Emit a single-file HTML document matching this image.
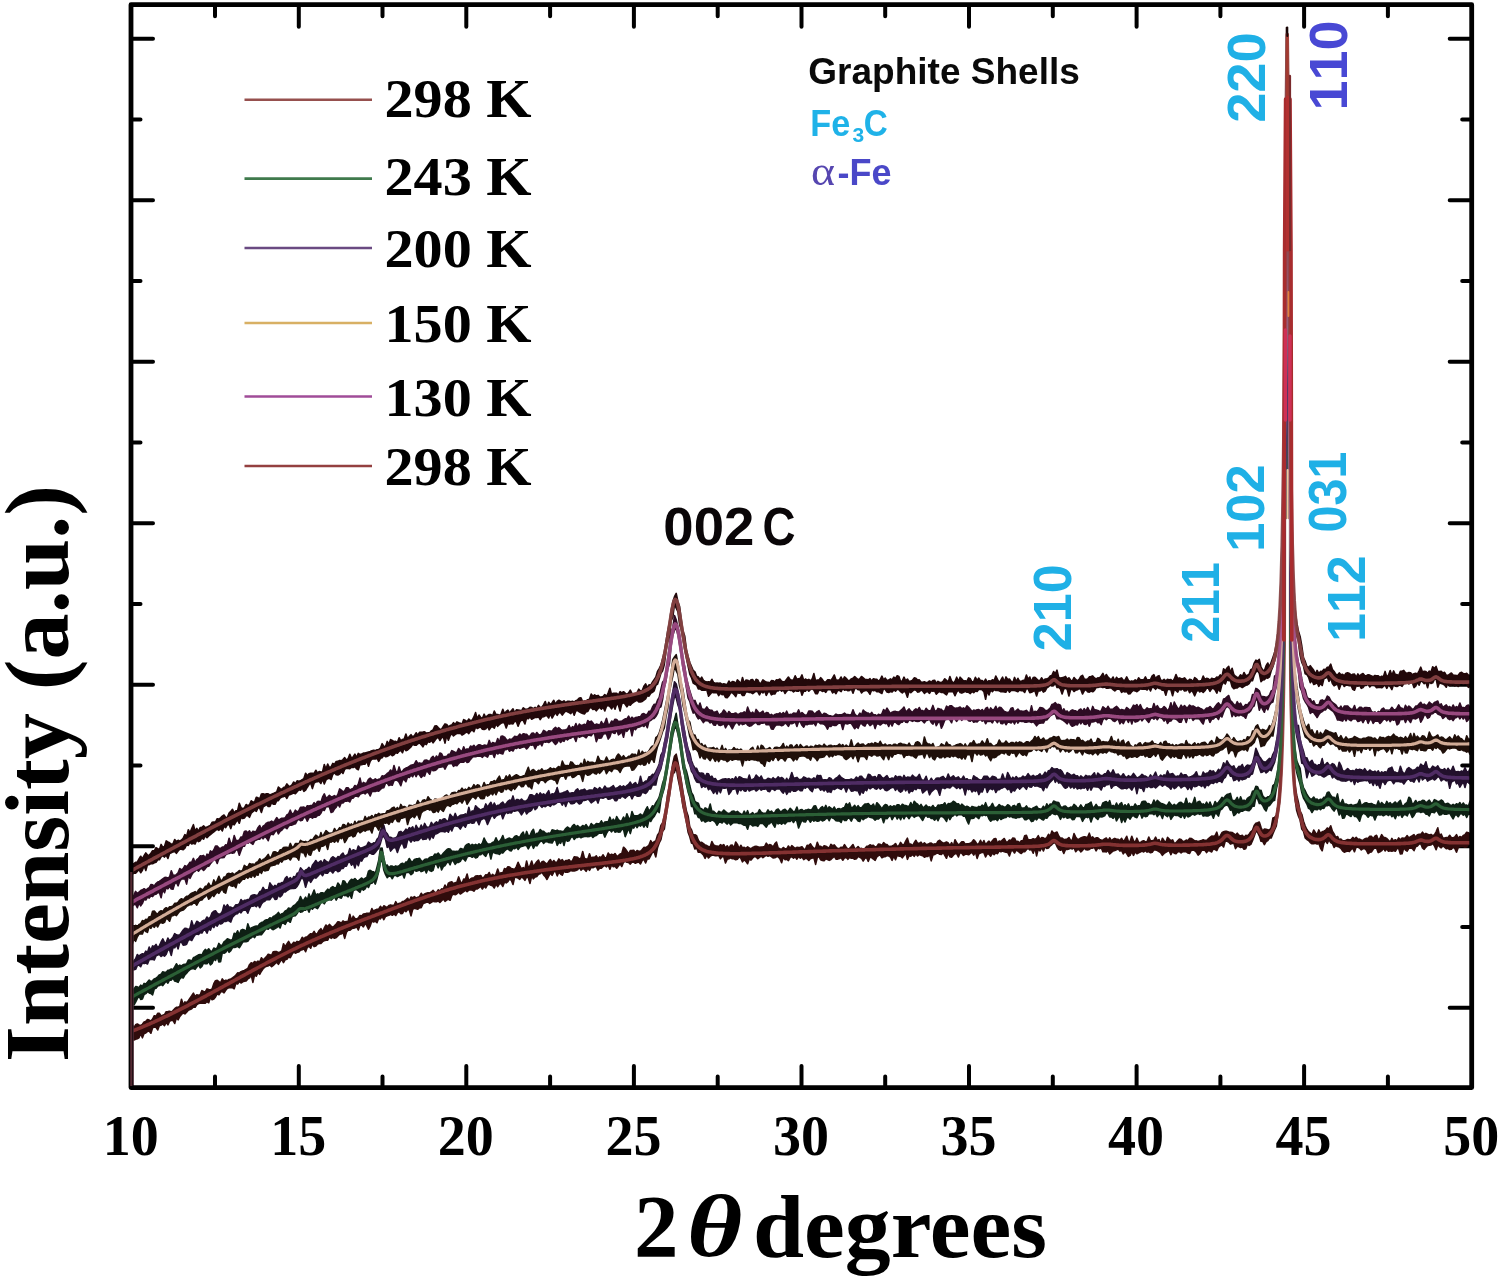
<!DOCTYPE html>
<html lang="en"><head><meta charset="utf-8"><title>XRD patterns</title>
<style>html,body{margin:0;padding:0;background:#fff}body{width:1500px;height:1281px;overflow:hidden}svg{display:block;filter:blur(.55px)}</style></head>
<body>
<svg width="1500" height="1281" viewBox="0 0 1500 1281">
<rect x="0" y="0" width="1500" height="1281" fill="#fff"/>
<g stroke="#000" stroke-width="4.0" stroke-linecap="round" fill="none">
<path d="M215.0 6.7v9.5M215.0 1085.6v-9.0M298.8 6.7v20.0M298.8 1085.6v-19.5M382.5 6.7v9.5M382.5 1085.6v-9.0M466.3 6.7v20.0M466.3 1085.6v-19.5M550.1 6.7v9.5M550.1 1085.6v-9.0M633.9 6.7v20.0M633.9 1085.6v-19.5M717.7 6.7v9.5M717.7 1085.6v-9.0M801.5 6.7v20.0M801.5 1085.6v-19.5M885.2 6.7v9.5M885.2 1085.6v-9.0M969.0 6.7v20.0M969.0 1085.6v-19.5M1052.8 6.7v9.5M1052.8 1085.6v-9.0M1136.6 6.7v20.0M1136.6 1085.6v-19.5M1220.4 6.7v9.5M1220.4 1085.6v-9.0M1304.1 6.7v20.0M1304.1 1085.6v-19.5M1387.9 6.7v9.5M1387.9 1085.6v-9.0M133.0 38.8h20.0M1469.7 38.8h-20.0M133.0 119.5h7.5M1469.7 119.5h-7.5M133.0 200.3h20.0M1469.7 200.3h-20.0M133.0 281.1h7.5M1469.7 281.1h-7.5M133.0 361.8h20.0M1469.7 361.8h-20.0M133.0 442.6h7.5M1469.7 442.6h-7.5M133.0 523.3h20.0M1469.7 523.3h-20.0M133.0 604.0h7.5M1469.7 604.0h-7.5M133.0 684.8h20.0M1469.7 684.8h-20.0M133.0 765.5h7.5M1469.7 765.5h-7.5M133.0 846.3h20.0M1469.7 846.3h-20.0M133.0 927.0h7.5M1469.7 927.0h-7.5M133.0 1007.8h20.0M1469.7 1007.8h-20.0"/>
</g>
<g fill="none" stroke-linejoin="round" stroke-linecap="round">
<path fill="#300c0c" stroke="#300c0c" stroke-width="1.6" d="M132.2 1024.7l1.7 3l1.7 -2.9l1.7 -0.8l1.7 1l1.7 0.7l1.7 -1.4l1.7 -2.3l1.7 -0.6l1.7 -1.9l1.7 0.6l1.7 0.9l1.7 -2l1.7 -3.3l1.7 0.6l1.7 -2.9l1.7 0l1.7 2.6l1.7 -0.8l1.7 -0.6l1.7 -2.9l1.7 -0.2l1.7 -0.3l1.7 0.8l1.7 -1.5l1.7 -1.8l1.7 -1.3l1.7 -0.1l1.7 -0.8l1.7 -7.2l1.7 5.6l1.7 -3l1.7 0.8l1.7 -2l1.7 -2.5l1.7 -2.4l1.7 -2.6l1.7 3.3l1.7 -1.7l1.7 0.4l1.7 -0.4l1.7 -4.2l1.7 0.9l1.7 0.5l1.7 -3.1l1.7 0.7l1.7 0.4l1.7 -1.1l1.7 -5.2l1.7 -3l1.7 -0.3l1.7 1.3l1.7 1.1l1.7 -3.9l1.7 2.4l1.7 -1l1.7 0.3l1.7 -1.2l1.7 -0.5l1.7 -0.9l1.7 -1.3l1.7 -1.7l1.7 -2.1l1.7 0.2l1.7 -1.4l1.7 -0.7l1.7 -0.5l1.7 -1.1l1.7 -0.9l1.7 -3.8l1.7 -1.9l1.7 0.8l1.7 -2.1l1.7 1.2l1.7 -1.6l1.7 0.9l1.7 -4.2l1.7 2.2l1.7 -1.7l1.7 -1.6l1.7 -2.5l1.7 0.5l1.7 0.7l1.7 -3.7l1.7 -0.2l1.7 0.1l1.7 1.1l1.7 -0.7l1.7 -1.1l1.7 -7.2l1.7 3.3l1.7 -3.1l1.7 -2.5l1.7 2.9l1.7 0.4l1.7 -2.4l1.7 0.7l1.7 -1.6l1.7 0.5l1.7 -1.2l1.7 -3.4l1.7 1.5l1.7 -1.6l1.7 -0.4l1.7 -1.6l1.7 -1.5l1.7 0.3l1.7 -2.6l1.7 3.1l1.7 -1.1l1.7 -2.9l1.7 -1.8l1.7 3.2l1.7 -3.9l1.7 -3l1.7 1.7l1.7 -2.3l1.7 1.8l1.7 1.2l1.7 -1.6l1.7 -1.8l1.7 -2.2l1.7 0.3l1.7 1.1l1.7 -2.3l1.7 1.2l1.7 -0.6l1.7 0.3l1.7 -7.5l1.7 6.2l1.7 -4.3l1.7 2.2l1.7 0.7l1.7 -1.2l1.7 -2.4l1.7 0.6l1.7 -2l1.7 -0.2l1.7 -0.7l1.7 0.2l1.7 -0.3l1.7 -4.5l1.7 2.8l1.7 -1.5l1.7 -0.6l1.7 -0.1l1.7 -2.9l1.7 2.3l1.7 -2.8l1.7 1l1.7 0.7l1.7 -2.1l1.7 -0.5l1.7 0.5l1.7 0.2l1.7 -3.9l1.7 2.7l1.7 -1l1.7 -0.3l1.7 -1.5l1.7 -0.4l1.7 -1.3l1.7 -1.7l1.7 2.8l1.7 -3.9l1.7 0.7l1.7 -1.2l1.7 1.5l1.7 -0.9l1.7 -0.5l1.7 -3.4l1.7 2.5l1.7 -1.9l1.7 -0.7l1.7 -0.4l1.7 0.2l1.7 -1l1.7 -1.6l1.7 2.1l1.7 0.1l1.7 -2.8l1.7 1.1l1.7 -2l1.7 0.4l1.7 -4.3l1.7 3.6l1.7 -5.5l1.7 -0.9l1.7 -0.4l1.7 2l1.7 -1l1.7 -0.5l1.7 -5.4l1.7 4.6l1.7 2.3l1.7 -4.8l1.7 0.2l1.7 -5.2l1.7 7l1.7 -2.1l1.7 -0.9l1.7 -0.1l1.7 -1.8l1.7 -0.2l1.7 0.2l1.7 -0.6l1.7 2.9l1.7 -1.4l1.7 -2.2l1.7 0.3l1.7 -2.6l1.7 4.1l1.7 -2.3l1.7 1.7l1.7 -1.7l1.7 -5.2l1.7 5l1.7 -1.4l1.7 0.3l1.7 -4.4l1.7 0.7l1.7 -2.6l1.7 0.4l1.7 1.6l1.7 0.2l1.7 0.6l1.7 -2.9l1.7 -4.3l1.7 3.7l1.7 3l1.7 -1.4l1.7 1.7l1.7 -8.3l1.7 6.7l1.7 -1.9l1.7 -4.8l1.7 6l1.7 -2.8l1.7 -2.5l1.7 -1.7l1.7 4.7l1.7 -2.9l1.7 -0.4l1.7 1.6l1.7 1.2l1.7 -2.6l1.7 -2.1l1.7 3.4l1.7 -2.4l1.7 2.2l1.7 -0.6l1.7 -3.2l1.7 2l1.7 -1.2l1.7 2.4l1.7 -1.5l1.7 0l1.7 -0.9l1.7 2.2l1.7 -1.4l1.7 -3.7l1.7 0.2l1.7 0.3l1.7 1.9l1.7 -1.3l1.7 -6.4l1.7 6.8l1.7 0.8l1.7 -0.1l1.7 -5.3l1.7 4.8l1.7 -1.3l1.7 0.2l1.7 -1.5l1.7 2.8l1.7 -1.8l1.7 0.5l1.7 -2.6l1.7 3.2l1.7 -0.5l1.7 -4.5l1.7 2.4l1.7 -1.2l1.7 1.2l1.7 -1.9l1.7 2.7l1.7 -0.5l1.7 -1.6l1.7 -0.6l1.7 -6.3l1.7 1.6l1.7 2.4l1.7 2.8l1.7 -3.4l1.7 0l1.7 -0.3l1.7 2.5l1.7 -2.3l1.7 0.9l1.7 -0.1l1.7 -1.8l1.7 -2.1l1.7 0.4l1.7 -1l1.7 -1.8l1.7 -4.3l1.7 2.7l1.7 -1.7l1.7 -0.8l1.7 -5.6l1.7 -2.7l1.7 -7.1l1.7 -2.6l1.7 -7l1.7 -9l1.7 -12.8l1.7 -8.7l1.7 -11.6l1.7 -10.4l1.7 -7.1l1.7 -2.1l1.7 7.6l1.7 9.4l1.7 9.7l1.7 11.3l1.7 9.4l1.7 9.5l1.7 4.8l1.7 11.1l1.7 2.8l1.7 5.5l1.7 -0.6l1.7 1l1.7 4.6l1.7 2.5l1.7 -0.5l1.7 1.3l1.7 1.3l1.7 0.7l1.7 1l1.7 0.4l1.7 -5.5l1.7 3.4l1.7 0.9l1.7 0.2l1.7 0.8l1.7 -2.1l1.7 1l1.7 -1.1l1.7 3.4l1.7 -2.2l1.7 2.7l1.7 -3.2l1.7 -0.2l1.7 3l1.7 -6.1l1.7 2.4l1.7 4.5l1.7 -3.6l1.7 2.7l1.7 -0.7l1.7 1.1l1.7 -1.5l1.7 1.1l1.7 0.9l1.7 -1.5l1.7 -0.8l1.7 -0.4l1.7 0.5l1.7 0.7l1.7 -0.4l1.7 -0.1l1.7 -0.2l1.7 -3.6l1.7 2.4l1.7 -0.9l1.7 0.6l1.7 2l1.7 -3.3l1.7 -1.8l1.7 6l1.7 0.7l1.7 0.6l1.7 -1.9l1.7 1.3l1.7 0.1l1.7 -2.9l1.7 2.4l1.7 -2.7l1.7 1.4l1.7 1.4l1.7 -1.2l1.7 0.2l1.7 -0.3l1.7 -0.4l1.7 2.2l1.7 0.2l1.7 -4l1.7 0.4l1.7 -1.7l1.7 2.8l1.7 1.6l1.7 -0.1l1.7 -5.9l1.7 4.3l1.7 -0.3l1.7 1.5l1.7 -2l1.7 0.5l1.7 1l1.7 0.7l1.7 -3.7l1.7 1.5l1.7 -0.9l1.7 2.1l1.7 1.5l1.7 0.1l1.7 -1.4l1.7 0.5l1.7 -3l1.7 2.6l1.7 2l1.7 -0.9l1.7 -1.9l1.7 -2l1.7 4.1l1.7 -0.3l1.7 -1.8l1.7 2.2l1.7 -0.3l1.7 0.6l1.7 -0.6l1.7 -2l1.7 -0.2l1.7 -1.4l1.7 0.8l1.7 -0.3l1.7 1.9l1.7 -0.8l1.7 -2.3l1.7 0.2l1.7 1.1l1.7 -2.7l1.7 1.5l1.7 0.4l1.7 1.9l1.7 -0.1l1.7 -0.5l1.7 -0.8l1.7 -1.6l1.7 3.1l1.7 -1l1.7 -3.2l1.7 2.4l1.7 0.1l1.7 -3.8l1.7 -2.9l1.7 6.1l1.7 -0.2l1.7 1.8l1.7 -3.1l1.7 -2.5l1.7 3l1.7 0l1.7 -1.2l1.7 2.6l1.7 -1.9l1.7 1.8l1.7 -0.2l1.7 -1l1.7 -0.4l1.7 1.4l1.7 -0.5l1.7 0.2l1.7 -3l1.7 -0.8l1.7 1.7l1.7 1.1l1.7 -0.4l1.7 -0.7l1.7 0.9l1.7 2.7l1.7 -2.9l1.7 3.7l1.7 -6.7l1.7 3.1l1.7 2.2l1.7 -1.4l1.7 -1.9l1.7 0l1.7 2.5l1.7 -0.5l1.7 0l1.7 -0.4l1.7 -1.2l1.7 -2.3l1.7 1.8l1.7 2.9l1.7 -0.9l1.7 -3.3l1.7 3.8l1.7 -3.6l1.7 4.2l1.7 -2l1.7 -1.5l1.7 2l1.7 -2.5l1.7 -1.9l1.7 -0.2l1.7 4.8l1.7 -2.4l1.7 0.8l1.7 -2l1.7 -1.3l1.7 3.4l1.7 0.1l1.7 -2l1.7 0.6l1.7 -2.6l1.7 0.2l1.7 3.6l1.7 -0.4l1.7 1.5l1.7 -2.2l1.7 0.3l1.7 -5.2l1.7 -0.5l1.7 4.4l1.7 0.2l1.7 -0.1l1.7 -1l1.7 0.6l1.7 -1l1.7 -2.7l1.7 3.9l1.7 -2l1.7 0.3l1.7 1l1.7 -1.2l1.7 -3.4l1.7 2.2l1.7 -5.5l1.7 2.3l1.7 -0.6l1.7 -0.7l1.7 4.1l1.7 2.2l1.7 -0.3l1.7 1.6l1.7 -0.2l1.7 -0.3l1.7 -1.6l1.7 2.9l1.7 -0.2l1.7 -6.6l1.7 3.6l1.7 2.1l1.7 -0.2l1.7 -1.1l1.7 -0.7l1.7 -0.6l1.7 0.4l1.7 0.1l1.7 -4l1.7 5l1.7 -1.3l1.7 2.1l1.7 -1.1l1.7 -0.2l1.7 1.7l1.7 0.6l1.7 0.2l1.7 -1.3l1.7 -0.9l1.7 2.8l1.7 -3l1.7 2.8l1.7 -1.3l1.7 -0.9l1.7 0.8l1.7 0.1l1.7 1.1l1.7 -2.1l1.7 3.4l1.7 -2.3l1.7 -3.1l1.7 5.3l1.7 -0.4l1.7 -4.9l1.7 4.6l1.7 1.5l1.7 -4.2l1.7 4l1.7 0.4l1.7 -1.3l1.7 -0.6l1.7 1.5l1.7 -0.6l1.7 -4.5l1.7 3.8l1.7 -0.1l1.7 -0.4l1.7 -3.3l1.7 3.8l1.7 -1.4l1.7 4.4l1.7 -5.7l1.7 2.6l1.7 2l1.7 -5.4l1.7 1.6l1.7 1.7l1.7 -0.8l1.7 3.6l1.7 -0.7l1.7 -2l1.7 -1.7l1.7 0.4l1.7 2.1l1.7 -0.3l1.7 -1.2l1.7 0.7l1.7 -2.4l1.7 0.1l1.7 1.2l1.7 1.3l1.7 -0.1l1.7 0.6l1.7 -0.5l1.7 -0.4l1.7 -0.9l1.7 0.7l1.7 0.2l1.7 -1.8l1.7 -1.5l1.7 -1.2l1.7 0.3l1.7 -0.8l1.7 -3.5l1.7 6.1l1.7 -2.3l1.7 -3.1l1.7 -1l1.7 -0.5l1.7 0.1l1.7 0.6l1.7 0.2l1.7 0.3l1.7 1.1l1.7 1.5l1.7 -1.9l1.7 1.9l1.7 0.8l1.7 -0.7l1.7 2.3l1.7 -2.1l1.7 0.4l1.7 -1.5l1.7 -2.5l1.7 -1.5l1.7 -4.9l1.7 -2.2l1.7 -0.5l1.7 -0.7l1.7 5.2l1.7 4.1l1.7 -2.2l1.7 0.3l1.7 0.3l1.7 0.6l1.7 -2.7l1.7 -9.5l1.7 -0.7l1.7 -2.2l1.7 -9.7l1.7 -18.9l1.7 -26.8l1.7 -55.5l1.7 -120l1.7 -168.3l1.7 14.7l1.7 180.6l1.7 104.4l1.7 48l1.7 21.1l1.7 10.4l1.7 6.9l1.7 9.1l1.7 3.1l1.7 7l1.7 4.8l1.7 3.4l1.7 2.4l1.7 1.3l1.7 1.6l1.7 -4.8l1.7 2.7l1.7 1.9l1.7 -4.7l1.7 3.6l1.7 -1.7l1.7 -0.5l1.7 -1l1.7 -2.3l1.7 1.2l1.7 -3.4l1.7 5.5l1.7 2.6l1.7 3.6l1.7 -1l1.7 3.2l1.7 -0.7l1.7 1.7l1.7 0.2l1.7 -0.6l1.7 -0.7l1.7 0.3l1.7 -0.5l1.7 -2l1.7 1.7l1.7 -1.7l1.7 1.8l1.7 -0.1l1.7 0.9l1.7 0.3l1.7 -1.4l1.7 -0.7l1.7 0.3l1.7 -2.2l1.7 0.1l1.7 2.3l1.7 -2.4l1.7 -1l1.7 4.7l1.7 -1.8l1.7 -3.5l1.7 2.5l1.7 0.4l1.7 0.9l1.7 1.7l1.7 1.8l1.7 -3.6l1.7 2.8l1.7 -1.5l1.7 1.1l1.7 -2.9l1.7 2.2l1.7 -2.1l1.7 0.4l1.7 -0.6l1.7 -2.2l1.7 2.4l1.7 -1.4l1.7 -0.9l1.7 -1.1l1.7 2.7l1.7 -2.5l1.7 -0.4l1.7 0l1.7 -2.2l1.7 2.2l1.7 -1l1.7 0.8l1.7 0.7l1.7 -0.5l1.7 1.2l1.7 -0.8l1.7 -3l1.7 -4l1.7 7.8l1.7 -1.6l1.7 4l1.7 0.1l1.7 -0.5l1.7 0.2l1.7 -2.5l1.7 2.5l1.7 0.1l1.7 -0.9l1.7 -2.3l1.7 3.6l1.7 -1.8l1.7 1.1l1.7 -2.2l1.7 -0.7l1.7 -2.5l1.7 0.5l1.7 1.2l0 8.7l-1.7 1.6l-1.7 2.5l-1.7 0.5l-1.7 -1l-1.7 -0.1l-1.7 0.3l-1.7 1.2l-1.7 4.5l-1.7 -3.8l-1.7 -1.2l-1.7 2.1l-1.7 0.3l-1.7 -1.2l-1.7 0.5l-1.7 -1.7l-1.7 -1.2l-1.7 1.9l-1.7 -1.3l-1.7 -1.5l-1.7 4.7l-1.7 -4l-1.7 -2.3l-1.7 1.5l-1.7 0.2l-1.7 0.4l-1.7 1.6l-1.7 2.3l-1.7 -1.4l-1.7 -4.3l-1.7 0.3l-1.7 2.1l-1.7 0.6l-1.7 3.9l-1.7 -2.2l-1.7 -0.5l-1.7 0.2l-1.7 3.1l-1.7 -1.2l-1.7 -2.5l-1.7 6.2l-1.7 0.2l-1.7 -5.5l-1.7 0.1l-1.7 2.7l-1.7 -0.6l-1.7 0.7l-1.7 -0.6l-1.7 0.6l-1.7 -2.6l-1.7 2.2l-1.7 -2.8l-1.7 2.6l-1.7 1.1l-1.7 0.8l-1.7 -4.5l-1.7 -0.2l-1.7 1.3l-1.7 2.7l-1.7 0.4l-1.7 1.3l-1.7 -3.5l-1.7 -1.6l-1.7 0.1l-1.7 1.3l-1.7 -1.9l-1.7 -0.7l-1.7 -0.2l-1.7 4.7l-1.7 -3.7l-1.7 1.4l-1.7 2.1l-1.7 -0.5l-1.7 0.5l-1.7 0.6l-1.7 -1.4l-1.7 -2.5l-1.7 -1.2l-1.7 -0.5l-1.7 -1.1l-1.7 1.9l-1.7 -3.9l-1.7 -0.9l-1.7 -3.1l-1.7 3.8l-1.7 -3l-1.7 2.8l-1.7 7.7l-1.7 -2.8l-1.7 -4.8l-1.7 0.9l-1.7 -0.8l-1.7 0.5l-1.7 0l-1.7 -1.2l-1.7 -2.1l-1.7 -1l-1.7 -1.6l-1.7 -6.5l-1.7 -2.3l-1.7 -9.1l-1.7 -4.1l-1.7 -5.3l-1.7 -12l-1.7 -22.8l-1.7 -46.9l-1.7 -107.6l-1.7 -174.8l-1.7 -21.2l-1.7 170.3l-1.7 121.8l-1.7 56.8l-1.7 27.7l-1.7 12.3l-1.7 11.7l-1.7 3.9l-1.7 3.8l-1.7 4.4l-1.7 0l-1.7 2.6l-1.7 1l-1.7 3l-1.7 -3.2l-1.7 -0.1l-1.7 -5.5l-1.7 -3.5l-1.7 -1l-1.7 4.9l-1.7 4.4l-1.7 3.8l-1.7 1l-1.7 -1.3l-1.7 4.7l-1.7 0.4l-1.7 -2.4l-1.7 0.7l-1.7 -1l-1.7 -0.4l-1.7 2.5l-1.7 -5.7l-1.7 0.6l-1.7 0.6l-1.7 -2l-1.7 -0.8l-1.7 -0.2l-1.7 5.9l-1.7 -2.3l-1.7 1l-1.7 1.3l-1.7 3.6l-1.7 -1l-1.7 -0.9l-1.7 3.3l-1.7 -1l-1.7 -0.5l-1.7 2.1l-1.7 -2.4l-1.7 -0.3l-1.7 0.7l-1.7 3.1l-1.7 1.4l-1.7 -2.9l-1.7 -1.6l-1.7 -0.5l-1.7 0.1l-1.7 3.3l-1.7 -0.5l-1.7 -1.3l-1.7 -0.2l-1.7 0.1l-1.7 1.3l-1.7 -1.5l-1.7 0.4l-1.7 2l-1.7 -0.5l-1.7 -2.1l-1.7 3.5l-1.7 -4l-1.7 0.6l-1.7 1l-1.7 1.1l-1.7 1.9l-1.7 -2.6l-1.7 -1.2l-1.7 -1l-1.7 -0.5l-1.7 -0.2l-1.7 2.4l-1.7 0.6l-1.7 -1.2l-1.7 0.5l-1.7 -1.7l-1.7 1.6l-1.7 -1l-1.7 1l-1.7 0.7l-1.7 1l-1.7 -2.1l-1.7 3.7l-1.7 -3.8l-1.7 3.9l-1.7 0.9l-1.7 -2.8l-1.7 -2l-1.7 2.4l-1.7 -3.5l-1.7 0.7l-1.7 -2.4l-1.7 1l-1.7 0.7l-1.7 0.5l-1.7 1.5l-1.7 1.6l-1.7 -3.7l-1.7 1.6l-1.7 -0.4l-1.7 0.3l-1.7 -4.4l-1.7 1.4l-1.7 -1l-1.7 3.1l-1.7 -3.4l-1.7 0.6l-1.7 0l-1.7 1.3l-1.7 0.5l-1.7 -0.1l-1.7 -1.8l-1.7 2.4l-1.7 1.5l-1.7 -2.4l-1.7 0.3l-1.7 1.9l-1.7 -4.1l-1.7 1.3l-1.7 -0.7l-1.7 0.7l-1.7 0.6l-1.7 -0.1l-1.7 4.1l-1.7 -4.1l-1.7 0.8l-1.7 -0.9l-1.7 -2.8l-1.7 -3.8l-1.7 0.3l-1.7 1.5l-1.7 1.3l-1.7 2.1l-1.7 0.5l-1.7 -1.8l-1.7 4.4l-1.7 -3.7l-1.7 3.6l-1.7 -2.2l-1.7 7.2l-1.7 -8.3l-1.7 5.6l-1.7 -3.7l-1.7 0.4l-1.7 -1.8l-1.7 1.6l-1.7 2l-1.7 0.1l-1.7 1.7l-1.7 -1l-1.7 -1.4l-1.7 -1.2l-1.7 3.1l-1.7 -2.7l-1.7 0.8l-1.7 4.8l-1.7 -3.4l-1.7 -0.3l-1.7 -0.5l-1.7 -0.7l-1.7 0.8l-1.7 -1l-1.7 2.9l-1.7 -0.9l-1.7 1.9l-1.7 -1.7l-1.7 3.2l-1.7 -2l-1.7 -0.6l-1.7 3.4l-1.7 -4.4l-1.7 -0.3l-1.7 0.7l-1.7 0.8l-1.7 4.6l-1.7 -6.5l-1.7 3.2l-1.7 -2.8l-1.7 1.1l-1.7 1.4l-1.7 -0.5l-1.7 0l-1.7 1.1l-1.7 -2.2l-1.7 -0.7l-1.7 4.4l-1.7 -3.2l-1.7 0l-1.7 1.5l-1.7 2l-1.7 -0.5l-1.7 -3.8l-1.7 5.4l-1.7 -2.9l-1.7 -3l-1.7 2.1l-1.7 -0.2l-1.7 -1.4l-1.7 0.5l-1.7 1.1l-1.7 0.6l-1.7 5.8l-1.7 -6.6l-1.7 2.2l-1.7 -0.3l-1.7 1l-1.7 -1.5l-1.7 -0.5l-1.7 -0.8l-1.7 1.6l-1.7 -2.3l-1.7 2.6l-1.7 -1.9l-1.7 1.7l-1.7 -0.4l-1.7 3.6l-1.7 -6.9l-1.7 3.2l-1.7 2.2l-1.7 -1.7l-1.7 0l-1.7 -0.9l-1.7 4.5l-1.7 -3.8l-1.7 4.4l-1.7 -3.3l-1.7 -1.1l-1.7 -0.4l-1.7 1.2l-1.7 0l-1.7 1l-1.7 -2.6l-1.7 0.5l-1.7 1.3l-1.7 3.5l-1.7 -1.4l-1.7 -1.3l-1.7 -0.8l-1.7 4.4l-1.7 -3.6l-1.7 0.5l-1.7 2.8l-1.7 -2.8l-1.7 -0.9l-1.7 -0.9l-1.7 2.4l-1.7 0.5l-1.7 -1.3l-1.7 0.2l-1.7 -0.9l-1.7 2l-1.7 -1.8l-1.7 0.2l-1.7 2.5l-1.7 -2.6l-1.7 0.9l-1.7 0.6l-1.7 0.1l-1.7 -3l-1.7 1.6l-1.7 1.7l-1.7 0.9l-1.7 -0.8l-1.7 -0.8l-1.7 1.9l-1.7 -0.3l-1.7 -0.6l-1.7 -3.4l-1.7 1.1l-1.7 6.9l-1.7 -6.9l-1.7 0.6l-1.7 0.4l-1.7 2l-1.7 -1.7l-1.7 -0.5l-1.7 1.3l-1.7 -2.7l-1.7 1.3l-1.7 -1.8l-1.7 2.8l-1.7 -2.4l-1.7 1.3l-1.7 -1.5l-1.7 0.8l-1.7 3.2l-1.7 -1.4l-1.7 0.4l-1.7 -2.5l-1.7 5.6l-1.7 -3.9l-1.7 -2l-1.7 -0.1l-1.7 1l-1.7 0.3l-1.7 -1.4l-1.7 -1l-1.7 0.7l-1.7 -0.9l-1.7 1l-1.7 1.3l-1.7 -1.8l-1.7 1.5l-1.7 1.3l-1.7 -1.8l-1.7 -0.4l-1.7 1.4l-1.7 2.2l-1.7 -1.4l-1.7 5l-1.7 -2.4l-1.7 -1.6l-1.7 2.1l-1.7 -3.7l-1.7 -1.3l-1.7 2.5l-1.7 0.4l-1.7 -1l-1.7 0.1l-1.7 -0.9l-1.7 0.9l-1.7 0.4l-1.7 3.8l-1.7 -6.2l-1.7 -0.2l-1.7 2.1l-1.7 -3.4l-1.7 0.3l-1.7 0.1l-1.7 -0.4l-1.7 -0.1l-1.7 0.9l-1.7 1.9l-1.7 -3.1l-1.7 3.4l-1.7 -3.3l-1.7 -1.9l-1.7 -1l-1.7 0l-1.7 -4.4l-1.7 1.3l-1.7 -5.1l-1.7 -0.9l-1.7 -6.3l-1.7 -4.5l-1.7 -10l-1.7 -9.2l-1.7 -6.4l-1.7 -11.3l-1.7 -9.1l-1.7 -8l-1.7 -11.4l-1.7 5.5l-1.7 1.6l-1.7 9.8l-1.7 12.6l-1.7 9.3l-1.7 11.4l-1.7 12.1l-1.7 2.2l-1.7 8.4l-1.7 3.2l-1.7 4.8l-1.7 9.2l-1.7 -5.2l-1.7 0.8l-1.7 3.2l-1.7 3.2l-1.7 -0.2l-1.7 4.2l-1.7 -3.6l-1.7 1.1l-1.7 3.6l-1.7 -2.1l-1.7 0.5l-1.7 0.9l-1.7 -1.1l-1.7 -0.2l-1.7 2.1l-1.7 -1.7l-1.7 -0.2l-1.7 -0.8l-1.7 0.9l-1.7 4.2l-1.7 -3l-1.7 2.6l-1.7 2.1l-1.7 -2l-1.7 0.5l-1.7 -1.9l-1.7 4.5l-1.7 -4.4l-1.7 1.9l-1.7 -1.4l-1.7 1.1l-1.7 1.6l-1.7 -0.2l-1.7 2.2l-1.7 -3.5l-1.7 0.1l-1.7 1l-1.7 -0.4l-1.7 3.1l-1.7 -2.3l-1.7 3.2l-1.7 -2.1l-1.7 -0.6l-1.7 1.6l-1.7 -2.9l-1.7 2.5l-1.7 0.6l-1.7 0.5l-1.7 0.1l-1.7 -0.6l-1.7 1.3l-1.7 0.4l-1.7 0.2l-1.7 -1.1l-1.7 4l-1.7 -1.2l-1.7 -1.9l-1.7 3.7l-1.7 -4.8l-1.7 0.9l-1.7 3.5l-1.7 -2.4l-1.7 3.2l-1.7 3.3l-1.7 -2.9l-1.7 -1.7l-1.7 -2.7l-1.7 1.5l-1.7 0.5l-1.7 2.2l-1.7 0.6l-1.7 1.8l-1.7 -2.9l-1.7 7.5l-1.7 -5.5l-1.7 -1l-1.7 3.4l-1.7 -2.2l-1.7 -1.2l-1.7 2.5l-1.7 -1.3l-1.7 -0.6l-1.7 -0.5l-1.7 7.5l-1.7 -4.2l-1.7 -1.5l-1.7 2.8l-1.7 1.3l-1.7 -1l-1.7 4.5l-1.7 -2.9l-1.7 0.3l-1.7 2.9l-1.7 -2.7l-1.7 3.9l-1.7 -2.1l-1.7 -0.6l-1.7 -1l-1.7 0.4l-1.7 3.4l-1.7 -1.8l-1.7 2.8l-1.7 -2.6l-1.7 1.2l-1.7 1.4l-1.7 -0.1l-1.7 2.3l-1.7 -1.1l-1.7 -0.3l-1.7 0.3l-1.7 1.6l-1.7 -1.6l-1.7 1.6l-1.7 1.2l-1.7 1.1l-1.7 -2l-1.7 1.8l-1.7 1l-1.7 -0.7l-1.7 1.3l-1.7 4.9l-1.7 -1.2l-1.7 1l-1.7 1.2l-1.7 -2.4l-1.7 1.8l-1.7 1.7l-1.7 -1.6l-1.7 0.9l-1.7 0l-1.7 -0.5l-1.7 1.2l-1.7 1l-1.7 -1.4l-1.7 0.2l-1.7 0.7l-1.7 1l-1.7 3.7l-1.7 0l-1.7 1.7l-1.7 -0.5l-1.7 -0.6l-1.7 1.2l-1.7 6.5l-1.7 -6.1l-1.7 -0.3l-1.7 2.2l-1.7 -1.5l-1.7 3.3l-1.7 0.1l-1.7 -2l-1.7 0.9l-1.7 3l-1.7 -1.6l-1.7 1.4l-1.7 -0.9l-1.7 0.9l-1.7 0.4l-1.7 0.8l-1.7 3.2l-1.7 -3.5l-1.7 2.7l-1.7 -0.7l-1.7 4.5l-1.7 -1.6l-1.7 0.9l-1.7 -1.2l-1.7 5l-1.7 3.4l-1.7 -3.6l-1.7 -2.3l-1.7 3.6l-1.7 -2l-1.7 0.4l-1.7 4.7l-1.7 -3.4l-1.7 1.3l-1.7 0.2l-1.7 0.8l-1.7 1.4l-1.7 0l-1.7 2l-1.7 6.1l-1.7 -6.2l-1.7 1.8l-1.7 0.2l-1.7 1.6l-1.7 1.8l-1.7 0.7l-1.7 -1.2l-1.7 1.2l-1.7 -1.9l-1.7 3.9l-1.7 0l-1.7 0.3l-1.7 1.1l-1.7 1.8l-1.7 -0.1l-1.7 0.6l-1.7 2.1l-1.7 0.5l-1.7 -3.1l-1.7 4.8l-1.7 -2l-1.7 0.9l-1.7 4.5l-1.7 -3l-1.7 1l-1.7 0.5l-1.7 1.7l-1.7 0.4l-1.7 0.9l-1.7 -1.2l-1.7 2.4l-1.7 3.3l-1.7 -1l-1.7 2.6l-1.7 0.3l-1.7 3l-1.7 -3.3l-1.7 2.3l-1.7 2.7l-1.7 -2.2l-1.7 1.6l-1.7 1.6l-1.7 1.4l-1.7 -1.8l-1.7 1l-1.7 0.3l-1.7 0.9l-1.7 1.7l-1.7 2.4l-1.7 3.1l-1.7 -1.9l-1.7 3.7l-1.7 -1.5l-1.7 7.8l-1.7 -7.4l-1.7 2.9l-1.7 1l-1.7 2.1l-1.7 0.2l-1.7 0.6l-1.7 1.2l-1.7 -1.5l-1.7 2.5l-1.7 -0.7l-1.7 5.5l-1.7 -1.3l-1.7 0.2l-1.7 0l-1.7 0.6l-1.7 1.9l-1.7 2.7l-1.7 -1.5l-1.7 0.6l-1.7 2.7l-1.7 -1l-1.7 3.2l-1.7 2.2l-1.7 0.6l-1.7 -2.2l-1.7 5.3l-1.7 -1.3l-1.7 1.6l-1.7 0.2l-1.7 -0.4l-1.7 0.3l-1.7 0.3l-1.7 1.1l-1.7 2.6l-1.7 -0.2l-1.7 1.7l-1.7 0.9l-1.7 0.6l-1.7 2l-1.7 1.7l-1.7 -0.9l-1.7 1.4l-1.7 2.1l-1.7 3.3l-1.7 -2.1l-1.7 5.7l-1.7 -3l-1.7 -0.1l-1.7 0.9l-1.7 3.6l-1.7 -2.7l-1.7 3.6l-1.7 -1.8l-1.7 1.2l-1.7 0.3l-1.7 4.5l-1.7 -2.6l-1.7 -0.2l-1.7 0.7l-1.7 5.5l-1.7 -2.3l-1.7 0.5l-1.7 1.5l-1.7 0.5l-1.7 4.3l-1.7 -4.3l-1.7 4.3l-1.7 0.9l-1.7 0.5l-1.7 0.8l-1.7 -3.1z"/>
<path fill="#0e2014" stroke="#0e2014" stroke-width="1.6" d="M132.2 990.6l1.7 -1.4l1.7 -2.6l1.7 0.3l1.7 0.9l1.7 -2.6l1.7 1.1l1.7 -2.9l1.7 0.7l1.7 -2l1.7 -2.1l1.7 1.9l1.7 -1.4l1.7 -1.6l1.7 -0.8l1.7 -1.3l1.7 -1.9l1.7 -0.7l1.7 -2.4l1.7 0.6l1.7 -0.1l1.7 -1.9l1.7 -0.4l1.7 -1l1.7 0.7l1.7 -2.8l1.7 -3.1l1.7 2.7l1.7 -1.4l1.7 0.8l1.7 -1.3l1.7 -0.2l1.7 -0.6l1.7 -3.8l1.7 0.1l1.7 1l1.7 -3.3l1.7 -0.9l1.7 -1l1.7 -1l1.7 -0.3l1.7 0.4l1.7 -3.4l1.7 -2.2l1.7 1.7l1.7 -2.3l1.7 2.2l1.7 0.4l1.7 -3.4l1.7 0.9l1.7 -1l1.7 -4.5l1.7 2.3l1.7 -0.6l1.7 -3.2l1.7 -1.4l1.7 -1.8l1.7 0.7l1.7 1l1.7 -1l1.7 -6.1l1.7 0.9l1.7 -3.4l1.7 4.3l1.7 -4.8l1.7 -0.9l1.7 0.7l1.7 1.5l1.7 -7.8l1.7 4.4l1.7 -0.2l1.7 -0.7l1.7 -0.7l1.7 -0.6l1.7 0.2l1.7 -2.5l1.7 -1.1l1.7 -0.5l1.7 -1.6l1.7 -0.8l1.7 -0.2l1.7 -1.8l1.7 0.9l1.7 -2.2l1.7 -0.7l1.7 -1.3l1.7 -2l1.7 2.8l1.7 -1.4l1.7 -0.6l1.7 -2.3l1.7 -0.6l1.7 -2.2l1.7 0.7l1.7 -1.2l1.7 -2l1.7 -0.9l1.7 -2l1.7 -1.6l1.7 -4.5l1.7 4l1.7 -0.6l1.7 -2.9l1.7 3l1.7 -6.2l1.7 4.5l1.7 -4.1l1.7 -4.3l1.7 5.6l1.7 -1.7l1.7 0.7l1.7 -1.9l1.7 0.1l1.7 1l1.7 -2.6l1.7 -2l1.7 1.3l1.7 -2.9l1.7 -1l1.7 1.3l1.7 -0.2l1.7 -4.6l1.7 2l1.7 2.4l1.7 -6.7l1.7 0.5l1.7 3.2l1.7 -0.6l1.7 -2.9l1.7 -1.8l1.7 0.7l1.7 -1.3l1.7 1.8l1.7 0.5l1.7 -1.6l1.7 -1.3l1.7 1.6l1.7 -1.3l1.7 -0.9l1.7 -6.1l1.7 -1l1.7 1.2l1.7 0.2l1.7 1.7l1.7 -6.2l1.7 -6.7l1.7 -12.3l1.7 -0.1l1.7 9.8l1.7 7.7l1.7 -0.6l1.7 2.9l1.7 -1.9l1.7 0.1l1.7 0.8l1.7 -1l1.7 0.5l1.7 -0.7l1.7 -1.7l1.7 -0.8l1.7 1.5l1.7 -2.7l1.7 -0.3l1.7 -3.2l1.7 2.8l1.7 0.7l1.7 -2.5l1.7 -0.6l1.7 -0.1l1.7 -0.6l1.7 2.4l1.7 1.1l1.7 -2.1l1.7 -0.5l1.7 0.1l1.7 -1.8l1.7 -0.6l1.7 -0.1l1.7 -2.6l1.7 0.4l1.7 -1.4l1.7 2.1l1.7 0.6l1.7 -2.5l1.7 -1.8l1.7 -1.7l1.7 -1l1.7 0.3l1.7 2.1l1.7 0l1.7 0.4l1.7 -0.4l1.7 0.3l1.7 -2.9l1.7 0.3l1.7 1l1.7 -4l1.7 -1.5l1.7 -0.7l1.7 2.3l1.7 -1.6l1.7 1l1.7 -1.1l1.7 1.2l1.7 -1.7l1.7 1.7l1.7 -2.5l1.7 -4.9l1.7 3.5l1.7 2.3l1.7 0.1l1.7 -0.2l1.7 -1.3l1.7 -0.7l1.7 -4l1.7 3.8l1.7 0l1.7 -2.3l1.7 -3.7l1.7 5.2l1.7 -1.4l1.7 -0.8l1.7 -0.5l1.7 1l1.7 -0.3l1.7 -2.3l1.7 -0.8l1.7 1.3l1.7 0.1l1.7 -3.1l1.7 -2l1.7 5.4l1.7 -6l1.7 4.5l1.7 -0.4l1.7 -4l1.7 -2.2l1.7 6.1l1.7 -2l1.7 -0.4l1.7 -3.5l1.7 1.5l1.7 0.2l1.7 1.9l1.7 0.7l1.7 -0.8l1.7 0.6l1.7 -3.7l1.7 0.4l1.7 0.6l1.7 -0.8l1.7 1l1.7 -0.1l1.7 0.8l1.7 -0.7l1.7 -2.6l1.7 -1.5l1.7 1.3l1.7 0.5l1.7 -3l1.7 -1.3l1.7 2.5l1.7 -1.3l1.7 1.6l1.7 0.1l1.7 -1.9l1.7 1.2l1.7 -2.1l1.7 2.5l1.7 0.3l1.7 -3.9l1.7 1.9l1.7 -0.2l1.7 -1.7l1.7 0.4l1.7 -0.2l1.7 -2.9l1.7 3.5l1.7 -2.3l1.7 -0.2l1.7 0l1.7 -4.6l1.7 4.6l1.7 -2.6l1.7 2.5l1.7 -5.1l1.7 3l1.7 1.8l1.7 -0.9l1.7 -3.5l1.7 2.9l1.7 -6.2l1.7 4.3l1.7 1.1l1.7 -7.6l1.7 4.1l1.7 0.1l1.7 0.2l1.7 -0.6l1.7 -1.3l1.7 2.1l1.7 -2.5l1.7 -3.6l1.7 -3.2l1.7 4.5l1.7 -2.2l1.7 -3.3l1.7 0.9l1.7 -3.8l1.7 -2.3l1.7 -3.4l1.7 -6.4l1.7 -7.4l1.7 -5.2l1.7 -9.2l1.7 -10.5l1.7 -12.5l1.7 -13.1l1.7 -7.7l1.7 -5.5l1.7 -6.4l1.7 12l1.7 7.9l1.7 9.1l1.7 14.7l1.7 9.7l1.7 4.3l1.7 6.8l1.7 8l1.7 6.9l1.7 2.7l1.7 6.1l1.7 1.1l1.7 0.6l1.7 5.1l1.7 0.5l1.7 2.1l1.7 -3l1.7 0.9l1.7 1.2l1.7 -6l1.7 7.5l1.7 -0.3l1.7 1.8l1.7 1.3l1.7 -3l1.7 1l1.7 0l1.7 -2.3l1.7 1.6l1.7 1.3l1.7 0.8l1.7 -1.1l1.7 -1.4l1.7 -0.1l1.7 1.3l1.7 -1l1.7 1.4l1.7 1.2l1.7 0.8l1.7 -3.6l1.7 3.3l1.7 -3.8l1.7 4.9l1.7 -1.7l1.7 -1.2l1.7 2.1l1.7 -1.3l1.7 -0.4l1.7 -3.5l1.7 2.7l1.7 1l1.7 0l1.7 -0.3l1.7 -3.1l1.7 2.5l1.7 -1.3l1.7 2.2l1.7 -0.9l1.7 -2.7l1.7 -0.7l1.7 2.4l1.7 0.2l1.7 -1.7l1.7 -0.7l1.7 1.8l1.7 0.2l1.7 -2.9l1.7 1.6l1.7 2.1l1.7 -0.9l1.7 -4l1.7 5.2l1.7 -2.6l1.7 -0.2l1.7 1.8l1.7 -1.2l1.7 -0.3l1.7 -0.4l1.7 0.8l1.7 -1.1l1.7 -3l1.7 -0.2l1.7 3.9l1.7 0.5l1.7 -2.3l1.7 -1.3l1.7 2.3l1.7 -3.6l1.7 4.1l1.7 -2.7l1.7 1.3l1.7 1.5l1.7 -2.6l1.7 3.7l1.7 -2l1.7 -0.1l1.7 0.8l1.7 -1.4l1.7 -0.5l1.7 -4l1.7 1.9l1.7 -2.5l1.7 5.4l1.7 -1l1.7 -1.9l1.7 2.8l1.7 -2.5l1.7 2.2l1.7 0l1.7 -2.1l1.7 -1.8l1.7 0l1.7 -0.4l1.7 1.9l1.7 0.3l1.7 -1.8l1.7 4.4l1.7 -5.7l1.7 1.6l1.7 2.2l1.7 2.4l1.7 -2.7l1.7 -1.6l1.7 0.5l1.7 2.6l1.7 -1.9l1.7 1.3l1.7 -1.3l1.7 1l1.7 -1.9l1.7 -0.2l1.7 2.2l1.7 -2.6l1.7 1l1.7 0.3l1.7 0.7l1.7 0l1.7 -3.8l1.7 4.1l1.7 -5.4l1.7 1.9l1.7 1.1l1.7 2.6l1.7 -2.4l1.7 2.9l1.7 -0.2l1.7 -2.1l1.7 2.3l1.7 -0.4l1.7 0.9l1.7 -2.3l1.7 2.4l1.7 0l1.7 -2.8l1.7 0.2l1.7 -0.5l1.7 -0.1l1.7 -1.9l1.7 3.6l1.7 -2.8l1.7 0.1l1.7 -0.7l1.7 -1.7l1.7 0.9l1.7 1.9l1.7 -0.3l1.7 2.7l1.7 -2.4l1.7 1.4l1.7 1.8l1.7 -1l1.7 0.7l1.7 1.6l1.7 -2.2l1.7 0.5l1.7 0.5l1.7 0.4l1.7 -1.4l1.7 0.6l1.7 -2l1.7 1.7l1.7 -4l1.7 4.5l1.7 0.3l1.7 -1.2l1.7 -2.9l1.7 3.8l1.7 0.4l1.7 -0.8l1.7 -2.2l1.7 1.6l1.7 -0.2l1.7 1.4l1.7 -0.7l1.7 -2l1.7 0.9l1.7 2.8l1.7 -2.4l1.7 -0.6l1.7 2.5l1.7 -3.9l1.7 -0.4l1.7 5l1.7 -0.6l1.7 0.1l1.7 -2.2l1.7 2.5l1.7 -0.1l1.7 1.1l1.7 -1.5l1.7 -0.8l1.7 -0.8l1.7 2.4l1.7 0.2l1.7 0.1l1.7 -2.7l1.7 2.1l1.7 -4.6l1.7 2.8l1.7 -2.6l1.7 0.3l1.7 -3.2l1.7 0.7l1.7 0.6l1.7 0.2l1.7 3.8l1.7 1.5l1.7 -1.7l1.7 -0.2l1.7 1.7l1.7 0.5l1.7 -1.1l1.7 0.4l1.7 -3.1l1.7 1.4l1.7 2.5l1.7 -0.6l1.7 -2.8l1.7 2.6l1.7 0.5l1.7 -3.4l1.7 -0.3l1.7 -0.9l1.7 -1.3l1.7 5.7l1.7 -0.9l1.7 -2.5l1.7 2.5l1.7 0.1l1.7 0.5l1.7 -4.6l1.7 -0.8l1.7 -0.6l1.7 2.3l1.7 -3.1l1.7 5.9l1.7 -1.2l1.7 1.4l1.7 -3.8l1.7 4.1l1.7 -3.3l1.7 -1.1l1.7 4.8l1.7 -2.7l1.7 2.3l1.7 -3.2l1.7 3.8l1.7 -1.2l1.7 0.7l1.7 -3.2l1.7 2.4l1.7 -0.6l1.7 -0.1l1.7 -3.9l1.7 -0.6l1.7 0.2l1.7 2.5l1.7 -0.3l1.7 2l1.7 -1.2l1.7 -4.3l1.7 3.6l1.7 -3.3l1.7 1.5l1.7 1.4l1.7 0.4l1.7 0.7l1.7 1.3l1.7 -0.6l1.7 -3.1l1.7 2.4l1.7 1.7l1.7 -1.8l1.7 1.8l1.7 -1.9l1.7 -1.7l1.7 -0.1l1.7 1.4l1.7 0.3l1.7 -5.9l1.7 6.5l1.7 -1.7l1.7 1.8l1.7 -2.1l1.7 -5.3l1.7 7.6l1.7 -3.3l1.7 -0.3l1.7 3.1l1.7 -0.6l1.7 1.4l1.7 -3.1l1.7 3.6l1.7 -3.7l1.7 4.2l1.7 0l1.7 -4.8l1.7 2.6l1.7 -1.9l1.7 -2.1l1.7 -2.8l1.7 1.4l1.7 -2.5l1.7 -1.6l1.7 -0.5l1.7 -0.7l1.7 6.7l1.7 0.6l1.7 -0.3l1.7 -3l1.7 4.4l1.7 -5l1.7 4.2l1.7 -0.9l1.7 1.2l1.7 -2.9l1.7 -1.2l1.7 -1l1.7 -5l1.7 -0.4l1.7 -4.5l1.7 0.4l1.7 4.1l1.7 -0.5l1.7 5.5l1.7 2l1.7 0.3l1.7 -1.3l1.7 -0.3l1.7 -2.3l1.7 -8.7l1.7 -1.4l1.7 -6.7l1.7 -8.5l1.7 -17l1.7 -27.1l1.7 -64.6l1.7 -123.9l1.7 -166l1.7 18.7l1.7 182.1l1.7 103.6l1.7 53.6l1.7 20.9l1.7 11.6l1.7 4l1.7 3.6l1.7 12.8l1.7 6.8l1.7 2.7l1.7 3.9l1.7 2.3l1.7 2l1.7 0.1l1.7 -2l1.7 2.6l1.7 -0.6l1.7 1.7l1.7 -1.5l1.7 0.6l1.7 -2.6l1.7 -0.2l1.7 -4.5l1.7 -0.4l1.7 3.3l1.7 1.8l1.7 0.1l1.7 1.9l1.7 -5.3l1.7 9l1.7 0.5l1.7 -3.8l1.7 4.8l1.7 -0.4l1.7 1l1.7 0.1l1.7 -0.6l1.7 1.1l1.7 -0.5l1.7 -0.5l1.7 -0.9l1.7 -3.9l1.7 6.1l1.7 -1.5l1.7 -1.3l1.7 -0.3l1.7 1l1.7 -0.1l1.7 -0.2l1.7 0.9l1.7 0.5l1.7 0.8l1.7 -4.8l1.7 4.6l1.7 -3l1.7 1.7l1.7 1.3l1.7 -4.1l1.7 2.7l1.7 -1.4l1.7 2.2l1.7 -1.6l1.7 -1.3l1.7 2.3l1.7 -2.3l1.7 -1.6l1.7 5.5l1.7 -0.2l1.7 -2.1l1.7 -1.1l1.7 -5.3l1.7 1.4l1.7 5.8l1.7 -1.3l1.7 -2.6l1.7 2.8l1.7 -1.8l1.7 0.2l1.7 -1.3l1.7 0.1l1.7 2.2l1.7 -1l1.7 -1.5l1.7 2.8l1.7 -0.1l1.7 -3.3l1.7 0.9l1.7 1.1l1.7 -0.2l1.7 -1.4l1.7 1.2l1.7 3.1l1.7 -0.5l1.7 -0.5l1.7 1.4l1.7 0.9l1.7 -1.2l1.7 1.2l1.7 -1.9l1.7 1l1.7 -2.1l1.7 3.1l1.7 -2.7l1.7 2.4l1.7 -0.3l1.7 1.1l1.7 -5.2l0 13.3l-1.7 -0.3l-1.7 3.5l-1.7 -3.6l-1.7 1.3l-1.7 -1.8l-1.7 0.6l-1.7 2.7l-1.7 -2.2l-1.7 0.8l-1.7 3.6l-1.7 -2.8l-1.7 -3.1l-1.7 0.7l-1.7 0.6l-1.7 0l-1.7 -1.1l-1.7 1.4l-1.7 0.4l-1.7 -3l-1.7 -1.7l-1.7 2.4l-1.7 -0.5l-1.7 -0.3l-1.7 4.1l-1.7 -1.7l-1.7 -0.2l-1.7 -2.1l-1.7 -0.4l-1.7 0.9l-1.7 -1.1l-1.7 0.4l-1.7 0.3l-1.7 3.3l-1.7 2l-1.7 -4l-1.7 -1.4l-1.7 3.8l-1.7 -1.1l-1.7 -0.1l-1.7 2.8l-1.7 -3.8l-1.7 2.1l-1.7 -1.5l-1.7 4.4l-1.7 -3.5l-1.7 1.5l-1.7 -2.8l-1.7 1.7l-1.7 -1.3l-1.7 0.4l-1.7 1.2l-1.7 -1.3l-1.7 0.6l-1.7 -0.5l-1.7 1.1l-1.7 4.3l-1.7 -4.5l-1.7 0.1l-1.7 -0.7l-1.7 2.3l-1.7 -2.3l-1.7 -1.1l-1.7 -0.5l-1.7 2.3l-1.7 5.6l-1.7 -3.1l-1.7 -1.9l-1.7 0.2l-1.7 -3.2l-1.7 3.3l-1.7 -1l-1.7 -1.1l-1.7 -0.6l-1.7 4.2l-1.7 0.3l-1.7 -6.5l-1.7 3.2l-1.7 -6.2l-1.7 -0.6l-1.7 2.9l-1.7 -2l-1.7 -2.8l-1.7 -1.2l-1.7 0.7l-1.7 -0.4l-1.7 3l-1.7 -0.4l-1.7 1.6l-1.7 -1.4l-1.7 1.6l-1.7 -0.3l-1.7 0l-1.7 3l-1.7 -3.2l-1.7 -0.9l-1.7 -4.4l-1.7 -3.2l-1.7 -2.7l-1.7 -5.6l-1.7 -8.4l-1.7 -5.6l-1.7 -6.2l-1.7 -9.3l-1.7 -22.6l-1.7 -53.2l-1.7 -102.9l-1.7 -184.6l-1.7 -14.2l-1.7 168.4l-1.7 122.3l-1.7 59l-1.7 27.4l-1.7 19.2l-1.7 7.3l-1.7 11.2l-1.7 0.7l-1.7 2.2l-1.7 2.4l-1.7 0.7l-1.7 4.7l-1.7 -2l-1.7 -3.6l-1.7 -2.3l-1.7 0.4l-1.7 -4.7l-1.7 -1.6l-1.7 9l-1.7 -0.3l-1.7 3l-1.7 1.7l-1.7 -0.2l-1.7 -0.7l-1.7 0.6l-1.7 1l-1.7 -0.2l-1.7 1.9l-1.7 -1.1l-1.7 2.4l-1.7 1.3l-1.7 -5.9l-1.7 0.5l-1.7 -3.8l-1.7 -1.5l-1.7 0.5l-1.7 1.3l-1.7 2.3l-1.7 1l-1.7 6.1l-1.7 -2.3l-1.7 -0.6l-1.7 5.1l-1.7 -4l-1.7 0.5l-1.7 1.1l-1.7 0l-1.7 -0.4l-1.7 0.6l-1.7 -3l-1.7 1.3l-1.7 -0.8l-1.7 0.5l-1.7 1.1l-1.7 -1.2l-1.7 0.8l-1.7 1.5l-1.7 0.6l-1.7 -2.4l-1.7 3.7l-1.7 -4.2l-1.7 3.5l-1.7 -1.1l-1.7 -1.2l-1.7 0.3l-1.7 -0.8l-1.7 1.9l-1.7 2.7l-1.7 -5.4l-1.7 2.8l-1.7 -1.3l-1.7 -2.1l-1.7 5.1l-1.7 -4l-1.7 -0.1l-1.7 2.3l-1.7 -3.7l-1.7 1.8l-1.7 -1.3l-1.7 0.2l-1.7 -0.1l-1.7 2.8l-1.7 0.3l-1.7 -1.2l-1.7 2.7l-1.7 -4.9l-1.7 0.9l-1.7 3.6l-1.7 -0.6l-1.7 -1.6l-1.7 0.7l-1.7 3l-1.7 -1.9l-1.7 0.4l-1.7 4.3l-1.7 -4.1l-1.7 4.5l-1.7 -6.8l-1.7 2.3l-1.7 3l-1.7 -5.5l-1.7 3l-1.7 -1.8l-1.7 0.4l-1.7 -3.4l-1.7 -0.5l-1.7 2.7l-1.7 0.8l-1.7 0.3l-1.7 -0.5l-1.7 3.1l-1.7 -1.5l-1.7 -2.2l-1.7 1.4l-1.7 4.7l-1.7 -5.6l-1.7 1.3l-1.7 -0.9l-1.7 1.7l-1.7 2.9l-1.7 -4.3l-1.7 -0.8l-1.7 0.2l-1.7 0.1l-1.7 3l-1.7 0.1l-1.7 -2.3l-1.7 0.4l-1.7 0.4l-1.7 -1.8l-1.7 1.3l-1.7 -1.4l-1.7 3.1l-1.7 -3.9l-1.7 -1.7l-1.7 0.9l-1.7 -0.7l-1.7 -0.9l-1.7 2l-1.7 0.7l-1.7 2.6l-1.7 -0.6l-1.7 2.2l-1.7 -0.7l-1.7 -1.3l-1.7 -0.4l-1.7 2.4l-1.7 -1.8l-1.7 2.9l-1.7 0.6l-1.7 -2.8l-1.7 -0.5l-1.7 1.3l-1.7 0.1l-1.7 -2.8l-1.7 -0.4l-1.7 0.9l-1.7 -0.3l-1.7 1.1l-1.7 -0.5l-1.7 -0.2l-1.7 -1.3l-1.7 0.7l-1.7 -1.3l-1.7 1.9l-1.7 0.2l-1.7 0.7l-1.7 1.1l-1.7 -2.4l-1.7 3.5l-1.7 -1.7l-1.7 0.9l-1.7 -0.2l-1.7 1.6l-1.7 -2.2l-1.7 -4.1l-1.7 0.7l-1.7 -0.9l-1.7 1l-1.7 -0.6l-1.7 3.5l-1.7 -1.5l-1.7 -1.1l-1.7 2.3l-1.7 0.2l-1.7 0l-1.7 5.4l-1.7 -3.6l-1.7 -4.3l-1.7 0.2l-1.7 -1.5l-1.7 -0.2l-1.7 0.1l-1.7 1.2l-1.7 -1.9l-1.7 1.9l-1.7 0.8l-1.7 3l-1.7 -3.8l-1.7 5.6l-1.7 -2.7l-1.7 -1.7l-1.7 -0.8l-1.7 0.8l-1.7 3.7l-1.7 -3.1l-1.7 2.6l-1.7 -2l-1.7 0.2l-1.7 -1.7l-1.7 0.4l-1.7 -1.9l-1.7 1.7l-1.7 3.6l-1.7 -2.5l-1.7 -2.2l-1.7 -0.1l-1.7 0.5l-1.7 1.1l-1.7 -1.8l-1.7 0.2l-1.7 3l-1.7 -2.1l-1.7 -1l-1.7 3.2l-1.7 -3.4l-1.7 4.3l-1.7 -3.7l-1.7 3l-1.7 -3.7l-1.7 1.4l-1.7 2.9l-1.7 -4.5l-1.7 1.5l-1.7 2.1l-1.7 -0.9l-1.7 4.9l-1.7 -5.4l-1.7 -0.1l-1.7 1.8l-1.7 -0.4l-1.7 1.5l-1.7 -1.7l-1.7 -0.8l-1.7 -0.4l-1.7 -1l-1.7 1.5l-1.7 0.4l-1.7 1.6l-1.7 -2.5l-1.7 4.3l-1.7 -0.5l-1.7 -2.2l-1.7 -1.1l-1.7 -0.2l-1.7 3.6l-1.7 -2.8l-1.7 -0.2l-1.7 2.4l-1.7 0l-1.7 -2.5l-1.7 4.4l-1.7 -1.4l-1.7 -0.1l-1.7 -0.2l-1.7 -1.8l-1.7 -0.8l-1.7 -1.1l-1.7 3.7l-1.7 -2.9l-1.7 0.9l-1.7 1.6l-1.7 0.6l-1.7 -1.4l-1.7 1.5l-1.7 0.3l-1.7 -1.2l-1.7 1l-1.7 -1.8l-1.7 2.9l-1.7 -2.6l-1.7 -0.7l-1.7 3.1l-1.7 -0.2l-1.7 -1.8l-1.7 3.7l-1.7 4.3l-1.7 -6.7l-1.7 -1.9l-1.7 3.1l-1.7 -2.8l-1.7 1.8l-1.7 -0.4l-1.7 0.9l-1.7 2l-1.7 -1.6l-1.7 1.7l-1.7 -1.3l-1.7 1.1l-1.7 -2.1l-1.7 5.4l-1.7 -2.9l-1.7 -3l-1.7 2.3l-1.7 0.4l-1.7 3.2l-1.7 -1.9l-1.7 -1.8l-1.7 -0.4l-1.7 0.4l-1.7 2.8l-1.7 -0.9l-1.7 0l-1.7 0.6l-1.7 -1.5l-1.7 -0.8l-1.7 5.5l-1.7 -4l-1.7 0l-1.7 -1l-1.7 -0.9l-1.7 0.1l-1.7 -0.7l-1.7 0.1l-1.7 -0.3l-1.7 0.8l-1.7 1.6l-1.7 -2.8l-1.7 2l-1.7 -1.4l-1.7 -1.9l-1.7 2.2l-1.7 -1l-1.7 0.5l-1.7 2.7l-1.7 -3.1l-1.7 -1.4l-1.7 -0.8l-1.7 1.4l-1.7 -0.7l-1.7 0.6l-1.7 0.9l-1.7 -2.1l-1.7 1.1l-1.7 -3.5l-1.7 -0.2l-1.7 -3.9l-1.7 0.3l-1.7 -7.1l-1.7 -0.3l-1.7 -9.1l-1.7 -5.4l-1.7 -7.5l-1.7 -9.5l-1.7 -7.1l-1.7 -12.5l-1.7 -12.6l-1.7 -8.7l-1.7 -6.5l-1.7 1l-1.7 6.6l-1.7 10.5l-1.7 11l-1.7 11.4l-1.7 10.1l-1.7 9.8l-1.7 5.7l-1.7 6.5l-1.7 12.5l-1.7 -2.1l-1.7 2.9l-1.7 3.1l-1.7 1.9l-1.7 3.1l-1.7 -1.8l-1.7 7.5l-1.7 -3.3l-1.7 3.2l-1.7 -3.2l-1.7 2.2l-1.7 -1.2l-1.7 2.8l-1.7 -2.8l-1.7 3.2l-1.7 -0.6l-1.7 6.1l-1.7 -5.5l-1.7 4.3l-1.7 4.2l-1.7 -7.2l-1.7 -0.3l-1.7 2.9l-1.7 0.1l-1.7 -0.5l-1.7 0.6l-1.7 -2.8l-1.7 2.5l-1.7 -2.1l-1.7 0.8l-1.7 2.8l-1.7 3.7l-1.7 -4.7l-1.7 0.9l-1.7 -0.4l-1.7 1l-1.7 1.6l-1.7 0.4l-1.7 1.6l-1.7 -2.2l-1.7 1.2l-1.7 0.1l-1.7 -0.3l-1.7 0.1l-1.7 0.5l-1.7 0.9l-1.7 -1.3l-1.7 0.9l-1.7 0.1l-1.7 1.9l-1.7 -3.1l-1.7 1.2l-1.7 3.2l-1.7 0.6l-1.7 -2.6l-1.7 6.8l-1.7 -6.1l-1.7 3.9l-1.7 -1l-1.7 3l-1.7 -5.7l-1.7 0.3l-1.7 3.1l-1.7 -0.2l-1.7 -0.3l-1.7 -1.1l-1.7 0.3l-1.7 1.7l-1.7 -2.7l-1.7 0.8l-1.7 2.1l-1.7 2.3l-1.7 -0.8l-1.7 3.2l-1.7 -4.3l-1.7 1.7l-1.7 3.2l-1.7 -3.2l-1.7 -0.5l-1.7 0.8l-1.7 0.4l-1.7 0.8l-1.7 2.2l-1.7 -2.4l-1.7 1.8l-1.7 -0.7l-1.7 2.8l-1.7 -0.5l-1.7 -1.7l-1.7 0.7l-1.7 1.6l-1.7 2.1l-1.7 -0.7l-1.7 2l-1.7 -0.8l-1.7 -0.1l-1.7 -0.7l-1.7 -0.9l-1.7 7.1l-1.7 -7.1l-1.7 0.5l-1.7 3.9l-1.7 -1.5l-1.7 -1.9l-1.7 1.9l-1.7 -0.2l-1.7 2.6l-1.7 0.7l-1.7 -1.7l-1.7 1.1l-1.7 -1.2l-1.7 0l-1.7 1l-1.7 3.9l-1.7 -2l-1.7 -0.8l-1.7 3.2l-1.7 1l-1.7 -0.1l-1.7 2l-1.7 -3l-1.7 -1.1l-1.7 4.6l-1.7 -3.2l-1.7 1.3l-1.7 2.7l-1.7 1l-1.7 3.4l-1.7 -6.5l-1.7 4.3l-1.7 -3.8l-1.7 0.4l-1.7 6l-1.7 1l-1.7 -0.9l-1.7 -1.9l-1.7 4.4l-1.7 -3.8l-1.7 1.8l-1.7 0.6l-1.7 -1.8l-1.7 0.9l-1.7 0.6l-1.7 -2.3l-1.7 4.4l-1.7 1.3l-1.7 -2.2l-1.7 0l-1.7 -0.2l-1.7 5.7l-1.7 -4.4l-1.7 1.4l-1.7 0.5l-1.7 1l-1.7 -1.3l-1.7 0.2l-1.7 3.3l-1.7 -2.6l-1.7 -0.2l-1.7 1.8l-1.7 -3.3l-1.7 -4.5l-1.7 -10.4l-1.7 2.7l-1.7 9.3l-1.7 6.9l-1.7 5.7l-1.7 -3.2l-1.7 2.4l-1.7 0.2l-1.7 3.9l-1.7 -1.8l-1.7 3.2l-1.7 1.3l-1.7 -1.9l-1.7 4.1l-1.7 -1.4l-1.7 -1.2l-1.7 -0.1l-1.7 1.2l-1.7 7.4l-1.7 -4.2l-1.7 2.9l-1.7 -1.6l-1.7 0.3l-1.7 -1l-1.7 3.6l-1.7 -0.6l-1.7 -0.8l-1.7 3.3l-1.7 -3.7l-1.7 2.2l-1.7 1.5l-1.7 -0.7l-1.7 0.9l-1.7 0.5l-1.7 3l-1.7 -1.8l-1.7 0.4l-1.7 3.5l-1.7 2.8l-1.7 -1.2l-1.7 -0.4l-1.7 2.1l-1.7 -1.6l-1.7 4.5l-1.7 -3.6l-1.7 1.7l-1.7 0l-1.7 1.6l-1.7 0.3l-1.7 -1.7l-1.7 3.2l-1.7 2.2l-1.7 0.1l-1.7 1l-1.7 5.4l-1.7 -1.5l-1.7 0.4l-1.7 3.2l-1.7 -1.2l-1.7 -0.2l-1.7 4.9l-1.7 -1.9l-1.7 1.6l-1.7 1l-1.7 1.1l-1.7 -1l-1.7 -1.5l-1.7 2.1l-1.7 -0.8l-1.7 1.8l-1.7 2.2l-1.7 2.3l-1.7 -0.4l-1.7 0.7l-1.7 -0.3l-1.7 2.9l-1.7 -1.5l-1.7 1.6l-1.7 1.1l-1.7 2.4l-1.7 0.3l-1.7 0.1l-1.7 0.3l-1.7 3.1l-1.7 2.6l-1.7 -1.4l-1.7 0.8l-1.7 0.3l-1.7 0.1l-1.7 3.1l-1.7 1.7l-1.7 -3l-1.7 3l-1.7 1l-1.7 -0.8l-1.7 9.2l-1.7 0.3l-1.7 -5.6l-1.7 4l-1.7 -1.2l-1.7 4.2l-1.7 1.4l-1.7 -3.6l-1.7 2.6l-1.7 -0.1l-1.7 -0.7l-1.7 3.3l-1.7 1.5l-1.7 -3.1l-1.7 2.3l-1.7 2.4l-1.7 -1l-1.7 0.4l-1.7 0.8l-1.7 1.5l-1.7 2.1l-1.7 1.7l-1.7 3.1l-1.7 -0.8l-1.7 1.8l-1.7 3.4l-1.7 -0.8l-1.7 -0.6l-1.7 -3.1l-1.7 2.2l-1.7 -0.2l-1.7 3.3l-1.7 -2l-1.7 2l-1.7 2.4l-1.7 -1.1l-1.7 1l-1.7 0.5l-1.7 2.3l-1.7 0.5l-1.7 6.1l-1.7 -1.4l-1.7 -0.6l-1.7 -1.2l-1.7 1.9l-1.7 0.9l-1.7 4.4l-1.7 0.5l-1.7 -3.4l-1.7 2.6l-1.7 3.5l-1.7 2.9l-1.7 -4.1z"/>
<path fill="#22102c" stroke="#22102c" stroke-width="1.6" d="M132.2 962.4l1.7 -1.7l1.7 -1.8l1.7 -4.3l1.7 1.6l1.7 -1.5l1.7 -0.9l1.7 0.4l1.7 -3l1.7 1.4l1.7 -5.6l1.7 3.5l1.7 -4.6l1.7 0.5l1.7 -2l1.7 3.2l1.7 -1.9l1.7 -3.7l1.7 -3.1l1.7 3.8l1.7 -0.1l1.7 -4.5l1.7 2.8l1.7 -1.8l1.7 -1.9l1.7 -3.5l1.7 1.1l1.7 0.4l1.7 -0.3l1.7 -2.5l1.7 -2.3l1.7 -1.9l1.7 0.3l1.7 1.3l1.7 -1.6l1.7 -7.3l1.7 5.4l1.7 -1.5l1.7 -3.5l1.7 1l1.7 1.2l1.7 -2l1.7 -1.2l1.7 -0.1l1.7 -3.2l1.7 1.7l1.7 -1.7l1.7 -4.1l1.7 -1.7l1.7 -0.5l1.7 2.4l1.7 1.2l1.7 -0.4l1.7 -2.3l1.7 -6.6l1.7 2.6l1.7 -2.9l1.7 2.5l1.7 -0.1l1.7 1.1l1.7 -1.1l1.7 -2.3l1.7 0l1.7 -1.1l1.7 -4.2l1.7 2.3l1.7 -1.5l1.7 -0.1l1.7 -0.7l1.7 -0.3l1.7 -3.5l1.7 -0.6l1.7 -0.3l1.7 0.7l1.7 -0.6l1.7 -3.1l1.7 -0.7l1.7 -3.7l1.7 2.7l1.7 -0.2l1.7 0.4l1.7 -7.4l1.7 2.5l1.7 1.9l1.7 -1.9l1.7 1.3l1.7 -3.2l1.7 0.1l1.7 -1l1.7 -0.1l1.7 -4.1l1.7 -1.8l1.7 3.3l1.7 -2.3l1.7 2.3l1.7 -3.4l1.7 0.7l1.7 -3.9l1.7 -0.6l1.7 -4.8l1.7 1.8l1.7 2l1.7 -1.7l1.7 -0.7l1.7 -1.9l1.7 2.8l1.7 -4.9l1.7 -2.2l1.7 -2.6l1.7 2.5l1.7 -0.8l1.7 -1.4l1.7 3.3l1.7 -4.4l1.7 1.6l1.7 1l1.7 -0.2l1.7 -3.7l1.7 -1.7l1.7 1.1l1.7 1.2l1.7 -2.4l1.7 0.6l1.7 -2.6l1.7 -1.6l1.7 3.5l1.7 -1.2l1.7 -1.1l1.7 -5.7l1.7 3.7l1.7 -2.5l1.7 0.7l1.7 1.2l1.7 -5.6l1.7 2l1.7 -0.3l1.7 -0.4l1.7 -0.8l1.7 -0.8l1.7 -3.5l1.7 1.2l1.7 0.9l1.7 -1.4l1.7 0.2l1.7 -3.7l1.7 -1.9l1.7 -6.9l1.7 -3.7l1.7 -1.7l1.7 6.7l1.7 1.8l1.7 3.5l1.7 0.1l1.7 0.9l1.7 0.1l1.7 -0.5l1.7 -1.4l1.7 -4.5l1.7 -0.5l1.7 1.6l1.7 -1.4l1.7 -2.5l1.7 1.6l1.7 -3l1.7 0.9l1.7 -1.7l1.7 4.4l1.7 -6l1.7 3l1.7 1l1.7 -4.3l1.7 3.6l1.7 -5.2l1.7 3.2l1.7 0.8l1.7 -0.8l1.7 -4.2l1.7 3.1l1.7 -2.2l1.7 -1.5l1.7 1.7l1.7 -3.7l1.7 0.9l1.7 -1.6l1.7 -0.2l1.7 2.1l1.7 -0.1l1.7 -6.6l1.7 1.9l1.7 1.9l1.7 -4.7l1.7 4.2l1.7 -0.9l1.7 -1.4l1.7 -0.3l1.7 -0.1l1.7 -1l1.7 1l1.7 -7.6l1.7 6.3l1.7 -2.7l1.7 0.6l1.7 -5.7l1.7 1.8l1.7 1.2l1.7 1.5l1.7 -1.3l1.7 -0.5l1.7 -4.6l1.7 3.2l1.7 -2.5l1.7 -2.3l1.7 4.6l1.7 -3.8l1.7 3.6l1.7 -1.3l1.7 -0.2l1.7 -1.8l1.7 -1.3l1.7 2.5l1.7 -0.8l1.7 -2.5l1.7 -1.2l1.7 0.7l1.7 -4.9l1.7 6.4l1.7 -2.7l1.7 -0.1l1.7 1.4l1.7 -1.9l1.7 1.9l1.7 0.4l1.7 -0.5l1.7 -2.1l1.7 -3.8l1.7 -0.1l1.7 0.9l1.7 0.5l1.7 -2.7l1.7 2.4l1.7 -3l1.7 2.1l1.7 -1.2l1.7 1.9l1.7 -2.6l1.7 -2.4l1.7 5.5l1.7 -2.5l1.7 0.5l1.7 -1.8l1.7 -4.8l1.7 6l1.7 0l1.7 -0.5l1.7 -0.8l1.7 -0.6l1.7 -1l1.7 2.7l1.7 -0.3l1.7 -0.4l1.7 0.3l1.7 -2.9l1.7 -1.3l1.7 2.8l1.7 -1.6l1.7 0l1.7 -0.9l1.7 2l1.7 -0.4l1.7 -0.7l1.7 0l1.7 0.6l1.7 -2.9l1.7 0.9l1.7 1.2l1.7 -2.2l1.7 2l1.7 -0.4l1.7 -3.1l1.7 2.3l1.7 0l1.7 -0.4l1.7 -1l1.7 -1.4l1.7 3.1l1.7 -0.6l1.7 -0.9l1.7 -1.3l1.7 1.4l1.7 -1.4l1.7 1.4l1.7 -1.6l1.7 -1.3l1.7 -2.3l1.7 3.4l1.7 -1.6l1.7 -1.4l1.7 3.2l1.7 -1.9l1.7 -7.5l1.7 6.6l1.7 -0.2l1.7 -1.6l1.7 -0.2l1.7 -4.1l1.7 -0.2l1.7 -2.2l1.7 0.4l1.7 -3.2l1.7 -3.4l1.7 -4.2l1.7 -8.8l1.7 -3.1l1.7 -9l1.7 -6.9l1.7 -11.6l1.7 -10.5l1.7 -12.1l1.7 -10.2l1.7 -10.1l1.7 2.3l1.7 6.9l1.7 8.6l1.7 13l1.7 11.1l1.7 8.2l1.7 10.2l1.7 7.1l1.7 4.1l1.7 7.5l1.7 4.4l1.7 3l1.7 0.2l1.7 4.1l1.7 0.9l1.7 -0.2l1.7 0.4l1.7 3.8l1.7 -3.7l1.7 0.2l1.7 3.7l1.7 -1.3l1.7 3.1l1.7 -0.8l1.7 2.6l1.7 0l1.7 -0.9l1.7 -0.8l1.7 -0.3l1.7 -0.2l1.7 0.3l1.7 -0.5l1.7 1.1l1.7 -1.1l1.7 1.2l1.7 -3.1l1.7 3.3l1.7 -3.3l1.7 0.5l1.7 1.2l1.7 0.3l1.7 0.2l1.7 1.2l1.7 -5.2l1.7 5.5l1.7 -1l1.7 -1l1.7 -3.5l1.7 1.8l1.7 1.8l1.7 -2.6l1.7 3.7l1.7 0.3l1.7 -0.2l1.7 -1.5l1.7 0.4l1.7 1.1l1.7 -2.1l1.7 1.7l1.7 -0.6l1.7 -1.9l1.7 1.6l1.7 -1l1.7 1.2l1.7 2.7l1.7 -3.1l1.7 3l1.7 -3.5l1.7 -5.2l1.7 5.2l1.7 0.2l1.7 -0.6l1.7 1.8l1.7 0.6l1.7 -0.9l1.7 -2l1.7 0.8l1.7 1.1l1.7 -0.6l1.7 1l1.7 0.2l1.7 -1.5l1.7 1.8l1.7 -4.4l1.7 0.6l1.7 -0.4l1.7 4.8l1.7 -0.6l1.7 0l1.7 0.6l1.7 -2.6l1.7 0.7l1.7 2.4l1.7 -1.1l1.7 -1.6l1.7 -1l1.7 -1.9l1.7 2.2l1.7 1.1l1.7 1l1.7 0.2l1.7 0l1.7 0l1.7 -0.7l1.7 0.9l1.7 -0.7l1.7 -2.1l1.7 1.8l1.7 -2.5l1.7 -0.1l1.7 2.2l1.7 1.1l1.7 -0.5l1.7 -4.8l1.7 0.5l1.7 2.2l1.7 0.1l1.7 -0.6l1.7 2.9l1.7 -4.7l1.7 0.4l1.7 2.4l1.7 1l1.7 -1.5l1.7 -1.3l1.7 3l1.7 0.1l1.7 -0.7l1.7 0.7l1.7 -3l1.7 1.6l1.7 -0.9l1.7 0l1.7 2.8l1.7 -3.9l1.7 3l1.7 -1.3l1.7 0.3l1.7 0.4l1.7 -2.6l1.7 1.7l1.7 0.8l1.7 -0.8l1.7 -2.5l1.7 4.5l1.7 1.7l1.7 -0.8l1.7 -3.5l1.7 5.1l1.7 -0.3l1.7 -2.8l1.7 2.7l1.7 -0.5l1.7 -2.2l1.7 -0.3l1.7 0.4l1.7 -1.2l1.7 -0.8l1.7 2.2l1.7 0.1l1.7 -4.7l1.7 4l1.7 -0.7l1.7 -1.5l1.7 2.3l1.7 -0.3l1.7 -0.9l1.7 2.3l1.7 -0.3l1.7 -2.7l1.7 3.3l1.7 -0.8l1.7 1.6l1.7 -0.5l1.7 1.2l1.7 -5.2l1.7 1.4l1.7 0.8l1.7 1.6l1.7 0.7l1.7 -0.7l1.7 -3.2l1.7 0l1.7 -0.2l1.7 2.4l1.7 -0.4l1.7 -1.8l1.7 0.3l1.7 0.8l1.7 2.4l1.7 -0.7l1.7 0.4l1.7 -5.5l1.7 4.6l1.7 0.3l1.7 -6.5l1.7 3.4l1.7 3.6l1.7 -2.3l1.7 1.7l1.7 -2.3l1.7 2.2l1.7 -0.7l1.7 -0.3l1.7 -1.6l1.7 1.3l1.7 -1l1.7 -2.8l1.7 2.4l1.7 0.6l1.7 -1.4l1.7 1.6l1.7 -0.9l1.7 -0.6l1.7 -1.6l1.7 2.8l1.7 -1.7l1.7 -2.7l1.7 1.9l1.7 -3.4l1.7 -0.4l1.7 -2.6l1.7 1.4l1.7 -0.1l1.7 -0.3l1.7 1.5l1.7 -0.4l1.7 1.7l1.7 3.3l1.7 1.6l1.7 -3.7l1.7 0.9l1.7 1.6l1.7 0l1.7 -0.9l1.7 1.8l1.7 -0.4l1.7 2.6l1.7 -2.4l1.7 1.5l1.7 0.1l1.7 -2.2l1.7 1.1l1.7 -0.4l1.7 0.8l1.7 -2l1.7 -2l1.7 5.2l1.7 -4.9l1.7 1.6l1.7 1l1.7 -0.4l1.7 -1.4l1.7 -0.3l1.7 -3.1l1.7 2.4l1.7 0.5l1.7 -3.5l1.7 4l1.7 0.6l1.7 -0.4l1.7 2.2l1.7 -0.1l1.7 -2.4l1.7 2.7l1.7 1.1l1.7 -1.9l1.7 1.2l1.7 -0.9l1.7 -2.6l1.7 2.3l1.7 2.5l1.7 -0.9l1.7 -1l1.7 -2l1.7 1.4l1.7 0.4l1.7 1.1l1.7 0.7l1.7 -3l1.7 2.6l1.7 -2.4l1.7 -2.9l1.7 4.7l1.7 0.1l1.7 -2l1.7 1.7l1.7 -1.9l1.7 1.1l1.7 -5l1.7 3.7l1.7 -0.5l1.7 -0.5l1.7 2l1.7 1.2l1.7 -0.7l1.7 0.2l1.7 -3.2l1.7 2.4l1.7 -0.7l1.7 0.1l1.7 2.6l1.7 -0.5l1.7 -0.6l1.7 -0.8l1.7 -1.3l1.7 -2.5l1.7 5l1.7 -0.5l1.7 0.6l1.7 -4.8l1.7 2.2l1.7 -1.1l1.7 -0.3l1.7 -2.4l1.7 1.1l1.7 -0.7l1.7 2.8l1.7 -1.5l1.7 -2.9l1.7 1.7l1.7 -3l1.7 -5.3l1.7 3l1.7 -4.9l1.7 2.8l1.7 2.4l1.7 1l1.7 -1.2l1.7 3.8l1.7 -0.8l1.7 -2.4l1.7 0.3l1.7 -2.2l1.7 4.5l1.7 -2.4l1.7 -1.6l1.7 0.5l1.7 -0.1l1.7 -2.1l1.7 -6.7l1.7 -8.4l1.7 4l1.7 4.3l1.7 2.1l1.7 2.5l1.7 0.9l1.7 -0.2l1.7 -1.7l1.7 -1.7l1.7 0.8l1.7 -4.9l1.7 -3.2l1.7 -9.2l1.7 -9l1.7 -19.6l1.7 -34.8l1.7 -60.5l1.7 -138.9l1.7 -194.5l1.7 23.2l1.7 202.4l1.7 115.6l1.7 61.6l1.7 24.7l1.7 13.8l1.7 -0.5l1.7 14l1.7 6.5l1.7 5.3l1.7 7.1l1.7 -0.4l1.7 4.5l1.7 -0.5l1.7 -1.6l1.7 3.8l1.7 0.5l1.7 1.5l1.7 -1.4l1.7 0.1l1.7 -6.2l1.7 7l1.7 -1.3l1.7 -1.8l1.7 2.5l1.7 0.3l1.7 -1.7l1.7 0.9l1.7 2.7l1.7 2.7l1.7 -7.7l1.7 3.1l1.7 5.2l1.7 0.9l1.7 -1.3l1.7 -1.6l1.7 1.9l1.7 0.7l1.7 -0.6l1.7 1l1.7 -2.3l1.7 1l1.7 -0.9l1.7 0.4l1.7 1.2l1.7 -2.2l1.7 2.4l1.7 0.9l1.7 -2l1.7 1.3l1.7 0.8l1.7 -1l1.7 1.8l1.7 -2.1l1.7 3l1.7 -1.9l1.7 1.1l1.7 -1.3l1.7 1l1.7 -3.9l1.7 -0.7l1.7 -0.9l1.7 4.6l1.7 0.3l1.7 1.1l1.7 -0.6l1.7 -6.4l1.7 4.9l1.7 2.5l1.7 -0.9l1.7 -3.8l1.7 -1.3l1.7 1.4l1.7 1.3l1.7 -0.2l1.7 -0.9l1.7 -2l1.7 0.7l1.7 -3.7l1.7 1.4l1.7 0.1l1.7 -3.9l1.7 6.3l1.7 1.3l1.7 -0.6l1.7 -2.7l1.7 1.2l1.7 0.5l1.7 -1.9l1.7 3.1l1.7 0.5l1.7 0.3l1.7 -1.1l1.7 2.8l1.7 -3.2l1.7 2.4l1.7 -0.5l1.7 -3.9l1.7 4.8l1.7 0.8l1.7 -0.3l1.7 0.6l1.7 -1.2l1.7 0.7l1.7 -4.1l1.7 3.9l1.7 0.6l1.7 -3.6l0 15.5l-1.7 -1.3l-1.7 -1.3l-1.7 6.1l-1.7 -5.9l-1.7 2.6l-1.7 3l-1.7 -4.3l-1.7 0.9l-1.7 -4.1l-1.7 1.3l-1.7 1l-1.7 6.3l-1.7 -8.3l-1.7 0.9l-1.7 -1.5l-1.7 -0.1l-1.7 1.5l-1.7 -3.4l-1.7 -0.9l-1.7 2.2l-1.7 1.3l-1.7 -1.7l-1.7 0.9l-1.7 0.7l-1.7 1.2l-1.7 -3.2l-1.7 0.6l-1.7 1.5l-1.7 -4.5l-1.7 6.4l-1.7 -3.7l-1.7 0.5l-1.7 3.5l-1.7 -1.4l-1.7 0.3l-1.7 -2.4l-1.7 0.8l-1.7 2.1l-1.7 2.4l-1.7 -2.4l-1.7 0.3l-1.7 -0.7l-1.7 0.3l-1.7 -0.1l-1.7 2.3l-1.7 -2.9l-1.7 -0.8l-1.7 0.4l-1.7 0.9l-1.7 3.2l-1.7 -2.8l-1.7 0.2l-1.7 6.4l-1.7 -4.4l-1.7 1.4l-1.7 -4l-1.7 4.2l-1.7 -3.8l-1.7 1.5l-1.7 -2.9l-1.7 0.5l-1.7 -0.5l-1.7 0.4l-1.7 0.3l-1.7 0.1l-1.7 1.1l-1.7 -2.3l-1.7 4.6l-1.7 -5.3l-1.7 2.4l-1.7 -2.1l-1.7 0.7l-1.7 0.9l-1.7 -0.4l-1.7 0.3l-1.7 -0.3l-1.7 -1.1l-1.7 -0.1l-1.7 -1.4l-1.7 -1.9l-1.7 1.6l-1.7 -3.9l-1.7 0.4l-1.7 0.5l-1.7 1.2l-1.7 1l-1.7 -1l-1.7 -1.1l-1.7 0.1l-1.7 -1.3l-1.7 0l-1.7 1.3l-1.7 1.2l-1.7 -4.6l-1.7 0.5l-1.7 5.6l-1.7 -10.1l-1.7 -4l-1.7 -0.4l-1.7 -11l-1.7 -8.3l-1.7 -7.5l-1.7 -11l-1.7 -29.2l-1.7 -56.1l-1.7 -118.8l-1.7 -198.4l-1.7 -25.8l-1.7 192l-1.7 144l-1.7 59.6l-1.7 34.9l-1.7 17.2l-1.7 9.7l-1.7 7.6l-1.7 4.2l-1.7 4.3l-1.7 -1l-1.7 2l-1.7 1.4l-1.7 -2.4l-1.7 1.4l-1.7 0.4l-1.7 -4.4l-1.7 -5.8l-1.7 -0.9l-1.7 5.7l-1.7 6.9l-1.7 0.5l-1.7 2.7l-1.7 -0.3l-1.7 1.9l-1.7 0.4l-1.7 0.8l-1.7 -1.6l-1.7 2.7l-1.7 -2.7l-1.7 1.6l-1.7 0.7l-1.7 -4.6l-1.7 0.1l-1.7 -3.4l-1.7 0.9l-1.7 3.8l-1.7 1.3l-1.7 3.8l-1.7 -1.5l-1.7 0.1l-1.7 1.6l-1.7 -1.1l-1.7 1.8l-1.7 -0.6l-1.7 0.9l-1.7 2l-1.7 -1.2l-1.7 3.3l-1.7 -2.9l-1.7 1.5l-1.7 -1.2l-1.7 -0.4l-1.7 1.5l-1.7 0.4l-1.7 -1.3l-1.7 4.2l-1.7 -3.5l-1.7 3.4l-1.7 -2.8l-1.7 -1l-1.7 0.9l-1.7 1.3l-1.7 -2.6l-1.7 0.2l-1.7 2.1l-1.7 1l-1.7 -3.1l-1.7 3.7l-1.7 -2l-1.7 -0.8l-1.7 -1.6l-1.7 0l-1.7 1.4l-1.7 -1.7l-1.7 0.2l-1.7 1.6l-1.7 1.6l-1.7 -1.5l-1.7 1l-1.7 0l-1.7 -1.5l-1.7 1.6l-1.7 -1.5l-1.7 5.4l-1.7 -3.5l-1.7 0.4l-1.7 -2.3l-1.7 7.7l-1.7 -7.8l-1.7 0.9l-1.7 3.3l-1.7 -2.2l-1.7 -0.8l-1.7 1.6l-1.7 -0.8l-1.7 0.7l-1.7 0.2l-1.7 -1.2l-1.7 -1.2l-1.7 -1.4l-1.7 0.2l-1.7 0.9l-1.7 2.1l-1.7 -5.5l-1.7 2l-1.7 -0.1l-1.7 1.9l-1.7 -0.7l-1.7 4.1l-1.7 -2.1l-1.7 -0.8l-1.7 0l-1.7 -0.5l-1.7 0.2l-1.7 3.4l-1.7 -4.3l-1.7 4.4l-1.7 -3.6l-1.7 1.5l-1.7 -0.4l-1.7 1.1l-1.7 -0.9l-1.7 1.1l-1.7 -2.8l-1.7 2.1l-1.7 -2.2l-1.7 1.8l-1.7 -3.4l-1.7 2.9l-1.7 0.9l-1.7 -1.5l-1.7 -2.5l-1.7 -1.7l-1.7 0.5l-1.7 -3.5l-1.7 2.7l-1.7 -4.6l-1.7 2.8l-1.7 1.6l-1.7 2.1l-1.7 3.6l-1.7 -1.7l-1.7 4.5l-1.7 -3.3l-1.7 -0.2l-1.7 -0.8l-1.7 -0.5l-1.7 0.3l-1.7 -1.5l-1.7 2.5l-1.7 -0.1l-1.7 -1.8l-1.7 4.1l-1.7 -2.1l-1.7 -1.3l-1.7 1.6l-1.7 1.6l-1.7 -2.1l-1.7 1.4l-1.7 2.6l-1.7 -1.2l-1.7 2.7l-1.7 -4.3l-1.7 1.5l-1.7 -2.1l-1.7 -0.9l-1.7 1.2l-1.7 0.4l-1.7 1.4l-1.7 -0.1l-1.7 2.9l-1.7 -4.5l-1.7 1.6l-1.7 -1.1l-1.7 0.7l-1.7 3.3l-1.7 -6l-1.7 1.1l-1.7 4.3l-1.7 -0.5l-1.7 3.2l-1.7 -5.3l-1.7 2.1l-1.7 -1.3l-1.7 1.8l-1.7 -3.3l-1.7 1.1l-1.7 -2.4l-1.7 7.6l-1.7 -6.5l-1.7 -1.4l-1.7 1.7l-1.7 -2.1l-1.7 1.9l-1.7 -1.6l-1.7 -1.3l-1.7 0.5l-1.7 1.9l-1.7 -0.5l-1.7 -0.1l-1.7 1.3l-1.7 -1.1l-1.7 0.4l-1.7 7.3l-1.7 -5.1l-1.7 -1.5l-1.7 0.1l-1.7 1.5l-1.7 1.5l-1.7 3.1l-1.7 -5.8l-1.7 0.8l-1.7 1.5l-1.7 1.6l-1.7 -5.3l-1.7 0.8l-1.7 -1.1l-1.7 2.3l-1.7 -1.1l-1.7 2.8l-1.7 -0.6l-1.7 2.1l-1.7 -4.8l-1.7 2.7l-1.7 -3.5l-1.7 3.6l-1.7 1.3l-1.7 -1.4l-1.7 -2.9l-1.7 2.4l-1.7 -2.9l-1.7 -0.2l-1.7 1l-1.7 1.3l-1.7 1.1l-1.7 -0.4l-1.7 -2.4l-1.7 0l-1.7 1.3l-1.7 -2l-1.7 2l-1.7 -0.3l-1.7 -1.8l-1.7 0.6l-1.7 1.2l-1.7 -1.9l-1.7 3.8l-1.7 -1.6l-1.7 4.1l-1.7 -2.4l-1.7 4.2l-1.7 -4.3l-1.7 0.1l-1.7 -0.7l-1.7 0.9l-1.7 0.2l-1.7 -3.1l-1.7 -0.7l-1.7 4.5l-1.7 -4.4l-1.7 -0.3l-1.7 2.2l-1.7 -0.9l-1.7 -1l-1.7 0.9l-1.7 1.1l-1.7 -1l-1.7 3.8l-1.7 -0.7l-1.7 0.5l-1.7 -3.4l-1.7 2.3l-1.7 -1.9l-1.7 1.1l-1.7 -2.6l-1.7 -0.4l-1.7 0.9l-1.7 -0.8l-1.7 4.3l-1.7 -1.4l-1.7 -2.4l-1.7 -1.3l-1.7 1.7l-1.7 -0.9l-1.7 3.5l-1.7 0l-1.7 -1.8l-1.7 1.2l-1.7 1l-1.7 0.1l-1.7 -2.3l-1.7 3.1l-1.7 -0.5l-1.7 2.7l-1.7 -4.6l-1.7 3.5l-1.7 -1.8l-1.7 -2.5l-1.7 -0.3l-1.7 0.4l-1.7 1.4l-1.7 -1.2l-1.7 -0.5l-1.7 2.9l-1.7 -0.3l-1.7 -2.7l-1.7 0.7l-1.7 -0.3l-1.7 1.2l-1.7 -2.1l-1.7 1.7l-1.7 1.2l-1.7 -2.2l-1.7 0.6l-1.7 0.5l-1.7 1.1l-1.7 -3l-1.7 3.2l-1.7 -0.3l-1.7 -2.4l-1.7 2.2l-1.7 -2.3l-1.7 5.5l-1.7 -5.8l-1.7 1.1l-1.7 -0.1l-1.7 2.9l-1.7 2.4l-1.7 -6.8l-1.7 0.5l-1.7 0l-1.7 -0.4l-1.7 5.1l-1.7 -4l-1.7 5.2l-1.7 -3.9l-1.7 3.2l-1.7 -2.9l-1.7 -2.3l-1.7 1.6l-1.7 -4l-1.7 1.4l-1.7 -1.4l-1.7 1.8l-1.7 -5.4l-1.7 0.3l-1.7 -0.5l-1.7 -3.2l-1.7 -4.9l-1.7 -2.5l-1.7 -6.5l-1.7 -3.8l-1.7 -8.7l-1.7 -9l-1.7 -7.9l-1.7 -11.5l-1.7 -14.1l-1.7 -5.1l-1.7 -6.9l-1.7 -1.6l-1.7 8.4l-1.7 10.1l-1.7 11l-1.7 11.8l-1.7 7.6l-1.7 8.2l-1.7 7.6l-1.7 7.8l-1.7 4.1l-1.7 4.2l-1.7 8l-1.7 -0.3l-1.7 0.3l-1.7 4l-1.7 -0.4l-1.7 3l-1.7 1.9l-1.7 -0.7l-1.7 -0.8l-1.7 3.7l-1.7 0.5l-1.7 -0.1l-1.7 -1.3l-1.7 0.7l-1.7 3.4l-1.7 -4l-1.7 0.3l-1.7 1.3l-1.7 1.7l-1.7 -1.3l-1.7 -0.8l-1.7 2.1l-1.7 -0.6l-1.7 3l-1.7 0l-1.7 -2.9l-1.7 0.3l-1.7 1l-1.7 0.3l-1.7 -2.2l-1.7 0.2l-1.7 0.9l-1.7 -0.2l-1.7 -0.3l-1.7 5.4l-1.7 -4.2l-1.7 1.4l-1.7 1.3l-1.7 1.2l-1.7 -2.3l-1.7 -1.5l-1.7 1l-1.7 0.5l-1.7 0l-1.7 2.7l-1.7 0.8l-1.7 -1.9l-1.7 -0.8l-1.7 2l-1.7 0.3l-1.7 0l-1.7 -2.5l-1.7 0.8l-1.7 4.5l-1.7 -4.6l-1.7 3.4l-1.7 -3l-1.7 0l-1.7 0.1l-1.7 1.5l-1.7 1.1l-1.7 -0.9l-1.7 2.4l-1.7 -1.1l-1.7 0l-1.7 1.4l-1.7 -1l-1.7 1.6l-1.7 -1.9l-1.7 -1.1l-1.7 3.8l-1.7 1.5l-1.7 -3.4l-1.7 3.7l-1.7 1.4l-1.7 0.6l-1.7 2.1l-1.7 -4.4l-1.7 2.8l-1.7 2.4l-1.7 -2.8l-1.7 -1.8l-1.7 0.4l-1.7 0.7l-1.7 -0.5l-1.7 2.1l-1.7 -0.3l-1.7 0.8l-1.7 -1.3l-1.7 2.3l-1.7 4.4l-1.7 -5.6l-1.7 1.3l-1.7 0.5l-1.7 1l-1.7 2.2l-1.7 -3.1l-1.7 1.6l-1.7 3.9l-1.7 3.8l-1.7 -4.7l-1.7 -1.6l-1.7 0.9l-1.7 1l-1.7 4.8l-1.7 -3.9l-1.7 -0.8l-1.7 2.9l-1.7 0.3l-1.7 -1l-1.7 1l-1.7 -0.1l-1.7 4l-1.7 -2.1l-1.7 1l-1.7 3l-1.7 -2.3l-1.7 -0.7l-1.7 -0.4l-1.7 1.1l-1.7 4.1l-1.7 -3l-1.7 4.3l-1.7 -1.6l-1.7 1.4l-1.7 -0.6l-1.7 -0.1l-1.7 0.3l-1.7 1.2l-1.7 0.9l-1.7 0.4l-1.7 4l-1.7 -2.6l-1.7 4.3l-1.7 -3.9l-1.7 3.1l-1.7 0.2l-1.7 0.2l-1.7 -2.3l-1.7 2.2l-1.7 1.2l-1.7 -0.4l-1.7 1l-1.7 -1.7l-1.7 2.7l-1.7 -2.6l-1.7 0.5l-1.7 7.2l-1.7 0.7l-1.7 -4.8l-1.7 0.9l-1.7 3.5l-1.7 5l-1.7 -4.7l-1.7 -0.4l-1.7 1.6l-1.7 2.1l-1.7 -5.1l-1.7 1.3l-1.7 -7.9l-1.7 -3.1l-1.7 0.9l-1.7 6.2l-1.7 4.9l-1.7 1.8l-1.7 2.3l-1.7 1.8l-1.7 0l-1.7 -1.1l-1.7 0.5l-1.7 2.9l-1.7 0.3l-1.7 1.1l-1.7 3.2l-1.7 -1.1l-1.7 5.8l-1.7 -4.3l-1.7 6.6l-1.7 -5l-1.7 2.1l-1.7 -3.5l-1.7 0.7l-1.7 3.8l-1.7 -0.1l-1.7 2.3l-1.7 -0.1l-1.7 2.7l-1.7 0.7l-1.7 -1.7l-1.7 0.6l-1.7 2.4l-1.7 -2l-1.7 -0.3l-1.7 2.4l-1.7 0.2l-1.7 -1l-1.7 3.4l-1.7 -2.3l-1.7 1l-1.7 2.1l-1.7 1.6l-1.7 -0.7l-1.7 2.1l-1.7 2.9l-1.7 -3l-1.7 2.3l-1.7 5.5l-1.7 -6.9l-1.7 -3.1l-1.7 2.4l-1.7 3.9l-1.7 2.9l-1.7 1.7l-1.7 0.3l-1.7 0.1l-1.7 0.1l-1.7 0.9l-1.7 1.2l-1.7 1.3l-1.7 -0.1l-1.7 3.5l-1.7 1.5l-1.7 -2.1l-1.7 4.3l-1.7 0.3l-1.7 -3.1l-1.7 0.7l-1.7 2.6l-1.7 0l-1.7 -0.1l-1.7 1.8l-1.7 0.6l-1.7 2.2l-1.7 3.5l-1.7 -3.3l-1.7 2.4l-1.7 -1.4l-1.7 1l-1.7 -0.4l-1.7 2.9l-1.7 4.4l-1.7 -3.2l-1.7 0.2l-1.7 0.2l-1.7 2.5l-1.7 -1.6l-1.7 2.3l-1.7 0.4l-1.7 1.4l-1.7 1.9l-1.7 4.8l-1.7 -1.3l-1.7 -0.3l-1.7 1l-1.7 -0.2l-1.7 1.9l-1.7 0.8l-1.7 -0.9l-1.7 3.1l-1.7 -2l-1.7 3.4l-1.7 -2l-1.7 4.5l-1.7 -1.3l-1.7 4.3l-1.7 -3.1l-1.7 0.2l-1.7 2.9l-1.7 -0.5l-1.7 1.9l-1.7 -0.5l-1.7 0.8l-1.7 2.5l-1.7 3.2l-1.7 -1.2l-1.7 0.9l-1.7 4l-1.7 0.8l-1.7 0.1l-1.7 -3.1l-1.7 0.6l-1.7 6.3l-1.7 -4.6l-1.7 3.5l-1.7 -0.5l-1.7 8.1l-1.7 -5.3l-1.7 -0.3l-1.7 4.4l-1.7 1.9l-1.7 -1l-1.7 1.3l-1.7 -1.9l-1.7 0.5l-1.7 0.9l-1.7 4.1l-1.7 -0.9l-1.7 0.4l-1.7 0.1l-1.7 4.4l-1.7 -1l-1.7 0.6l-1.7 -0.7l-1.7 3.8l-1.7 -1.6l-1.7 0.5l-1.7 3.7l-1.7 0.5l-1.7 0.1z"/>
<path fill="#20100a" stroke="#20100a" stroke-width="1.6" d="M132.2 927.8l1.7 -1.4l1.7 -1l1.7 1.9l1.7 -2.9l1.7 -0.7l1.7 -3.1l1.7 0.6l1.7 -1.8l1.7 0.4l1.7 -3.1l1.7 0.5l1.7 -6l1.7 -0.1l1.7 2l1.7 1.1l1.7 -2.6l1.7 -0.8l1.7 0.7l1.7 -2.5l1.7 -1.3l1.7 1.2l1.7 -2.2l1.7 0.1l1.7 -0.9l1.7 -2.5l1.7 0l1.7 -1.1l1.7 -2.4l1.7 -1.2l1.7 1.3l1.7 -2.1l1.7 -1.7l1.7 -0.2l1.7 -1.5l1.7 -1.3l1.7 -0.6l1.7 -1l1.7 1.5l1.7 -3.1l1.7 -1.7l1.7 1.2l1.7 -0.3l1.7 -2.9l1.7 -0.2l1.7 -3l1.7 3l1.7 -0.5l1.7 -5.7l1.7 3.7l1.7 -3.3l1.7 -4l1.7 4l1.7 -0.2l1.7 -3l1.7 -0.3l1.7 -3.1l1.7 -0.3l1.7 0.6l1.7 -1l1.7 1.9l1.7 -1.6l1.7 -1l1.7 -1.8l1.7 0.9l1.7 -1.4l1.7 -4.6l1.7 1.4l1.7 0.1l1.7 -3.3l1.7 0.7l1.7 -0.2l1.7 0.7l1.7 -2.4l1.7 -0.7l1.7 -2.9l1.7 2.5l1.7 -1.8l1.7 -0.9l1.7 -1.9l1.7 -2.3l1.7 4.2l1.7 -2.3l1.7 -4.2l1.7 -0.3l1.7 0.7l1.7 0.3l1.7 -3l1.7 0l1.7 -2.2l1.7 -0.3l1.7 0l1.7 1l1.7 -4.9l1.7 3.7l1.7 -0.4l1.7 -3.1l1.7 0l1.7 0.4l1.7 -3.7l1.7 1.3l1.7 0.3l1.7 -0.5l1.7 1l1.7 -0.9l1.7 -2l1.7 0.6l1.7 -2.6l1.7 -2.4l1.7 1.2l1.7 2.2l1.7 -5.9l1.7 4.4l1.7 -3.3l1.7 -3l1.7 1.5l1.7 1.3l1.7 -0.5l1.7 -0.1l1.7 -4.4l1.7 2.8l1.7 -1.2l1.7 -2.5l1.7 0.9l1.7 -3.9l1.7 0.3l1.7 2.3l1.7 -4.2l1.7 2.1l1.7 -1.2l1.7 2l1.7 -4.6l1.7 2.8l1.7 -2.7l1.7 -0.2l1.7 -0.2l1.7 0.4l1.7 -5l1.7 3.1l1.7 -2.4l1.7 0.3l1.7 -1.9l1.7 2.9l1.7 -3.9l1.7 0.5l1.7 -1.6l1.7 1.3l1.7 -0.7l1.7 -0.3l1.7 0.2l1.7 -3.2l1.7 -0.2l1.7 -0.9l1.7 -1.7l1.7 -0.8l1.7 2.7l1.7 -2.3l1.7 2.3l1.7 -5.4l1.7 2.8l1.7 -0.7l1.7 0.8l1.7 1.3l1.7 -3.4l1.7 0.3l1.7 0.4l1.7 -0.9l1.7 -0.4l1.7 -4l1.7 2.9l1.7 -0.5l1.7 -2.8l1.7 -0.3l1.7 1.3l1.7 -4.4l1.7 2.3l1.7 1.1l1.7 2.2l1.7 -3.3l1.7 0.3l1.7 1.1l1.7 -0.6l1.7 -1l1.7 -1.6l1.7 -1.5l1.7 -0.8l1.7 1.8l1.7 -0.9l1.7 -2.9l1.7 -0.4l1.7 -0.2l1.7 1l1.7 -2.8l1.7 0.2l1.7 -2.6l1.7 2.2l1.7 -1.3l1.7 1.4l1.7 -3.1l1.7 1.4l1.7 -1.2l1.7 -3l1.7 2.4l1.7 -2.1l1.7 0.3l1.7 3.2l1.7 -1.4l1.7 -4.5l1.7 3.7l1.7 -1.5l1.7 0.4l1.7 -3.2l1.7 0l1.7 -1.4l1.7 1.4l1.7 -3.3l1.7 -2.4l1.7 4.5l1.7 -0.8l1.7 -0.2l1.7 -3.8l1.7 2.3l1.7 -3.3l1.7 3.5l1.7 -1.5l1.7 -1.2l1.7 -1l1.7 1l1.7 1.1l1.7 0l1.7 -0.9l1.7 -0.1l1.7 -4.2l1.7 -4.3l1.7 5.7l1.7 -2.6l1.7 -0.9l1.7 1.6l1.7 1.2l1.7 -2l1.7 0.5l1.7 -1.9l1.7 2.4l1.7 -0.8l1.7 -0.3l1.7 -0.8l1.7 -1.6l1.7 1.5l1.7 -0.9l1.7 1l1.7 -1.7l1.7 -1.2l1.7 1.6l1.7 -7l1.7 3.8l1.7 0.8l1.7 -0.2l1.7 0.8l1.7 -4.4l1.7 0.7l1.7 2.4l1.7 1l1.7 -0.4l1.7 0.3l1.7 -2.8l1.7 3.2l1.7 -7.1l1.7 5.1l1.7 -2.9l1.7 1.2l1.7 -0.2l1.7 -0.1l1.7 1.2l1.7 -1.4l1.7 -5.9l1.7 3.9l1.7 0.8l1.7 0.3l1.7 -0.1l1.7 -4.1l1.7 3.7l1.7 0.6l1.7 -1.6l1.7 -0.5l1.7 1.1l1.7 -4l1.7 -2.2l1.7 2l1.7 2.2l1.7 -2.6l1.7 2.5l1.7 -0.3l1.7 -1.6l1.7 -0.3l1.7 -1.9l1.7 0.4l1.7 -0.1l1.7 2.2l1.7 -6.6l1.7 5.9l1.7 -4.7l1.7 2.3l1.7 -1l1.7 0.2l1.7 -1.8l1.7 -3.1l1.7 -1.8l1.7 -0.1l1.7 -8.2l1.7 -1.4l1.7 -3.1l1.7 -5.6l1.7 -7l1.7 -8.1l1.7 -8.8l1.7 -8.4l1.7 -10.1l1.7 -12l1.7 -13.5l1.7 -2.7l1.7 -2.3l1.7 8.6l1.7 9l1.7 11.1l1.7 6.6l1.7 11.7l1.7 11.1l1.7 7.3l1.7 1.9l1.7 8.3l1.7 4.5l1.7 0.2l1.7 4.7l1.7 -0.1l1.7 5.2l1.7 -1.1l1.7 3l1.7 -1.6l1.7 3l1.7 0.2l1.7 -0.3l1.7 0l1.7 -0.6l1.7 2.1l1.7 -1.3l1.7 2.2l1.7 -0.3l1.7 -4.7l1.7 6.2l1.7 -3.1l1.7 2.6l1.7 -1l1.7 0.1l1.7 -0.4l1.7 -2.2l1.7 2.1l1.7 -0.6l1.7 1.3l1.7 -1.3l1.7 1.8l1.7 0.5l1.7 -0.2l1.7 0.1l1.7 -0.5l1.7 -2.2l1.7 -1.3l1.7 3.5l1.7 0.5l1.7 -5.2l1.7 5.9l1.7 -6.7l1.7 1l1.7 2.7l1.7 0.2l1.7 -0.5l1.7 -1.1l1.7 2.3l1.7 0.1l1.7 -2.5l1.7 -0.3l1.7 0.4l1.7 0.3l1.7 -1.6l1.7 -2.8l1.7 5.6l1.7 -2.9l1.7 2.1l1.7 -3.2l1.7 -0.1l1.7 3.4l1.7 -2.2l1.7 -1.5l1.7 3.8l1.7 -4l1.7 1.8l1.7 1.5l1.7 -1.2l1.7 -0.6l1.7 2l1.7 -1.6l1.7 0.2l1.7 1l1.7 -2.3l1.7 0.9l1.7 -1.1l1.7 0.7l1.7 0.9l1.7 -2.5l1.7 1.9l1.7 0.7l1.7 -1.3l1.7 -0.2l1.7 0.9l1.7 -0.3l1.7 0.1l1.7 -0.4l1.7 -1.6l1.7 2.1l1.7 -1.5l1.7 2.5l1.7 -2.1l1.7 1.5l1.7 -0.3l1.7 -6.3l1.7 6.6l1.7 0.3l1.7 -2.1l1.7 -1.6l1.7 2.1l1.7 -0.9l1.7 -0.2l1.7 2l1.7 -0.8l1.7 -1.4l1.7 0.3l1.7 -1l1.7 1.5l1.7 -2.1l1.7 0.8l1.7 0.9l1.7 -3l1.7 3.2l1.7 0.8l1.7 -1.3l1.7 2l1.7 -1l1.7 -0.1l1.7 1l1.7 -1.5l1.7 -0.1l1.7 1.4l1.7 -2l1.7 -0.4l1.7 0.9l1.7 0.1l1.7 0.4l1.7 1l1.7 -2.5l1.7 2.9l1.7 0l1.7 0l1.7 -3.7l1.7 -0.6l1.7 0.9l1.7 2.8l1.7 0.4l1.7 -8.9l1.7 5.4l1.7 1.6l1.7 0l1.7 1.7l1.7 -2.2l1.7 4.1l1.7 -0.1l1.7 -0.6l1.7 -0.2l1.7 -2.9l1.7 1.1l1.7 1.7l1.7 -4.6l1.7 2.5l1.7 0.3l1.7 2.3l1.7 -0.8l1.7 -0.6l1.7 -1l1.7 -0.3l1.7 -0.8l1.7 0.8l1.7 2.8l1.7 -3.3l1.7 3.5l1.7 -1.8l1.7 -2.6l1.7 0.5l1.7 -2.9l1.7 3.5l1.7 0.7l1.7 -0.8l1.7 -0.1l1.7 -2.9l1.7 2.6l1.7 0l1.7 -4.9l1.7 5.2l1.7 -0.5l1.7 2l1.7 1l1.7 -1.2l1.7 -0.9l1.7 -4.3l1.7 2.9l1.7 0.5l1.7 0l1.7 -2.3l1.7 2.2l1.7 0.6l1.7 -1.3l1.7 -0.1l1.7 1.3l1.7 -1.6l1.7 1.2l1.7 -1.5l1.7 0.5l1.7 1.6l1.7 -0.8l1.7 -1.3l1.7 -0.1l1.7 1.2l1.7 -2l1.7 -1.4l1.7 -3.1l1.7 2.5l1.7 -2.4l1.7 3.2l1.7 -0.3l1.7 -1.5l1.7 2.7l1.7 -0.5l1.7 -0.5l1.7 -1.5l1.7 -0.3l1.7 -1.3l1.7 0.4l1.7 0.2l1.7 -0.6l1.7 3.8l1.7 0.4l1.7 -0.3l1.7 -0.2l1.7 -1.2l1.7 2l1.7 -1.6l1.7 0.3l1.7 0l1.7 1.4l1.7 -3.6l1.7 0.2l1.7 3.1l1.7 -0.5l1.7 1.5l1.7 0.6l1.7 -1.5l1.7 0.4l1.7 -2.3l1.7 4.3l1.7 -0.7l1.7 -0.2l1.7 -4.1l1.7 1.1l1.7 2.9l1.7 -0.8l1.7 0.5l1.7 0l1.7 0.5l1.7 -1.7l1.7 -4.4l1.7 5.2l1.7 -0.8l1.7 2.8l1.7 -4.4l1.7 6.1l1.7 -4.3l1.7 -1l1.7 5.5l1.7 -2.4l1.7 -1.5l1.7 3.5l1.7 1.1l1.7 1.8l1.7 -3.2l1.7 0.8l1.7 -2.3l1.7 -0.6l1.7 3.4l1.7 -2l1.7 -1.6l1.7 0.8l1.7 -0.1l1.7 -0.4l1.7 -1.9l1.7 2.9l1.7 0l1.7 0.8l1.7 0.1l1.7 -2.3l1.7 3.5l1.7 -4.2l1.7 -0.6l1.7 3.1l1.7 -0.5l1.7 1.9l1.7 -1.3l1.7 2.1l1.7 -1.7l1.7 1l1.7 -1.1l1.7 -0.6l1.7 -0.1l1.7 1.9l1.7 -5.4l1.7 3.6l1.7 0.1l1.7 1.9l1.7 -1.8l1.7 -1.5l1.7 3l1.7 -2.2l1.7 1.3l1.7 -1.9l1.7 -0.4l1.7 -0.3l1.7 1.8l1.7 1l1.7 -3l1.7 -1.5l1.7 2.5l1.7 0.6l1.7 -6.6l1.7 2.1l1.7 0.5l1.7 0.7l1.7 -1.3l1.7 -1.8l1.7 -3.2l1.7 2.1l1.7 3.2l1.7 1l1.7 -2.7l1.7 2.6l1.7 1.6l1.7 -0.5l1.7 -0.5l1.7 0.6l1.7 -2l1.7 1.4l1.7 -4.1l1.7 0.4l1.7 -0.3l1.7 -5.8l1.7 -0.2l1.7 -4.5l1.7 -1.5l1.7 4.2l1.7 1.5l1.7 -1.2l1.7 0.7l1.7 0.8l1.7 -1.6l1.7 -3.8l1.7 1.5l1.7 -4.8l1.7 -6.5l1.7 -7.5l1.7 -16.6l1.7 -21.8l1.7 -41.1l1.7 -74l1.7 -168.8l1.7 -237.5l1.7 26.6l1.7 247.8l1.7 144.7l1.7 70.2l1.7 34.5l1.7 13.5l1.7 11l1.7 11.8l1.7 6.4l1.7 5.9l1.7 5.4l1.7 0.7l1.7 -2.6l1.7 7.2l1.7 -1.7l1.7 3.7l1.7 2.1l1.7 -4.8l1.7 5.7l1.7 -4.1l1.7 2.5l1.7 -1.5l1.7 -3.4l1.7 0.8l1.7 0.9l1.7 0.6l1.7 0.6l1.7 0.9l1.7 -1l1.7 4.6l1.7 0.7l1.7 -2.4l1.7 3.4l1.7 0.6l1.7 -2.8l1.7 2.3l1.7 -0.1l1.7 -0.4l1.7 -0.4l1.7 -1.8l1.7 0.9l1.7 0.9l1.7 0.8l1.7 0.3l1.7 -1.1l1.7 0l1.7 -0.3l1.7 -0.9l1.7 0.1l1.7 0.4l1.7 1.2l1.7 -0.8l1.7 1.7l1.7 0.4l1.7 -3.1l1.7 0.7l1.7 -0.1l1.7 1.1l1.7 -1.5l1.7 -0.8l1.7 0.9l1.7 -1.2l1.7 -1.9l1.7 2l1.7 0.6l1.7 1.6l1.7 -1.1l1.7 0.6l1.7 1.5l1.7 -2.8l1.7 2.8l1.7 -2.1l1.7 -3.7l1.7 6.4l1.7 -6.6l1.7 4.9l1.7 -2.1l1.7 2.1l1.7 -0.1l1.7 -2.4l1.7 0.5l1.7 2.4l1.7 -0.2l1.7 -6.4l1.7 3.8l1.7 1.9l1.7 -0.7l1.7 -0.9l1.7 -1.2l1.7 3.6l1.7 -1.6l1.7 0.5l1.7 1.8l1.7 0.5l1.7 -1.5l1.7 -1.4l1.7 2.1l1.7 0.4l1.7 -4.5l1.7 3.4l1.7 -2.3l1.7 2.3l1.7 0.5l1.7 1.9l1.7 1.2l1.7 -6.1l1.7 3.6l1.7 -0.3l0 15.2l-1.7 -3.3l-1.7 1.1l-1.7 -1.2l-1.7 -0.2l-1.7 -1.4l-1.7 1l-1.7 -0.3l-1.7 -1.8l-1.7 -0.3l-1.7 -0.2l-1.7 0.4l-1.7 0.8l-1.7 -0.9l-1.7 1.5l-1.7 2.4l-1.7 1.1l-1.7 -3.3l-1.7 -0.9l-1.7 -2l-1.7 1.7l-1.7 -1.8l-1.7 3.5l-1.7 -1.9l-1.7 0l-1.7 -0.3l-1.7 2.6l-1.7 0.1l-1.7 -0.7l-1.7 0.2l-1.7 -4l-1.7 4.4l-1.7 -0.9l-1.7 -1l-1.7 0.9l-1.7 -0.5l-1.7 -0.7l-1.7 4.5l-1.7 -0.1l-1.7 -5.2l-1.7 6.4l-1.7 -5.1l-1.7 0.3l-1.7 -1.1l-1.7 0.5l-1.7 -1.4l-1.7 6.6l-1.7 -6.4l-1.7 2.5l-1.7 2.2l-1.7 -2.5l-1.7 -1.4l-1.7 0.8l-1.7 0.5l-1.7 1.2l-1.7 -2.3l-1.7 7.3l-1.7 -8.2l-1.7 0.4l-1.7 2.3l-1.7 -3.5l-1.7 2.5l-1.7 -0.3l-1.7 -1l-1.7 4.7l-1.7 -3.6l-1.7 1.6l-1.7 -2.5l-1.7 8.2l-1.7 -7l-1.7 0.4l-1.7 2.3l-1.7 -3.5l-1.7 2.5l-1.7 -0.2l-1.7 0.2l-1.7 -2.9l-1.7 1.3l-1.7 -3.3l-1.7 -0.2l-1.7 -1.8l-1.7 -0.6l-1.7 0.9l-1.7 -2l-1.7 -1.5l-1.7 2.3l-1.7 2l-1.7 -0.1l-1.7 2.7l-1.7 -1.5l-1.7 -2.4l-1.7 0.2l-1.7 1.9l-1.7 -4.4l-1.7 0.7l-1.7 -3l-1.7 -1.3l-1.7 -1.2l-1.7 -5.5l-1.7 -6.2l-1.7 -8.3l-1.7 -7.9l-1.7 -9.7l-1.7 -14.6l-1.7 -36.6l-1.7 -66.6l-1.7 -146.9l-1.7 -244.7l-1.7 -28.2l-1.7 234.6l-1.7 168.6l-1.7 77.2l-1.7 39.4l-1.7 23.5l-1.7 11.9l-1.7 8.8l-1.7 10.4l-1.7 -0.8l-1.7 2.7l-1.7 2.2l-1.7 2l-1.7 3.3l-1.7 0.4l-1.7 0.8l-1.7 -7.6l-1.7 -3.3l-1.7 2l-1.7 4.8l-1.7 1.7l-1.7 1.6l-1.7 0.5l-1.7 4.7l-1.7 -2.1l-1.7 1.1l-1.7 -0.7l-1.7 0.8l-1.7 1l-1.7 1.1l-1.7 4.6l-1.7 -5.5l-1.7 -1.2l-1.7 0.4l-1.7 3.1l-1.7 -8.2l-1.7 1.7l-1.7 1.4l-1.7 1.3l-1.7 0.3l-1.7 1.7l-1.7 1.1l-1.7 -0.1l-1.7 3.1l-1.7 -0.4l-1.7 -1.8l-1.7 1.2l-1.7 0.5l-1.7 -1.6l-1.7 2.1l-1.7 -0.5l-1.7 -1.5l-1.7 0.8l-1.7 0.7l-1.7 -0.5l-1.7 2.9l-1.7 -3l-1.7 2.7l-1.7 -3.8l-1.7 4.2l-1.7 -3.6l-1.7 -0.2l-1.7 4.4l-1.7 -0.3l-1.7 -0.3l-1.7 -2.5l-1.7 1.8l-1.7 -2l-1.7 2.6l-1.7 -1.6l-1.7 -1.9l-1.7 1.3l-1.7 2.2l-1.7 2.3l-1.7 -1.7l-1.7 -5.3l-1.7 0.3l-1.7 3l-1.7 -3l-1.7 2.1l-1.7 1.6l-1.7 0.1l-1.7 -1.9l-1.7 1.4l-1.7 -2.4l-1.7 1l-1.7 -0.5l-1.7 1.2l-1.7 1.3l-1.7 -1.3l-1.7 0.8l-1.7 0.5l-1.7 -0.9l-1.7 1.1l-1.7 1.1l-1.7 -3.1l-1.7 0.6l-1.7 -2.1l-1.7 -0.4l-1.7 1.4l-1.7 -2.7l-1.7 0.4l-1.7 -0.7l-1.7 -0.2l-1.7 -1.5l-1.7 0.8l-1.7 1.8l-1.7 -0.8l-1.7 1l-1.7 -0.9l-1.7 0.3l-1.7 2.3l-1.7 -2.6l-1.7 0.7l-1.7 1.7l-1.7 -1.6l-1.7 0.7l-1.7 -0.5l-1.7 -0.7l-1.7 -1.8l-1.7 4.1l-1.7 -2.8l-1.7 -1.8l-1.7 2.5l-1.7 0.1l-1.7 -3.8l-1.7 -0.2l-1.7 2.1l-1.7 1.2l-1.7 -1.9l-1.7 1.4l-1.7 -2.4l-1.7 -0.1l-1.7 2.7l-1.7 -3.6l-1.7 0.8l-1.7 -2.9l-1.7 0.7l-1.7 -0.7l-1.7 2l-1.7 -0.7l-1.7 4.6l-1.7 -3l-1.7 -0.7l-1.7 3l-1.7 -0.9l-1.7 -1.3l-1.7 1.4l-1.7 -1.2l-1.7 -0.3l-1.7 2l-1.7 0.5l-1.7 0.1l-1.7 4.1l-1.7 -1.5l-1.7 1.1l-1.7 -1.2l-1.7 -2.3l-1.7 2l-1.7 2.9l-1.7 -4.2l-1.7 0.8l-1.7 -1.1l-1.7 3l-1.7 -0.7l-1.7 -3.2l-1.7 2.6l-1.7 -0.9l-1.7 0l-1.7 1.6l-1.7 0.7l-1.7 1.8l-1.7 0.6l-1.7 -0.7l-1.7 3.7l-1.7 -2.9l-1.7 -3.7l-1.7 1.8l-1.7 -2.7l-1.7 1.3l-1.7 0.5l-1.7 -2.4l-1.7 2.4l-1.7 -2.2l-1.7 0.3l-1.7 8.4l-1.7 -6.7l-1.7 -0.1l-1.7 0.1l-1.7 4.2l-1.7 -3.2l-1.7 3.2l-1.7 -2l-1.7 0.8l-1.7 -1.2l-1.7 -1l-1.7 1.1l-1.7 -1.4l-1.7 1.9l-1.7 -0.8l-1.7 -0.1l-1.7 1.4l-1.7 -1.9l-1.7 1.8l-1.7 0.1l-1.7 -1.6l-1.7 0.5l-1.7 3.2l-1.7 -1.2l-1.7 -4.2l-1.7 3.1l-1.7 -4.1l-1.7 -0.2l-1.7 4.8l-1.7 -4.5l-1.7 1l-1.7 0.3l-1.7 0.2l-1.7 3l-1.7 -1.2l-1.7 -1.4l-1.7 0.2l-1.7 -0.8l-1.7 0.3l-1.7 0l-1.7 2.4l-1.7 -4.1l-1.7 0.3l-1.7 -0.4l-1.7 0l-1.7 0.9l-1.7 0.1l-1.7 2.9l-1.7 -3.2l-1.7 5.6l-1.7 -3.8l-1.7 -0.8l-1.7 4.6l-1.7 -2.3l-1.7 -2.6l-1.7 1l-1.7 0.2l-1.7 -1.4l-1.7 0.2l-1.7 1.4l-1.7 -0.8l-1.7 -1.3l-1.7 5.4l-1.7 -2.5l-1.7 -0.6l-1.7 0.2l-1.7 0.1l-1.7 5.1l-1.7 -5.4l-1.7 -1.7l-1.7 4l-1.7 -3.3l-1.7 1.5l-1.7 1.5l-1.7 1.2l-1.7 -1.2l-1.7 -2.8l-1.7 -0.4l-1.7 -0.7l-1.7 -0.3l-1.7 1.1l-1.7 -0.9l-1.7 2.3l-1.7 -1.5l-1.7 1.8l-1.7 -2.5l-1.7 0.1l-1.7 2.2l-1.7 0.5l-1.7 0.3l-1.7 0.2l-1.7 3l-1.7 -2.4l-1.7 -1.5l-1.7 -1.1l-1.7 4.4l-1.7 -2.4l-1.7 0.2l-1.7 -1.4l-1.7 -0.7l-1.7 0.2l-1.7 0.1l-1.7 0.6l-1.7 3.2l-1.7 -1.8l-1.7 2.8l-1.7 -2.5l-1.7 -1.4l-1.7 0.3l-1.7 0.5l-1.7 3.2l-1.7 -2.1l-1.7 -0.8l-1.7 0.4l-1.7 2l-1.7 -3.6l-1.7 0.3l-1.7 3.3l-1.7 -2.3l-1.7 3.2l-1.7 -0.5l-1.7 -0.9l-1.7 6.3l-1.7 -2.6l-1.7 -0.5l-1.7 -2.8l-1.7 0.4l-1.7 -0.8l-1.7 0l-1.7 -0.6l-1.7 -0.3l-1.7 1.2l-1.7 -0.7l-1.7 0.9l-1.7 -1.5l-1.7 6.9l-1.7 -6.3l-1.7 -0.1l-1.7 0.1l-1.7 -0.7l-1.7 0.5l-1.7 0.9l-1.7 -1.5l-1.7 1.7l-1.7 1.2l-1.7 -1.9l-1.7 0.2l-1.7 -0.7l-1.7 -0.5l-1.7 2.8l-1.7 -3.1l-1.7 2.9l-1.7 -3.1l-1.7 -0.9l-1.7 3.2l-1.7 -1.9l-1.7 -2.7l-1.7 3.1l-1.7 -0.6l-1.7 -4.2l-1.7 3.6l-1.7 -6l-1.7 -2.2l-1.7 -0.6l-1.7 0.6l-1.7 -8.7l-1.7 -4.5l-1.7 -8.4l-1.7 -7.8l-1.7 -8.3l-1.7 -6.8l-1.7 -13.1l-1.7 -6.1l-1.7 -11.8l-1.7 -3.5l-1.7 -4.7l-1.7 10l-1.7 7.4l-1.7 9.1l-1.7 16l-1.7 7.7l-1.7 11.8l-1.7 3.5l-1.7 5.4l-1.7 5.4l-1.7 4.3l-1.7 6.9l-1.7 8.8l-1.7 -3.5l-1.7 0.9l-1.7 3.7l-1.7 -3l-1.7 4.4l-1.7 0.3l-1.7 -1.9l-1.7 1.4l-1.7 -0.9l-1.7 1.3l-1.7 2.6l-1.7 2.1l-1.7 0.5l-1.7 -4.2l-1.7 -0.4l-1.7 0.4l-1.7 0.3l-1.7 0.5l-1.7 1.9l-1.7 3.7l-1.7 -2.5l-1.7 -0.8l-1.7 -0.5l-1.7 0.2l-1.7 2.8l-1.7 -1.6l-1.7 0.8l-1.7 2.9l-1.7 -4.5l-1.7 0.1l-1.7 2.1l-1.7 1.9l-1.7 -1.6l-1.7 2.4l-1.7 -0.6l-1.7 -1.5l-1.7 1.3l-1.7 1.5l-1.7 0.5l-1.7 -1.5l-1.7 0l-1.7 7.6l-1.7 -5.9l-1.7 -1.6l-1.7 0.3l-1.7 1.5l-1.7 1.2l-1.7 0.6l-1.7 -2.9l-1.7 1l-1.7 -0.4l-1.7 3.9l-1.7 -3.6l-1.7 0.8l-1.7 0l-1.7 2.1l-1.7 5.4l-1.7 -3.6l-1.7 -0.2l-1.7 -1.1l-1.7 -0.2l-1.7 0.8l-1.7 1.1l-1.7 2l-1.7 -2.1l-1.7 -0.4l-1.7 0.2l-1.7 3.4l-1.7 -1.8l-1.7 -0.8l-1.7 0.3l-1.7 7.3l-1.7 -2.3l-1.7 0.3l-1.7 -3l-1.7 -0.2l-1.7 3l-1.7 0.2l-1.7 -1.9l-1.7 -0.3l-1.7 2.5l-1.7 2.3l-1.7 -1.8l-1.7 3.2l-1.7 -1.3l-1.7 -1.2l-1.7 1.4l-1.7 -1.8l-1.7 3.9l-1.7 0.5l-1.7 -1.8l-1.7 0.5l-1.7 3.8l-1.7 -3.3l-1.7 3.4l-1.7 -2l-1.7 2.3l-1.7 1l-1.7 -2.3l-1.7 4.6l-1.7 0.4l-1.7 -0.3l-1.7 -2.5l-1.7 -0.2l-1.7 3l-1.7 -1.6l-1.7 -0.4l-1.7 2.2l-1.7 2.6l-1.7 2.7l-1.7 -5.2l-1.7 0.9l-1.7 3.1l-1.7 -2.4l-1.7 1l-1.7 2.1l-1.7 -0.7l-1.7 1.1l-1.7 0.2l-1.7 2l-1.7 -1.1l-1.7 0.1l-1.7 2.4l-1.7 3.5l-1.7 -1.4l-1.7 -1.5l-1.7 3.7l-1.7 -2l-1.7 2.1l-1.7 0.2l-1.7 -2.9l-1.7 0.6l-1.7 -1.2l-1.7 0.7l-1.7 0.9l-1.7 0.6l-1.7 1.9l-1.7 6.2l-1.7 -4.5l-1.7 0.1l-1.7 2.9l-1.7 -1.9l-1.7 1.5l-1.7 1.7l-1.7 5.5l-1.7 -8.1l-1.7 1.1l-1.7 0.6l-1.7 -0.1l-1.7 3.8l-1.7 -0.3l-1.7 -3.4l-1.7 1.3l-1.7 3l-1.7 -1l-1.7 2.9l-1.7 -1.7l-1.7 0.6l-1.7 -0.4l-1.7 4.1l-1.7 -0.4l-1.7 3.6l-1.7 -2.9l-1.7 -1.8l-1.7 1.5l-1.7 6.1l-1.7 -3.8l-1.7 0.6l-1.7 0.1l-1.7 1.3l-1.7 -1.2l-1.7 1.7l-1.7 1.1l-1.7 -2l-1.7 1.7l-1.7 3.6l-1.7 0.8l-1.7 -2l-1.7 1.2l-1.7 0.6l-1.7 3.3l-1.7 2.5l-1.7 -5.8l-1.7 1.9l-1.7 -1.2l-1.7 4.6l-1.7 -2.3l-1.7 2.5l-1.7 -1.4l-1.7 1.3l-1.7 -0.4l-1.7 7.7l-1.7 -5.7l-1.7 1.5l-1.7 1l-1.7 -0.1l-1.7 5.2l-1.7 -4.2l-1.7 1.2l-1.7 1.6l-1.7 0l-1.7 5.2l-1.7 -0.3l-1.7 -4.4l-1.7 6.4l-1.7 -4.2l-1.7 0.2l-1.7 -2.6l-1.7 9.9l-1.7 -2.7l-1.7 -0.6l-1.7 -0.4l-1.7 0.7l-1.7 2.9l-1.7 -2.1l-1.7 1l-1.7 0.5l-1.7 0.2l-1.7 2.5l-1.7 -1.4l-1.7 3.3l-1.7 -0.6l-1.7 1.6l-1.7 0.2l-1.7 0.4l-1.7 0.8l-1.7 3.9l-1.7 0.2l-1.7 0.4l-1.7 -1.2l-1.7 3.7l-1.7 -3.3l-1.7 5.2l-1.7 -1l-1.7 2.8l-1.7 -2.5l-1.7 2.8l-1.7 -1.1l-1.7 1.9l-1.7 -1.7l-1.7 2.8l-1.7 -0.4l-1.7 2.1l-1.7 2.1l-1.7 -1.5l-1.7 6.1l-1.7 -2.2l-1.7 0.7l-1.7 -0.5l-1.7 -1.3l-1.7 2l-1.7 6.7l-1.7 -0.8l-1.7 -3.5l-1.7 1.8l-1.7 2.7l-1.7 -1.4l-1.7 2l-1.7 2.6l-1.7 -2l-1.7 3.1l-1.7 1.5l-1.7 -4.3l-1.7 1.7l-1.7 1.3l-1.7 2.2l-1.7 0.1l-1.7 1.7l-1.7 3.4l-1.7 -2.1l-1.7 -0.1l-1.7 1.6l-1.7 0l-1.7 0.9l-1.7 0.9l-1.7 2.1l-1.7 1.6l-1.7 0.5l-1.7 0.7l-1.7 1.9l-1.7 2.4l-1.7 -1.1l-1.7 1.2l-1.7 0.3l-1.7 5.2l-1.7 -1.9l-1.7 -1l-1.7 4.1l-1.7 0.8l-1.7 -0.7l-1.7 0.9l-1.7 3.6l-1.7 -2.5l-1.7 2.9l-1.7 -2.3l-1.7 3.3l-1.7 -2.1l-1.7 6.1l-1.7 -0.8l-1.7 -2.2l-1.7 4.6l-1.7 -0.1l-1.7 0.1l-1.7 2.8l-1.7 4.5l-1.7 -2.9l-1.7 6.2z"/>
<path fill="#2e0c24" stroke="#2e0c24" stroke-width="1.6" d="M132.2 897.6l1.7 -2.5l1.7 -3.7l1.7 2.1l1.7 -1.3l1.7 -1.7l1.7 -0.7l1.7 -1.1l1.7 1.2l1.7 -1.1l1.7 -1l1.7 -3.3l1.7 0.4l1.7 1l1.7 -2.3l1.7 -1.5l1.7 -0.6l1.7 -1.3l1.7 -1.4l1.7 -1.2l1.7 -0.2l1.7 0.5l1.7 -0.9l1.7 -6.2l1.7 4.3l1.7 0.3l1.7 -0.8l1.7 -1.8l1.7 -4.2l1.7 1.3l1.7 -1.3l1.7 -3l1.7 1.1l1.7 -1.8l1.7 -2.6l1.7 0.1l1.7 -4l1.7 4.5l1.7 -3.2l1.7 -1.2l1.7 -2.6l1.7 0.2l1.7 -0.7l1.7 3l1.7 -4.2l1.7 1.5l1.7 -4.8l1.7 1.4l1.7 -2.3l1.7 -4l1.7 0.1l1.7 1.9l1.7 0.5l1.7 -1.5l1.7 -0.1l1.7 -2.2l1.7 0.6l1.7 -7.1l1.7 5.4l1.7 -0.6l1.7 -7.4l1.7 4.6l1.7 0.5l1.7 -0.6l1.7 -3.1l1.7 -0.1l1.7 -5.3l1.7 -0.6l1.7 1.7l1.7 -1.8l1.7 2.9l1.7 -2.6l1.7 0.6l1.7 -0.5l1.7 -3.6l1.7 -2.2l1.7 4l1.7 -3.4l1.7 -1l1.7 -2l1.7 -0.8l1.7 -0.1l1.7 -1.1l1.7 1.6l1.7 -2.3l1.7 -2.8l1.7 2.3l1.7 -0.8l1.7 -0.9l1.7 0.1l1.7 -0.4l1.7 -2.9l1.7 -1l1.7 -3.8l1.7 4.1l1.7 -1l1.7 -3.1l1.7 1.7l1.7 -1l1.7 -3.5l1.7 0l1.7 -0.4l1.7 1.4l1.7 -2.7l1.7 0.3l1.7 -0.5l1.7 -0.1l1.7 -2.7l1.7 1.9l1.7 -3.1l1.7 -0.1l1.7 0.8l1.7 -5.2l1.7 -3.1l1.7 4.2l1.7 -1l1.7 -1.7l1.7 1.5l1.7 -0.4l1.7 -0.9l1.7 1.6l1.7 -2.8l1.7 -5.5l1.7 1.2l1.7 1.8l1.7 -1.1l1.7 -3.1l1.7 0l1.7 2.2l1.7 -0.8l1.7 -0.7l1.7 -2.9l1.7 1.3l1.7 -2.6l1.7 -6.1l1.7 7l1.7 -2.7l1.7 1l1.7 -0.5l1.7 -3.5l1.7 -1.2l1.7 1.6l1.7 0.4l1.7 -1.4l1.7 1.4l1.7 -1l1.7 -0.3l1.7 -3.1l1.7 0.4l1.7 -0.9l1.7 -1.8l1.7 -1l1.7 -2.5l1.7 2.7l1.7 -7.2l1.7 5.6l1.7 1.6l1.7 -5.8l1.7 5.2l1.7 -0.8l1.7 -2.2l1.7 -1l1.7 -0.5l1.7 -1.3l1.7 -1.1l1.7 -0.3l1.7 -0.7l1.7 -3.4l1.7 2.6l1.7 -0.5l1.7 0.7l1.7 -0.6l1.7 -2.8l1.7 -0.1l1.7 0.7l1.7 0.6l1.7 -3.5l1.7 -1.6l1.7 2.8l1.7 -3.1l1.7 2.3l1.7 -5.3l1.7 0.8l1.7 3.4l1.7 -0.6l1.7 -0.2l1.7 -2.1l1.7 -0.3l1.7 -3.4l1.7 0.9l1.7 1l1.7 -0.2l1.7 -3.7l1.7 1.9l1.7 1.1l1.7 -4.8l1.7 3.8l1.7 -1.7l1.7 0.6l1.7 -3.5l1.7 0.9l1.7 -1.6l1.7 2.4l1.7 -2l1.7 -1l1.7 0.4l1.7 1l1.7 -1l1.7 0.1l1.7 0.8l1.7 -5.6l1.7 4.5l1.7 -2.4l1.7 0.6l1.7 0.4l1.7 -5l1.7 4.1l1.7 -6.4l1.7 -0.1l1.7 1l1.7 2.3l1.7 1.5l1.7 -1.8l1.7 0.7l1.7 -1.6l1.7 -1.9l1.7 0.4l1.7 -0.4l1.7 -2.3l1.7 1.8l1.7 -2.1l1.7 0.3l1.7 0.2l1.7 2l1.7 -0.2l1.7 -2.6l1.7 -0.3l1.7 2l1.7 -2.6l1.7 2.1l1.7 0.6l1.7 -1.6l1.7 -3.2l1.7 1.1l1.7 1.3l1.7 -1.9l1.7 0.2l1.7 0.3l1.7 -2.6l1.7 -1.5l1.7 1.7l1.7 -1.3l1.7 1.7l1.7 1l1.7 -0.3l1.7 -0.3l1.7 -0.8l1.7 -3.5l1.7 3.6l1.7 -2.4l1.7 0.9l1.7 -4l1.7 4.2l1.7 -3.7l1.7 1.6l1.7 -0.6l1.7 -0.9l1.7 1.2l1.7 -4.9l1.7 1.6l1.7 -1l1.7 2l1.7 2.3l1.7 -1.4l1.7 0.5l1.7 0.8l1.7 -3.8l1.7 3.3l1.7 -2l1.7 -4.4l1.7 6.2l1.7 -0.3l1.7 -3.3l1.7 1.1l1.7 -2.9l1.7 0.3l1.7 2.3l1.7 -0.6l1.7 -0.1l1.7 -1.1l1.7 -1.2l1.7 0.2l1.7 -2.9l1.7 3.3l1.7 -2.2l1.7 1.7l1.7 -1.4l1.7 -0.1l1.7 -0.7l1.7 0l1.7 -2.7l1.7 -0.4l1.7 1.2l1.7 -0.5l1.7 -3.1l1.7 0.2l1.7 -4.2l1.7 -2.9l1.7 0.4l1.7 -4.5l1.7 -2.9l1.7 -7.8l1.7 -7.2l1.7 -2.2l1.7 -9.7l1.7 -11.7l1.7 -12.5l1.7 -14.4l1.7 -4.3l1.7 -12l1.7 4.4l1.7 6.8l1.7 7.7l1.7 11l1.7 13.4l1.7 7.8l1.7 11.1l1.7 7.1l1.7 6.3l1.7 5.2l1.7 4.7l1.7 -0.6l1.7 4.1l1.7 3.1l1.7 -4.6l1.7 5.7l1.7 0.7l1.7 0.1l1.7 -2.6l1.7 2.5l1.7 0.8l1.7 0.1l1.7 2.1l1.7 -0.3l1.7 -0.9l1.7 3.3l1.7 -0.3l1.7 -1.2l1.7 -3l1.7 1.8l1.7 2.9l1.7 -3.2l1.7 1.9l1.7 0.5l1.7 -0.4l1.7 -0.5l1.7 1.3l1.7 -0.1l1.7 -1.2l1.7 0.1l1.7 -1.2l1.7 1.6l1.7 -6.4l1.7 4.4l1.7 2.2l1.7 -1.5l1.7 2.5l1.7 -5.3l1.7 2.2l1.7 2l1.7 -1.3l1.7 -1.1l1.7 3.7l1.7 -2.4l1.7 0.3l1.7 2.6l1.7 -1.1l1.7 1.6l1.7 -1.4l1.7 -0.6l1.7 0.2l1.7 -1.2l1.7 1.6l1.7 -1.9l1.7 2l1.7 -3.4l1.7 3.9l1.7 -0.7l1.7 0.1l1.7 -1.4l1.7 0.2l1.7 0.4l1.7 -3.8l1.7 4.3l1.7 -1.7l1.7 1.6l1.7 1.2l1.7 -0.4l1.7 -3.9l1.7 0.1l1.7 0.2l1.7 2.2l1.7 -0.1l1.7 -1.8l1.7 -0.9l1.7 2.8l1.7 1.8l1.7 -2.1l1.7 0.5l1.7 1.4l1.7 0.6l1.7 0.2l1.7 0.5l1.7 -0.7l1.7 -1.6l1.7 0.9l1.7 -0.2l1.7 0.1l1.7 -0.6l1.7 -1.2l1.7 1.4l1.7 0.1l1.7 0.5l1.7 -0.7l1.7 -4.7l1.7 4.4l1.7 1.7l1.7 0.2l1.7 -2.9l1.7 2.2l1.7 -5.2l1.7 1.7l1.7 1l1.7 0.2l1.7 1.5l1.7 -2.1l1.7 2.6l1.7 -0.3l1.7 1.3l1.7 -1.8l1.7 1l1.7 -1.4l1.7 -4.2l1.7 1.7l1.7 -3.1l1.7 2.7l1.7 2.8l1.7 -1.5l1.7 -0.6l1.7 -0.2l1.7 0.5l1.7 0.3l1.7 -1.5l1.7 -1.5l1.7 -2.1l1.7 4.5l1.7 -1l1.7 -1.7l1.7 2.3l1.7 1.2l1.7 -2.2l1.7 -1.3l1.7 1.3l1.7 -2.7l1.7 3.4l1.7 -0.3l1.7 1l1.7 -3.3l1.7 1.9l1.7 0.7l1.7 -0.8l1.7 -4.7l1.7 5.1l1.7 0.9l1.7 -3l1.7 0.6l1.7 0.4l1.7 2l1.7 -0.9l1.7 -4.3l1.7 1.4l1.7 -1.8l1.7 -0.1l1.7 1.7l1.7 1.1l1.7 -0.5l1.7 -0.3l1.7 -0.6l1.7 1.8l1.7 -1l1.7 1.2l1.7 -3.3l1.7 1.6l1.7 1.8l1.7 2.5l1.7 -1.7l1.7 0.7l1.7 -0.9l1.7 -0.2l1.7 1.5l1.7 -1.5l1.7 2.3l1.7 -3.4l1.7 -1.1l1.7 4l1.7 -3.5l1.7 2.2l1.7 -0.7l1.7 -3.1l1.7 4l1.7 -2.9l1.7 0.1l1.7 2l1.7 2l1.7 0.6l1.7 0.5l1.7 -0.9l1.7 -3.5l1.7 -0.4l1.7 4.7l1.7 -2l1.7 -1.4l1.7 1.9l1.7 0.1l1.7 0.5l1.7 -0.5l1.7 -0.7l1.7 1.8l1.7 1.1l1.7 -7.4l1.7 7l1.7 -1.6l1.7 0.7l1.7 -1.7l1.7 -2.8l1.7 0.2l1.7 0.8l1.7 1.8l1.7 0.5l1.7 -1.2l1.7 -1.5l1.7 -3.6l1.7 -0.6l1.7 -1.2l1.7 2.1l1.7 -0.4l1.7 0.8l1.7 6.6l1.7 -3l1.7 3l1.7 -0.8l1.7 2.2l1.7 -2.3l1.7 -1l1.7 0.7l1.7 0.3l1.7 1.3l1.7 -2.3l1.7 -0.9l1.7 2.7l1.7 -3.1l1.7 2.7l1.7 -3.8l1.7 3.2l1.7 1.4l1.7 -5.7l1.7 3.6l1.7 -0.1l1.7 0.5l1.7 1l1.7 -0.5l1.7 -4.1l1.7 1.4l1.7 1l1.7 -2.9l1.7 2.9l1.7 0l1.7 0l1.7 -1.6l1.7 -1.2l1.7 1.6l1.7 2.5l1.7 -1l1.7 0.5l1.7 0.6l1.7 -3.1l1.7 1.4l1.7 1.9l1.7 -2.5l1.7 -3.1l1.7 0.8l1.7 -1.4l1.7 3.2l1.7 -3.1l1.7 3.8l1.7 1.5l1.7 -0.3l1.7 -1.8l1.7 1.2l1.7 -0.4l1.7 0.5l1.7 -5.6l1.7 4.6l1.7 -2.6l1.7 2.8l1.7 0.8l1.7 -0.7l1.7 -1.9l1.7 1.6l1.7 2.7l1.7 -2.3l1.7 -5.9l1.7 6.5l1.7 -7.2l1.7 3.5l1.7 2.8l1.7 0.2l1.7 -3.3l1.7 2.6l1.7 -2.2l1.7 1.9l1.7 -0.1l1.7 -2.3l1.7 1.3l1.7 -0.5l1.7 1.1l1.7 1.1l1.7 -0.9l1.7 0.9l1.7 0.8l1.7 1.7l1.7 -0.7l1.7 -1.8l1.7 0l1.7 -1.6l1.7 1.9l1.7 1.1l1.7 -2.8l1.7 -2.3l1.7 -1.5l1.7 2.1l1.7 -0.2l1.7 -5.8l1.7 -0.4l1.7 -1.8l1.7 -1.3l1.7 5.2l1.7 1.5l1.7 2.3l1.7 1.3l1.7 -4.1l1.7 2.9l1.7 -1.4l1.7 3.7l1.7 -0.3l1.7 -2.1l1.7 0.6l1.7 -2.4l1.7 -1.2l1.7 -6.9l1.7 0.1l1.7 -6.3l1.7 0.9l1.7 1.5l1.7 5.5l1.7 0.2l1.7 0.2l1.7 0.8l1.7 -0.7l1.7 -1.8l1.7 -4.1l1.7 -0.9l1.7 -13.8l1.7 -1.3l1.7 -13.1l1.7 -21.9l1.7 -37.9l1.7 -76.9l1.7 -168.4l1.7 -230.1l1.7 23.5l1.7 243.8l1.7 145.1l1.7 67.5l1.7 32l1.7 15.2l1.7 9l1.7 6.5l1.7 9.8l1.7 8.3l1.7 2.7l1.7 6.7l1.7 2.2l1.7 0l1.7 3.6l1.7 -1.6l1.7 3.7l1.7 0.3l1.7 0.4l1.7 -4.8l1.7 -0.6l1.7 1l1.7 -0.9l1.7 -3.9l1.7 1l1.7 3.3l1.7 2.1l1.7 1.2l1.7 1.2l1.7 2.6l1.7 0.9l1.7 -2.2l1.7 3.5l1.7 -3.7l1.7 0.1l1.7 -0.1l1.7 2l1.7 1.2l1.7 0.2l1.7 -3.8l1.7 5.2l1.7 -1.6l1.7 -1.8l1.7 0l1.7 1.5l1.7 -1.3l1.7 -0.1l1.7 0.4l1.7 0l1.7 3.6l1.7 1.1l1.7 -0.7l1.7 1.8l1.7 -2.2l1.7 0.8l1.7 -3.2l1.7 -1l1.7 2.1l1.7 -0.2l1.7 0.3l1.7 -0.6l1.7 -2.4l1.7 2.1l1.7 0.5l1.7 -2l1.7 -3l1.7 3l1.7 0.4l1.7 1.8l1.7 -4.8l1.7 2.9l1.7 -2.1l1.7 1.3l1.7 2l1.7 -0.6l1.7 -2.7l1.7 -0.1l1.7 -2.1l1.7 -1.6l1.7 2.9l1.7 -1.1l1.7 1.5l1.7 -0.6l1.7 -2.8l1.7 1.6l1.7 0.9l1.7 -2.3l1.7 -0.6l1.7 -0.7l1.7 4.6l1.7 -1.9l1.7 3.7l1.7 -1.3l1.7 -1.3l1.7 2.5l1.7 -0.9l1.7 2l1.7 -3.5l1.7 3.2l1.7 -1.6l1.7 1l1.7 -4.6l1.7 4.5l1.7 0l1.7 0.5l1.7 -2.3l1.7 -0.7l1.7 2.3l0 10.1l-1.7 2.2l-1.7 1.8l-1.7 -5l-1.7 2.6l-1.7 -2.9l-1.7 2.8l-1.7 -3.1l-1.7 1.7l-1.7 0.5l-1.7 2.6l-1.7 -2l-1.7 1l-1.7 -1l-1.7 -2.8l-1.7 1.1l-1.7 1.6l-1.7 -3.1l-1.7 -0.6l-1.7 -0.8l-1.7 -2l-1.7 0.1l-1.7 1.7l-1.7 0.2l-1.7 3.4l-1.7 0.8l-1.7 -3.2l-1.7 -0.1l-1.7 4.3l-1.7 3l-1.7 -6l-1.7 1.6l-1.7 1.1l-1.7 -0.4l-1.7 -0.3l-1.7 4.3l-1.7 -2.5l-1.7 -1.3l-1.7 3.8l-1.7 -4l-1.7 1.2l-1.7 -0.8l-1.7 4.7l-1.7 1.2l-1.7 -6l-1.7 1.5l-1.7 -1.1l-1.7 2.4l-1.7 -3.1l-1.7 2.4l-1.7 -2.1l-1.7 0.8l-1.7 2l-1.7 1.9l-1.7 -2.6l-1.7 0.2l-1.7 -0.1l-1.7 2.4l-1.7 -4l-1.7 0.3l-1.7 3.6l-1.7 -4.5l-1.7 0.6l-1.7 3.2l-1.7 -3.3l-1.7 1.6l-1.7 0.6l-1.7 -2.5l-1.7 -0.1l-1.7 -0.1l-1.7 2l-1.7 -0.9l-1.7 -2.1l-1.7 3l-1.7 -2.9l-1.7 3.2l-1.7 -0.6l-1.7 -0.6l-1.7 0l-1.7 -4.4l-1.7 -3l-1.7 -1.7l-1.7 -1.3l-1.7 -1.1l-1.7 -1.1l-1.7 2.6l-1.7 0.1l-1.7 1.6l-1.7 0.9l-1.7 2l-1.7 3l-1.7 -2.6l-1.7 -2.3l-1.7 -0.5l-1.7 1.2l-1.7 -5.8l-1.7 -3.3l-1.7 -2.5l-1.7 -3.4l-1.7 -7.1l-1.7 -3.7l-1.7 -16.1l-1.7 -9.2l-1.7 -15.4l-1.7 -29.6l-1.7 -69.5l-1.7 -141l-1.7 -244.3l-1.7 -28l-1.7 234.7l-1.7 170.6l-1.7 72.6l-1.7 38.3l-1.7 23.2l-1.7 12.6l-1.7 6.9l-1.7 8.8l-1.7 0.7l-1.7 2.2l-1.7 4.8l-1.7 -3.1l-1.7 5.6l-1.7 -2.9l-1.7 -3.6l-1.7 4.4l-1.7 -9.4l-1.7 -2.1l-1.7 7.1l-1.7 1.4l-1.7 3.4l-1.7 1.9l-1.7 0.7l-1.7 5l-1.7 -2l-1.7 -0.5l-1.7 -1.1l-1.7 1.2l-1.7 -0.5l-1.7 1l-1.7 -2.9l-1.7 3.3l-1.7 -7.5l-1.7 -1.9l-1.7 -0.9l-1.7 1.9l-1.7 4l-1.7 4.7l-1.7 -2.1l-1.7 4.5l-1.7 -2.3l-1.7 -0.2l-1.7 2.1l-1.7 0.1l-1.7 3.3l-1.7 -4.4l-1.7 0.6l-1.7 -0.4l-1.7 5.7l-1.7 -2l-1.7 -2.6l-1.7 -0.7l-1.7 0l-1.7 0.1l-1.7 1.6l-1.7 -3.3l-1.7 1.3l-1.7 -1.6l-1.7 5.8l-1.7 -4.7l-1.7 0.2l-1.7 4.3l-1.7 0l-1.7 -1.9l-1.7 -1.3l-1.7 -0.3l-1.7 -0.2l-1.7 2.4l-1.7 0.1l-1.7 2.3l-1.7 -4.8l-1.7 2.5l-1.7 -2.6l-1.7 -0.7l-1.7 -0.8l-1.7 2.7l-1.7 -2.4l-1.7 1.8l-1.7 -1.4l-1.7 1.2l-1.7 3.6l-1.7 -2l-1.7 -2.2l-1.7 0.2l-1.7 2.4l-1.7 -2.7l-1.7 2.3l-1.7 1.1l-1.7 0.5l-1.7 -3.5l-1.7 5.3l-1.7 -5.4l-1.7 3.8l-1.7 -3.2l-1.7 1l-1.7 3.5l-1.7 -2.3l-1.7 2.5l-1.7 -4.9l-1.7 0.9l-1.7 1.6l-1.7 -0.6l-1.7 -2.1l-1.7 -0.4l-1.7 -0.1l-1.7 1.5l-1.7 -1.7l-1.7 1.6l-1.7 5l-1.7 -2.5l-1.7 0.6l-1.7 -1.9l-1.7 0.6l-1.7 0.6l-1.7 -0.4l-1.7 4.5l-1.7 -4l-1.7 2.4l-1.7 -0.4l-1.7 -3.1l-1.7 2.9l-1.7 -2.6l-1.7 3.7l-1.7 -0.7l-1.7 1.2l-1.7 0.8l-1.7 -1.6l-1.7 -4l-1.7 3.1l-1.7 -1.6l-1.7 -1.4l-1.7 -1.1l-1.7 -0.9l-1.7 0l-1.7 -0.1l-1.7 -4.7l-1.7 -0.2l-1.7 1l-1.7 1l-1.7 2.1l-1.7 2l-1.7 0l-1.7 3.1l-1.7 0l-1.7 0.1l-1.7 0.7l-1.7 2l-1.7 -2.3l-1.7 -1.7l-1.7 0.6l-1.7 -0.7l-1.7 0l-1.7 0.6l-1.7 -0.2l-1.7 -1l-1.7 0.3l-1.7 -0.6l-1.7 2.3l-1.7 -3l-1.7 3.8l-1.7 -3.1l-1.7 2.2l-1.7 -0.8l-1.7 -0.1l-1.7 2.6l-1.7 -3.2l-1.7 2.2l-1.7 -0.3l-1.7 -4.2l-1.7 3.5l-1.7 -2.2l-1.7 -1.1l-1.7 3.5l-1.7 -1.8l-1.7 0.5l-1.7 -0.5l-1.7 2.6l-1.7 -3.8l-1.7 1.3l-1.7 -1.7l-1.7 0.8l-1.7 1.7l-1.7 -0.5l-1.7 0.7l-1.7 -2.5l-1.7 1.5l-1.7 -0.5l-1.7 -2.3l-1.7 0.2l-1.7 -1.2l-1.7 2.9l-1.7 -2.2l-1.7 0.7l-1.7 2.6l-1.7 -2.3l-1.7 -2l-1.7 5.7l-1.7 -2.9l-1.7 -1.2l-1.7 0.6l-1.7 0.6l-1.7 4.7l-1.7 3.6l-1.7 -7l-1.7 1.5l-1.7 3l-1.7 -5.7l-1.7 4.1l-1.7 -1.6l-1.7 -3.4l-1.7 1.1l-1.7 0.3l-1.7 2.4l-1.7 -1.8l-1.7 -1.2l-1.7 1.3l-1.7 0.3l-1.7 -0.3l-1.7 -0.9l-1.7 1.1l-1.7 -0.8l-1.7 -0.7l-1.7 2.6l-1.7 -0.3l-1.7 -2.1l-1.7 2.2l-1.7 0.2l-1.7 2.1l-1.7 -0.9l-1.7 -1.5l-1.7 -0.3l-1.7 4l-1.7 -3.8l-1.7 4.4l-1.7 -3.5l-1.7 0.7l-1.7 -1.2l-1.7 1.2l-1.7 1.3l-1.7 -1.1l-1.7 -0.3l-1.7 5l-1.7 -5.9l-1.7 1.6l-1.7 1.3l-1.7 -2.3l-1.7 -0.6l-1.7 3.4l-1.7 -0.8l-1.7 -2.1l-1.7 0.9l-1.7 4.2l-1.7 -1.8l-1.7 2.2l-1.7 -2.6l-1.7 -2.7l-1.7 -0.5l-1.7 1l-1.7 -0.2l-1.7 -0.6l-1.7 6.4l-1.7 -6.2l-1.7 -0.4l-1.7 0.9l-1.7 1.6l-1.7 0l-1.7 -0.6l-1.7 1.7l-1.7 -0.8l-1.7 3.5l-1.7 -3.4l-1.7 -1.6l-1.7 -0.4l-1.7 0l-1.7 -1.5l-1.7 -0.8l-1.7 4.2l-1.7 -2.8l-1.7 1.1l-1.7 -0.3l-1.7 0.2l-1.7 0.9l-1.7 -1l-1.7 3.4l-1.7 -1.9l-1.7 -3.5l-1.7 -0.3l-1.7 5l-1.7 -5.1l-1.7 1.7l-1.7 0.7l-1.7 -0.6l-1.7 3.1l-1.7 -2.3l-1.7 -1.1l-1.7 2.1l-1.7 0.7l-1.7 -0.8l-1.7 0l-1.7 -0.2l-1.7 1.6l-1.7 3l-1.7 -0.4l-1.7 -4.4l-1.7 0.2l-1.7 0l-1.7 -2.4l-1.7 0.9l-1.7 -0.2l-1.7 1.5l-1.7 0l-1.7 -2.2l-1.7 0.8l-1.7 1.2l-1.7 1.5l-1.7 0.4l-1.7 -1.1l-1.7 -2.3l-1.7 1.2l-1.7 0.6l-1.7 -1.8l-1.7 2.3l-1.7 -2.5l-1.7 0.2l-1.7 2.5l-1.7 3.5l-1.7 -2.9l-1.7 -2.6l-1.7 1.6l-1.7 2.9l-1.7 -4.5l-1.7 1.5l-1.7 0.6l-1.7 -0.5l-1.7 -2.8l-1.7 3.2l-1.7 -0.4l-1.7 -3.1l-1.7 1.1l-1.7 -2l-1.7 -0.1l-1.7 -0.2l-1.7 2l-1.7 -2.6l-1.7 -2.2l-1.7 1.1l-1.7 -2.9l-1.7 -3.8l-1.7 0.9l-1.7 -4.9l-1.7 -6.8l-1.7 -3.6l-1.7 -10.2l-1.7 -11l-1.7 -8.3l-1.7 -12.2l-1.7 -11.3l-1.7 -10l-1.7 -6.6l-1.7 1.9l-1.7 5.3l-1.7 10.7l-1.7 17.5l-1.7 6l-1.7 11.1l-1.7 6.9l-1.7 11.8l-1.7 7.5l-1.7 0.8l-1.7 6l-1.7 2.8l-1.7 2l-1.7 0.3l-1.7 1.6l-1.7 0.6l-1.7 6.8l-1.7 -3.9l-1.7 2.6l-1.7 -1.1l-1.7 1.2l-1.7 0.6l-1.7 0.3l-1.7 2.2l-1.7 -1.8l-1.7 7.9l-1.7 -8l-1.7 1.2l-1.7 2.3l-1.7 -1.4l-1.7 7.3l-1.7 -5.6l-1.7 1.9l-1.7 1.3l-1.7 -5.3l-1.7 3.9l-1.7 -0.5l-1.7 -1.5l-1.7 5.4l-1.7 2.3l-1.7 -5l-1.7 -0.5l-1.7 0.8l-1.7 3.6l-1.7 0.1l-1.7 -0.4l-1.7 3.9l-1.7 -7.7l-1.7 -0.9l-1.7 2.8l-1.7 -0.5l-1.7 -0.1l-1.7 2.6l-1.7 -1.2l-1.7 -0.8l-1.7 0.8l-1.7 0.7l-1.7 -2.1l-1.7 6.3l-1.7 -4.4l-1.7 -0.3l-1.7 1.4l-1.7 0.2l-1.7 1.6l-1.7 -1.9l-1.7 3.3l-1.7 -1l-1.7 2.1l-1.7 -2.8l-1.7 2.9l-1.7 1.9l-1.7 -2l-1.7 -2.4l-1.7 1.2l-1.7 1.2l-1.7 -0.7l-1.7 0.5l-1.7 -0.8l-1.7 4.3l-1.7 -2.9l-1.7 2l-1.7 0.4l-1.7 3.5l-1.7 -4.3l-1.7 0.8l-1.7 -0.5l-1.7 2.3l-1.7 1.9l-1.7 -2.2l-1.7 0.1l-1.7 0.6l-1.7 0.8l-1.7 -1.1l-1.7 1.3l-1.7 -0.6l-1.7 3.1l-1.7 -1.1l-1.7 1.3l-1.7 -2.7l-1.7 1.1l-1.7 -0.1l-1.7 4.5l-1.7 -0.5l-1.7 -0.8l-1.7 1.3l-1.7 -1.7l-1.7 5.2l-1.7 -4.3l-1.7 1l-1.7 -0.5l-1.7 3.4l-1.7 -1l-1.7 -0.9l-1.7 2.1l-1.7 -1.1l-1.7 0.1l-1.7 -0.1l-1.7 0.4l-1.7 -0.1l-1.7 0.9l-1.7 2l-1.7 2.5l-1.7 0.5l-1.7 -2.2l-1.7 2.1l-1.7 -0.1l-1.7 -0.3l-1.7 1.7l-1.7 2.1l-1.7 -0.5l-1.7 1.1l-1.7 -3l-1.7 0.4l-1.7 -0.1l-1.7 2.1l-1.7 3.5l-1.7 -3l-1.7 0.8l-1.7 0.3l-1.7 0.1l-1.7 2.2l-1.7 0.9l-1.7 0.1l-1.7 -1.9l-1.7 5.6l-1.7 -2.2l-1.7 -1.2l-1.7 5.2l-1.7 -0.7l-1.7 2.1l-1.7 -2.6l-1.7 -1.7l-1.7 3.4l-1.7 -3.7l-1.7 3.9l-1.7 -1.7l-1.7 2.4l-1.7 -0.8l-1.7 5.1l-1.7 -2.2l-1.7 0.5l-1.7 5.6l-1.7 -3.6l-1.7 -1.7l-1.7 -0.4l-1.7 0.8l-1.7 4.5l-1.7 -0.6l-1.7 0.9l-1.7 -2.6l-1.7 0.2l-1.7 4.5l-1.7 0.3l-1.7 1.5l-1.7 1.6l-1.7 -0.3l-1.7 0.6l-1.7 -0.1l-1.7 0.1l-1.7 4.6l-1.7 -3.3l-1.7 -0.6l-1.7 1.8l-1.7 -1.1l-1.7 0.8l-1.7 0.6l-1.7 2.6l-1.7 -0.7l-1.7 -0.2l-1.7 2.2l-1.7 0l-1.7 3.8l-1.7 -1.1l-1.7 0.3l-1.7 0.2l-1.7 1.7l-1.7 -0.2l-1.7 4.1l-1.7 -3.1l-1.7 3.4l-1.7 1.6l-1.7 3l-1.7 0.7l-1.7 -5.4l-1.7 -0.5l-1.7 0.2l-1.7 3.7l-1.7 -1l-1.7 3.7l-1.7 1.9l-1.7 0.3l-1.7 1.9l-1.7 -0.4l-1.7 1.3l-1.7 -1.3l-1.7 0.7l-1.7 3.6l-1.7 -3.7l-1.7 -0.1l-1.7 2.9l-1.7 0.4l-1.7 -1.6l-1.7 1.5l-1.7 3.2l-1.7 0.5l-1.7 0.8l-1.7 -0.2l-1.7 1.2l-1.7 2.6l-1.7 -1.4l-1.7 0.8l-1.7 2.1l-1.7 1.1l-1.7 2.6l-1.7 -4.3l-1.7 2.3l-1.7 2.8l-1.7 -0.9l-1.7 1.6l-1.7 5.3l-1.7 -2.8l-1.7 -1.3l-1.7 2.2l-1.7 -1.8l-1.7 2.2l-1.7 -0.2l-1.7 1.1l-1.7 0.8l-1.7 3.5l-1.7 -1.2l-1.7 -1.4l-1.7 1.5l-1.7 -0.8l-1.7 3.8l-1.7 0l-1.7 4.2l-1.7 4.7l-1.7 -5.5l-1.7 0.2l-1.7 2.9l-1.7 0.3l-1.7 -0.3l-1.7 0.7l-1.7 0.2l-1.7 1l-1.7 2.8l-1.7 0.1l-1.7 0l-1.7 1.2l-1.7 4.7l-1.7 -4.1l-1.7 0.4l-1.7 2l-1.7 1.9l-1.7 2.5l-1.7 0.3l-1.7 2.1l-1.7 1.9l-1.7 -2l-1.7 0.6l-1.7 2.1l-1.7 -1.7l-1.7 1.8l-1.7 0.9l-1.7 2.6l-1.7 3.5l-1.7 -2.7l-1.7 8.5l-1.7 -5.5l-1.7 0.4l-1.7 -0.3l-1.7 2.6l-1.7 4.5l-1.7 -3.6l-1.7 1.6l-1.7 5.4l-1.7 -0.2l-1.7 -2.8l-1.7 2.7l-1.7 -1.4l-1.7 5.2l-1.7 -3.3l-1.7 8.4l-1.7 -5.4l-1.7 0.2l-1.7 1.7l-1.7 0.2l-1.7 2.1l-1.7 -0.8l-1.7 2.3l-1.7 -1l-1.7 2.9l-1.7 -1.1l-1.7 4.5l-1.7 2.4l-1.7 -2.9l-1.7 4.8l-1.7 -3.6l-1.7 0.6l-1.7 1.3z"/>
<path fill="#22080a" stroke="#22080a" stroke-width="1.6" d="M132.2 863.9l1.7 -0.2l1.7 -1.4l1.7 -0.2l1.7 -3.1l1.7 -2.7l1.7 2.6l1.7 -3.2l1.7 -2.8l1.7 2.1l1.7 0.2l1.7 -2l1.7 -2.5l1.7 0.1l1.7 -3.1l1.7 1l1.7 1l1.7 -5.3l1.7 2.9l1.7 -0.9l1.7 -5.5l1.7 1.1l1.7 0.8l1.7 1.5l1.7 -0.4l1.7 -4.4l1.7 2.1l1.7 -1.3l1.7 1l1.7 -1.3l1.7 -1.8l1.7 -3.6l1.7 1.9l1.7 -6.8l1.7 3.2l1.7 -4.3l1.7 -3.9l1.7 6.5l1.7 -2.8l1.7 2.9l1.7 -3.7l1.7 -0.3l1.7 -1.4l1.7 1.8l1.7 -0.6l1.7 -0.9l1.7 -0.8l1.7 -3l1.7 -0.3l1.7 -0.1l1.7 -3.3l1.7 0.4l1.7 -1.3l1.7 -1.7l1.7 -1.1l1.7 2.5l1.7 -0.3l1.7 -4.2l1.7 -1.7l1.7 -1.9l1.7 3.6l1.7 -2.2l1.7 -0.2l1.7 -7.4l1.7 4.4l1.7 1l1.7 -0.7l1.7 -3.4l1.7 1.2l1.7 -1l1.7 -3.9l1.7 1.2l1.7 0.1l1.7 -4.9l1.7 0.6l1.7 1.1l1.7 -4.8l1.7 -0.3l1.7 0.7l1.7 -0.8l1.7 0.2l1.7 1l1.7 -0.7l1.7 -0.6l1.7 -0.9l1.7 -0.6l1.7 -5l1.7 1.5l1.7 0.9l1.7 -1.9l1.7 -0.6l1.7 -3.1l1.7 2.2l1.7 0.3l1.7 -1.5l1.7 -2.9l1.7 1.9l1.7 -3l1.7 0.4l1.7 -0.4l1.7 -1.3l1.7 -1l1.7 -5.4l1.7 2.6l1.7 -2l1.7 -0.4l1.7 0l1.7 0.1l1.7 -3.2l1.7 2.6l1.7 -1.4l1.7 0.5l1.7 -0.2l1.7 -7.3l1.7 4.6l1.7 -5l1.7 3.6l1.7 -0.9l1.7 -3.4l1.7 1.1l1.7 -3l1.7 -0.1l1.7 -0.9l1.7 0.4l1.7 -1.3l1.7 -2l1.7 2.6l1.7 -1.5l1.7 -4.4l1.7 4.1l1.7 -1.7l1.7 -2.5l1.7 3.3l1.7 -4.1l1.7 1.2l1.7 -0.7l1.7 -0.8l1.7 -0.1l1.7 -0.5l1.7 -0.5l1.7 -0.5l1.7 -0.7l1.7 -0.4l1.7 0.2l1.7 -0.8l1.7 -0.1l1.7 -1.5l1.7 -4.5l1.7 2.5l1.7 0.5l1.7 -5.3l1.7 2.9l1.7 -4.7l1.7 0.9l1.7 1.1l1.7 -0.2l1.7 1l1.7 -4.7l1.7 3.1l1.7 -1.4l1.7 -0.5l1.7 -4.9l1.7 4.9l1.7 -2.3l1.7 -1.9l1.7 2.2l1.7 -1.2l1.7 -2.9l1.7 2.5l1.7 -3l1.7 -0.1l1.7 -0.1l1.7 -0.3l1.7 1.4l1.7 -0.3l1.7 -0.2l1.7 -1.8l1.7 -1.1l1.7 -3.7l1.7 -0.3l1.7 1.8l1.7 1.7l1.7 -0.1l1.7 -2.7l1.7 -2.6l1.7 0.5l1.7 2.4l1.7 -1.2l1.7 -0.6l1.7 -2.3l1.7 1.7l1.7 -2.5l1.7 0.9l1.7 0.5l1.7 0.9l1.7 -4.6l1.7 0.8l1.7 1.4l1.7 -2.8l1.7 1.7l1.7 -0.6l1.7 -3.1l1.7 -4.4l1.7 6.3l1.7 -3.9l1.7 2.4l1.7 1.2l1.7 -4.4l1.7 3.3l1.7 -1.9l1.7 -1.1l1.7 0l1.7 1.4l1.7 -4.8l1.7 3.5l1.7 -0.1l1.7 1l1.7 -1.5l1.7 -4.8l1.7 4.6l1.7 -2.4l1.7 -1.2l1.7 3l1.7 -2.4l1.7 -1.9l1.7 4l1.7 -3.1l1.7 0.2l1.7 0.2l1.7 0.8l1.7 -3.2l1.7 1.2l1.7 0.3l1.7 -0.4l1.7 -1.7l1.7 0.4l1.7 1.1l1.7 -1.3l1.7 1.2l1.7 -3.2l1.7 2.2l1.7 -0.3l1.7 -2.6l1.7 -3.2l1.7 5.4l1.7 -4.7l1.7 2.4l1.7 -1.8l1.7 -2.5l1.7 4.1l1.7 -3l1.7 -1.2l1.7 1l1.7 0.8l1.7 -1.2l1.7 1.9l1.7 -1.4l1.7 0.1l1.7 0.4l1.7 -0.5l1.7 0.9l1.7 -1.5l1.7 -0.8l1.7 -1.9l1.7 -0.3l1.7 4l1.7 -0.6l1.7 -0.2l1.7 -1.2l1.7 -0.5l1.7 -5.1l1.7 2.2l1.7 -1.5l1.7 1.4l1.7 -0.8l1.7 1.7l1.7 -0.1l1.7 -0.5l1.7 -2l1.7 2l1.7 -3.7l1.7 -4.5l1.7 6.3l1.7 -1.4l1.7 0.2l1.7 -0.1l1.7 1.9l1.7 -3.5l1.7 1.2l1.7 -1.2l1.7 1.5l1.7 1.1l1.7 -1.3l1.7 -2.9l1.7 3.5l1.7 0.5l1.7 -0.7l1.7 -0.7l1.7 -3.5l1.7 2.1l1.7 -0.8l1.7 -4.2l1.7 -2.4l1.7 3.8l1.7 -2.9l1.7 0.5l1.7 -3.1l1.7 -2.4l1.7 -2.5l1.7 -5.8l1.7 -2.8l1.7 -3.6l1.7 -6.5l1.7 -7l1.7 -10.1l1.7 -10.5l1.7 -8.9l1.7 -11.8l1.7 -8.5l1.7 -5.1l1.7 -3.3l1.7 8l1.7 5.1l1.7 13l1.7 11.5l1.7 4.9l1.7 13.8l1.7 7l1.7 5.8l1.7 4.1l1.7 3.9l1.7 1.3l1.7 4.4l1.7 0.8l1.7 2.4l1.7 -2.2l1.7 3.1l1.7 1.1l1.7 0.7l1.7 -0.2l1.7 0.2l1.7 -2.8l1.7 3.3l1.7 0.6l1.7 -0.1l1.7 0.2l1.7 -0.3l1.7 1.4l1.7 -0.6l1.7 0.4l1.7 0.5l1.7 -3.7l1.7 2.5l1.7 -1.9l1.7 0.2l1.7 1.9l1.7 -3.8l1.7 1.7l1.7 2.3l1.7 -6.4l1.7 5.8l1.7 -3.3l1.7 0.2l1.7 1.5l1.7 -1.9l1.7 -0.3l1.7 3.5l1.7 -3.7l1.7 0.6l1.7 3.7l1.7 -0.7l1.7 -3l1.7 1.3l1.7 0.8l1.7 0.2l1.7 0.8l1.7 -2.4l1.7 0.1l1.7 1.4l1.7 -2.3l1.7 0.2l1.7 -1l1.7 2.2l1.7 0.5l1.7 -0.1l1.7 -2.3l1.7 -2.2l1.7 2.3l1.7 1.1l1.7 -0.8l1.7 -3.9l1.7 3.5l1.7 -0.6l1.7 -0.4l1.7 -3.4l1.7 5.6l1.7 -1.5l1.7 1.2l1.7 -0.8l1.7 1.4l1.7 -1.9l1.7 -5.3l1.7 7.4l1.7 -1l1.7 0l1.7 -2.3l1.7 1.9l1.7 2.7l1.7 -0.4l1.7 -2l1.7 -0.1l1.7 0.6l1.7 -2.5l1.7 -2.9l1.7 4.9l1.7 0.3l1.7 -0.3l1.7 -2.9l1.7 3.6l1.7 -3.7l1.7 1.4l1.7 2.2l1.7 0l1.7 -1.6l1.7 -0.8l1.7 -1.4l1.7 1.5l1.7 1.4l1.7 -0.8l1.7 -2.3l1.7 1.3l1.7 1.6l1.7 0.2l1.7 0.3l1.7 -1.2l1.7 2.3l1.7 -2.3l1.7 0.6l1.7 0.1l1.7 1.8l1.7 -1.7l1.7 -3.4l1.7 4l1.7 -2l1.7 2.5l1.7 -0.5l1.7 -1.2l1.7 1l1.7 -2.7l1.7 1.3l1.7 -2.7l1.7 0.7l1.7 5l1.7 -0.6l1.7 -3.7l1.7 3.7l1.7 -1.9l1.7 2.6l1.7 -0.5l1.7 -0.8l1.7 -2.4l1.7 0.4l1.7 1.8l1.7 -0.2l1.7 2.1l1.7 0.3l1.7 -0.6l1.7 1l1.7 -0.5l1.7 -1.2l1.7 1.3l1.7 -1.8l1.7 -0.3l1.7 3.1l1.7 -1.9l1.7 1l1.7 0.3l1.7 -1.4l1.7 -2.5l1.7 1.5l1.7 2l1.7 -5.7l1.7 4.4l1.7 2.2l1.7 -2l1.7 -4l1.7 4.4l1.7 -4.4l1.7 1.8l1.7 2.1l1.7 -0.4l1.7 0.7l1.7 -3.5l1.7 0.9l1.7 3.3l1.7 -0.6l1.7 -4.2l1.7 3.1l1.7 -2.3l1.7 2.5l1.7 0l1.7 1.5l1.7 -3l1.7 3.2l1.7 -1.6l1.7 0.5l1.7 -1.4l1.7 1l1.7 -4.8l1.7 3.4l1.7 3.2l1.7 -2.6l1.7 -2.8l1.7 4.9l1.7 -5.2l1.7 2.7l1.7 -0.6l1.7 2.3l1.7 1.4l1.7 -5.3l1.7 4.2l1.7 -3.3l1.7 3.1l1.7 0l1.7 -1l1.7 0.2l1.7 -5.6l1.7 4.3l1.7 -2.3l1.7 5l1.7 -4.4l1.7 -0.4l1.7 1.7l1.7 1.6l1.7 -0.1l1.7 -2.6l1.7 3.1l1.7 -1.9l1.7 -0.3l1.7 -0.4l1.7 -2.2l1.7 -0.7l1.7 -3.8l1.7 2.3l1.7 -3.7l1.7 7.3l1.7 0.5l1.7 -0.3l1.7 -0.3l1.7 -1l1.7 2.7l1.7 -1.3l1.7 2.3l1.7 1l1.7 -3.6l1.7 2l1.7 1.3l1.7 -1.5l1.7 -2.8l1.7 -1.2l1.7 3.6l1.7 0.5l1.7 -0.4l1.7 -2.1l1.7 -0.3l1.7 -0.7l1.7 2l1.7 1.1l1.7 -1.1l1.7 0.2l1.7 -2.1l1.7 -2.6l1.7 4.3l1.7 -3.2l1.7 2.7l1.7 1.5l1.7 0.9l1.7 -2.6l1.7 4l1.7 -3.7l1.7 1.9l1.7 -0.6l1.7 -0.7l1.7 2.5l1.7 -0.2l1.7 -3.3l1.7 3.4l1.7 1.4l1.7 -0.8l1.7 0.5l1.7 -1.6l1.7 1.4l1.7 -3.4l1.7 2l1.7 0.1l1.7 -0.1l1.7 -2.9l1.7 3.4l1.7 -0.6l1.7 -0.2l1.7 -3.6l1.7 -1.2l1.7 4.2l1.7 -2.5l1.7 -0.8l1.7 4.4l1.7 0.8l1.7 -1.5l1.7 1.7l1.7 -1.8l1.7 0.7l1.7 -0.4l1.7 2l1.7 -2.5l1.7 -4.5l1.7 4l1.7 -0.6l1.7 0.6l1.7 0.2l1.7 -0.8l1.7 1.9l1.7 1.4l1.7 -2l1.7 0.6l1.7 1.8l1.7 -4l1.7 1.2l1.7 2.2l1.7 0.1l1.7 -0.6l1.7 -4.4l1.7 3.3l1.7 -1.1l1.7 0.5l1.7 1.4l1.7 -2l1.7 0.7l1.7 0l1.7 -1.9l1.7 0.5l1.7 -2.6l1.7 1.8l1.7 -8l1.7 2.2l1.7 -2.9l1.7 -1.7l1.7 6.3l1.7 -4.3l1.7 6.2l1.7 1.7l1.7 1.5l1.7 -0.5l1.7 -2.4l1.7 1.7l1.7 -4l1.7 3.2l1.7 -0.3l1.7 -1.2l1.7 -4.6l1.7 -0.8l1.7 -5.7l1.7 -2.9l1.7 0.8l1.7 -1.6l1.7 7.8l1.7 2.8l1.7 0.7l1.7 -5l1.7 -2.7l1.7 3.9l1.7 -4.7l1.7 -4.8l1.7 -4.8l1.7 -9l1.7 -12.1l1.7 -21.8l1.7 -39.4l1.7 -80.5l1.7 -165.8l1.7 -296.5l1.7 83.9l1.7 249.5l1.7 144.3l1.7 68.1l1.7 34.9l1.7 13.9l1.7 9l1.7 5.3l1.7 9.6l1.7 11.9l1.7 3.5l1.7 5l1.7 1l1.7 -1.7l1.7 2.4l1.7 2.1l1.7 3.9l1.7 -3.7l1.7 3l1.7 -2l1.7 0.1l1.7 -2.2l1.7 0.5l1.7 -2.6l1.7 -0.1l1.7 -3l1.7 5.3l1.7 2.1l1.7 2.6l1.7 1l1.7 -2.2l1.7 1.8l1.7 -0.4l1.7 1.5l1.7 -2.5l1.7 -0.5l1.7 0.6l1.7 1.8l1.7 -0.9l1.7 -0.2l1.7 3.3l1.7 -3.5l1.7 2.3l1.7 -1.8l1.7 -0.9l1.7 2.1l1.7 0.1l1.7 -0.9l1.7 0.3l1.7 0.8l1.7 0.9l1.7 -1.3l1.7 0.2l1.7 0.2l1.7 1.5l1.7 -1.2l1.7 0.5l1.7 -5.3l1.7 5.6l1.7 -2l1.7 -4.5l1.7 5.1l1.7 -4.7l1.7 3.8l1.7 -0.1l1.7 1l1.7 -4.4l1.7 0.1l1.7 -0.9l1.7 2.3l1.7 0.5l1.7 -0.6l1.7 0.1l1.7 2.1l1.7 -1l1.7 -0.6l1.7 1l1.7 -3.4l1.7 -3.6l1.7 4.7l1.7 -0.7l1.7 0.3l1.7 1.9l1.7 -2.3l1.7 0.9l1.7 -5.3l1.7 1.9l1.7 -2.2l1.7 5l1.7 0.1l1.7 -0.3l1.7 1.8l1.7 -0.7l1.7 3.1l1.7 0l1.7 -1.2l1.7 -1.2l1.7 2l1.7 0.3l1.7 0.3l1.7 -0.1l1.7 -2.5l1.7 -0.7l1.7 1.4l1.7 0.2l1.7 -0.6l1.7 1.7l1.7 0.4l0 11.2l-1.7 0.8l-1.7 -3.5l-1.7 -0.4l-1.7 0.7l-1.7 -1.4l-1.7 0.8l-1.7 2.9l-1.7 -2.2l-1.7 1.7l-1.7 -1.9l-1.7 1l-1.7 0.4l-1.7 -2.5l-1.7 4.2l-1.7 -2.2l-1.7 -0.9l-1.7 -0.7l-1.7 -0.7l-1.7 4.5l-1.7 -8.5l-1.7 0.7l-1.7 3.4l-1.7 0.6l-1.7 -2l-1.7 6.3l-1.7 -5.6l-1.7 1.5l-1.7 -1.8l-1.7 -1.2l-1.7 4.6l-1.7 -2.9l-1.7 3.9l-1.7 1.4l-1.7 -5l-1.7 0.5l-1.7 0.8l-1.7 -1.3l-1.7 0.8l-1.7 0.2l-1.7 2.7l-1.7 -1.3l-1.7 0.6l-1.7 0.9l-1.7 -0.2l-1.7 -1.7l-1.7 5l-1.7 -3l-1.7 -1.7l-1.7 3.5l-1.7 -3.5l-1.7 1.4l-1.7 1.5l-1.7 -0.6l-1.7 0.3l-1.7 0.2l-1.7 -2l-1.7 -0.3l-1.7 -0.1l-1.7 1.7l-1.7 -2.8l-1.7 1.2l-1.7 -0.1l-1.7 2.3l-1.7 0.8l-1.7 -3.1l-1.7 1l-1.7 -0.5l-1.7 4.4l-1.7 -0.9l-1.7 -3.8l-1.7 0.3l-1.7 -0.5l-1.7 -0.2l-1.7 1.4l-1.7 -2.6l-1.7 0.5l-1.7 4.8l-1.7 -5.2l-1.7 0.9l-1.7 0.9l-1.7 -2.3l-1.7 -5.3l-1.7 3.2l-1.7 -4.6l-1.7 1.2l-1.7 0.7l-1.7 6.8l-1.7 -2.2l-1.7 3l-1.7 -3.8l-1.7 1.3l-1.7 0.7l-1.7 -4.3l-1.7 2.5l-1.7 -5.5l-1.7 -2.7l-1.7 -0.7l-1.7 -7.8l-1.7 -3.7l-1.7 -6.9l-1.7 -14l-1.7 -5.9l-1.7 -19.3l-1.7 -30.4l-1.7 -70.6l-1.7 -143.9l-1.7 -247.4l-1.7 -26l-1.7 233.4l-1.7 169.2l-1.7 78.6l-1.7 41.2l-1.7 20.4l-1.7 13.8l-1.7 6.5l-1.7 5.7l-1.7 4.1l-1.7 6.1l-1.7 1.2l-1.7 -0.3l-1.7 2l-1.7 0.2l-1.7 1.6l-1.7 -8.3l-1.7 -2.6l-1.7 1.3l-1.7 3.3l-1.7 5.5l-1.7 -0.2l-1.7 3.1l-1.7 1.2l-1.7 0.4l-1.7 1.1l-1.7 1.1l-1.7 -1.1l-1.7 0.1l-1.7 1.5l-1.7 0l-1.7 0.8l-1.7 -2l-1.7 -6.3l-1.7 0.1l-1.7 -1l-1.7 4.3l-1.7 -1.9l-1.7 2.7l-1.7 6.8l-1.7 -2.8l-1.7 4.4l-1.7 -3.3l-1.7 -1.5l-1.7 0.3l-1.7 2.7l-1.7 -3.1l-1.7 -0.2l-1.7 2.8l-1.7 1.7l-1.7 -1.5l-1.7 0.9l-1.7 -1.9l-1.7 1.8l-1.7 4l-1.7 -3.6l-1.7 -2l-1.7 2.5l-1.7 -4.1l-1.7 2.2l-1.7 0.2l-1.7 -2.4l-1.7 1.4l-1.7 -1.2l-1.7 3.3l-1.7 -1.6l-1.7 -1.3l-1.7 6.5l-1.7 -6l-1.7 -0.2l-1.7 -0.2l-1.7 5.9l-1.7 -5.3l-1.7 0.4l-1.7 -1.6l-1.7 -0.3l-1.7 -1.1l-1.7 2l-1.7 -1.7l-1.7 -0.7l-1.7 4.1l-1.7 -3.3l-1.7 2.3l-1.7 -1.1l-1.7 0.4l-1.7 -0.1l-1.7 -0.4l-1.7 1.5l-1.7 1.4l-1.7 -0.8l-1.7 -0.7l-1.7 1.4l-1.7 2.1l-1.7 0.2l-1.7 -2.6l-1.7 0.7l-1.7 -0.8l-1.7 1.2l-1.7 -3.1l-1.7 -0.1l-1.7 0.1l-1.7 1.6l-1.7 -1.2l-1.7 -1.7l-1.7 -0.3l-1.7 0.5l-1.7 -0.1l-1.7 -1.1l-1.7 0.6l-1.7 -0.6l-1.7 0l-1.7 0.5l-1.7 0l-1.7 2.9l-1.7 1.4l-1.7 -0.7l-1.7 1.1l-1.7 -0.5l-1.7 -2.4l-1.7 1.5l-1.7 3.2l-1.7 -4.5l-1.7 -1.1l-1.7 1.4l-1.7 0.4l-1.7 1.3l-1.7 -2.4l-1.7 0.6l-1.7 6.3l-1.7 -6.8l-1.7 -0.9l-1.7 0.6l-1.7 5.1l-1.7 -5l-1.7 -1.7l-1.7 0.2l-1.7 -4.5l-1.7 2.6l-1.7 0.4l-1.7 -0.9l-1.7 1.7l-1.7 1l-1.7 3.3l-1.7 1l-1.7 -2.8l-1.7 1.6l-1.7 -0.3l-1.7 5.4l-1.7 -5.2l-1.7 0.4l-1.7 1l-1.7 0.5l-1.7 -3.7l-1.7 -0.6l-1.7 4.1l-1.7 -1.9l-1.7 0.1l-1.7 -0.7l-1.7 1.8l-1.7 -0.8l-1.7 -0.6l-1.7 -0.1l-1.7 0.2l-1.7 1.6l-1.7 -2.9l-1.7 3l-1.7 -0.3l-1.7 -0.5l-1.7 0.3l-1.7 -0.9l-1.7 -0.4l-1.7 0.1l-1.7 -0.9l-1.7 2.1l-1.7 -1.8l-1.7 5.1l-1.7 -4.2l-1.7 8.5l-1.7 -7.6l-1.7 -2l-1.7 -0.3l-1.7 -0.2l-1.7 2.2l-1.7 -0.5l-1.7 1.8l-1.7 -1.3l-1.7 2.2l-1.7 -1.3l-1.7 -0.1l-1.7 -0.9l-1.7 1l-1.7 0.8l-1.7 -0.6l-1.7 -2.6l-1.7 2.1l-1.7 3.7l-1.7 -3.8l-1.7 -0.4l-1.7 0.3l-1.7 -0.3l-1.7 3.4l-1.7 -1.2l-1.7 -1.6l-1.7 0.4l-1.7 -0.9l-1.7 0.8l-1.7 1.7l-1.7 -3.3l-1.7 0.5l-1.7 -0.8l-1.7 2.9l-1.7 -2l-1.7 0.5l-1.7 1.5l-1.7 -2.4l-1.7 -1.1l-1.7 1.9l-1.7 0.3l-1.7 -2l-1.7 -0.4l-1.7 1.4l-1.7 1.6l-1.7 -1.8l-1.7 6.4l-1.7 -4.9l-1.7 -1.3l-1.7 1.9l-1.7 -1.4l-1.7 -1.9l-1.7 -0.4l-1.7 1.8l-1.7 -1.2l-1.7 2.1l-1.7 -0.6l-1.7 1.1l-1.7 -0.5l-1.7 -2.5l-1.7 -1.3l-1.7 5.3l-1.7 -1l-1.7 -1.1l-1.7 0.4l-1.7 -1.7l-1.7 0.7l-1.7 -1l-1.7 4.5l-1.7 -2.7l-1.7 -1.3l-1.7 0.4l-1.7 0.4l-1.7 1.8l-1.7 -3.2l-1.7 0l-1.7 -1.6l-1.7 0.3l-1.7 4.8l-1.7 -4.6l-1.7 1.8l-1.7 0.4l-1.7 -1.1l-1.7 0.6l-1.7 -2l-1.7 3.3l-1.7 -1.2l-1.7 -0.2l-1.7 3.5l-1.7 -2.2l-1.7 1.5l-1.7 -3.4l-1.7 0l-1.7 0l-1.7 2.7l-1.7 -1.6l-1.7 0.7l-1.7 -1.1l-1.7 -0.2l-1.7 3.7l-1.7 -0.1l-1.7 -3.5l-1.7 -1.5l-1.7 0.8l-1.7 1.7l-1.7 -2.1l-1.7 2.1l-1.7 0.1l-1.7 3.9l-1.7 -6l-1.7 2.1l-1.7 -0.1l-1.7 -0.6l-1.7 1.4l-1.7 -1.8l-1.7 0.2l-1.7 -0.8l-1.7 1.5l-1.7 2.4l-1.7 -3.5l-1.7 1.1l-1.7 -1.8l-1.7 1.6l-1.7 0.1l-1.7 3l-1.7 -0.2l-1.7 1l-1.7 -3.4l-1.7 0.7l-1.7 3.3l-1.7 -4.7l-1.7 2.2l-1.7 -1.4l-1.7 3.4l-1.7 -3.1l-1.7 -0.6l-1.7 1.2l-1.7 1.3l-1.7 -1.2l-1.7 0l-1.7 -0.9l-1.7 0.4l-1.7 3.4l-1.7 0.1l-1.7 -2.7l-1.7 0.4l-1.7 -0.9l-1.7 4.3l-1.7 -2.3l-1.7 -1.6l-1.7 0.1l-1.7 3l-1.7 1.8l-1.7 -0.2l-1.7 -3.2l-1.7 0.4l-1.7 -1.4l-1.7 2.4l-1.7 -3.2l-1.7 0.2l-1.7 0.1l-1.7 -0.5l-1.7 2.1l-1.7 1.8l-1.7 -6.3l-1.7 0.4l-1.7 -0.1l-1.7 0.1l-1.7 -1.4l-1.7 0.1l-1.7 -4l-1.7 -0.7l-1.7 -1.2l-1.7 -5.4l-1.7 -3.4l-1.7 -8.1l-1.7 -8l-1.7 -8.7l-1.7 -10.2l-1.7 -9.4l-1.7 -5.3l-1.7 -12.8l-1.7 -3.5l-1.7 -4.2l-1.7 13.2l-1.7 3.6l-1.7 15.9l-1.7 5.2l-1.7 9.2l-1.7 13.5l-1.7 6.2l-1.7 2.4l-1.7 5.8l-1.7 5.2l-1.7 1.2l-1.7 5.6l-1.7 1.4l-1.7 0.9l-1.7 2.9l-1.7 -0.7l-1.7 3.3l-1.7 1.3l-1.7 1.4l-1.7 0.4l-1.7 0l-1.7 -1.7l-1.7 0.8l-1.7 1.1l-1.7 1.2l-1.7 1.9l-1.7 -1l-1.7 2.7l-1.7 -2.7l-1.7 -1.5l-1.7 1l-1.7 7.3l-1.7 -5.9l-1.7 -1.4l-1.7 5.6l-1.7 -4l-1.7 3.6l-1.7 -2.4l-1.7 -1.2l-1.7 0.9l-1.7 4.7l-1.7 -3.7l-1.7 2l-1.7 -2.1l-1.7 1.6l-1.7 2.1l-1.7 -1.8l-1.7 0.5l-1.7 -2.1l-1.7 0.8l-1.7 3.3l-1.7 0.3l-1.7 2.2l-1.7 -0.5l-1.7 -0.8l-1.7 -0.8l-1.7 -1.5l-1.7 0.4l-1.7 4.4l-1.7 -4.5l-1.7 3l-1.7 -1.2l-1.7 -0.8l-1.7 -0.8l-1.7 1.9l-1.7 2.3l-1.7 -2.3l-1.7 -0.4l-1.7 2.9l-1.7 -2.8l-1.7 2.5l-1.7 3l-1.7 -4.4l-1.7 4.4l-1.7 -2.5l-1.7 0.3l-1.7 0.9l-1.7 0.3l-1.7 2.6l-1.7 -2.9l-1.7 0.7l-1.7 -0.1l-1.7 1.1l-1.7 0.8l-1.7 -2.5l-1.7 2.1l-1.7 -0.9l-1.7 6.1l-1.7 -3.6l-1.7 -0.4l-1.7 1.9l-1.7 4.3l-1.7 -4.5l-1.7 -0.6l-1.7 2.8l-1.7 -0.4l-1.7 0.6l-1.7 -0.7l-1.7 4.6l-1.7 -5l-1.7 -0.6l-1.7 0.8l-1.7 1.3l-1.7 1.8l-1.7 -2.4l-1.7 4.2l-1.7 -1.5l-1.7 0.8l-1.7 2.4l-1.7 -3.7l-1.7 2.6l-1.7 0.8l-1.7 -0.3l-1.7 -2.2l-1.7 0.5l-1.7 1l-1.7 -1.6l-1.7 4.8l-1.7 -1.8l-1.7 1.2l-1.7 2.5l-1.7 -1.7l-1.7 0.8l-1.7 1.4l-1.7 1l-1.7 -2l-1.7 0.3l-1.7 -0.1l-1.7 1.2l-1.7 1.5l-1.7 -2.4l-1.7 2.1l-1.7 4.5l-1.7 -4.8l-1.7 7.7l-1.7 -6.3l-1.7 0.9l-1.7 2.8l-1.7 -3.3l-1.7 1.1l-1.7 2.2l-1.7 2.4l-1.7 -2.5l-1.7 1.8l-1.7 -0.7l-1.7 3.1l-1.7 -1l-1.7 3.2l-1.7 -2.2l-1.7 -1.9l-1.7 1l-1.7 1.6l-1.7 -0.2l-1.7 -0.7l-1.7 2.5l-1.7 1.5l-1.7 1.6l-1.7 0.7l-1.7 -2.8l-1.7 4.8l-1.7 -2.4l-1.7 0.9l-1.7 2l-1.7 -0.7l-1.7 2.4l-1.7 0.8l-1.7 -1.6l-1.7 1.4l-1.7 0.9l-1.7 0.3l-1.7 -1.3l-1.7 2.4l-1.7 0.5l-1.7 3l-1.7 -3.1l-1.7 0.7l-1.7 -0.1l-1.7 0.3l-1.7 2.1l-1.7 5.1l-1.7 -5.4l-1.7 3.2l-1.7 -0.2l-1.7 0.9l-1.7 -0.1l-1.7 5.1l-1.7 -0.9l-1.7 -2.4l-1.7 1l-1.7 -0.3l-1.7 1.4l-1.7 -0.2l-1.7 0l-1.7 0.9l-1.7 4.2l-1.7 -2l-1.7 2.6l-1.7 0.9l-1.7 -0.4l-1.7 -1.9l-1.7 1.6l-1.7 5.1l-1.7 -1.1l-1.7 0.3l-1.7 1.4l-1.7 4l-1.7 -5l-1.7 4.5l-1.7 -2.3l-1.7 0.6l-1.7 0.1l-1.7 1.3l-1.7 5.4l-1.7 -5.5l-1.7 1.4l-1.7 2.7l-1.7 3l-1.7 1.2l-1.7 -3.7l-1.7 2.5l-1.7 -0.5l-1.7 2.1l-1.7 1.9l-1.7 -0.6l-1.7 0.6l-1.7 0.7l-1.7 0.6l-1.7 3.5l-1.7 -2.6l-1.7 0.7l-1.7 0.4l-1.7 1l-1.7 2.6l-1.7 0.2l-1.7 3.5l-1.7 -0.1l-1.7 -1.5l-1.7 3.7l-1.7 0.1l-1.7 -1.9l-1.7 1.2l-1.7 1.1l-1.7 5.6l-1.7 -4.6l-1.7 0l-1.7 3.4l-1.7 -1.2l-1.7 1.6l-1.7 1.4l-1.7 4.2l-1.7 -1.9l-1.7 0.2l-1.7 2.4l-1.7 0.5l-1.7 -1.3l-1.7 6.1l-1.7 -3.6l-1.7 2.4l-1.7 2.8l-1.7 -1.6l-1.7 5.3l-1.7 -4.2l-1.7 0.3l-1.7 3l-1.7 -1.8l-1.7 5l-1.7 -2.7l-1.7 2.1l-1.7 -1l-1.7 1.1l-1.7 1.5l-1.7 1.3l-1.7 1.4l-1.7 1.3l-1.7 1.8l-1.7 -2.3l-1.7 3.8l-1.7 -1.3l-1.7 2.8l-1.7 0.9l-1.7 -1.6l-1.7 4l-1.7 -0.8l-1.7 0.8l-1.7 -1.8l-1.7 3.3l-1.7 -0.8l-1.7 3.4l-1.7 1.7l-1.7 -0.6l-1.7 0l-1.7 1.8l-1.7 2.3l-1.7 -1.9l-1.7 0.5l-1.7 0.9l-1.7 0.7l-1.7 5l-1.7 -3.4l-1.7 2l-1.7 -1.6l-1.7 1.4l-1.7 2.9l-1.7 0l-1.7 2.5l-1.7 0.5l-1.7 0.9l-1.7 -0.2l-1.7 1.2l-1.7 -0.2l-1.7 6.1l-1.7 -4.8l-1.7 4.5l-1.7 2.4l-1.7 -3.2l-1.7 1.9l-1.7 1.8l-1.7 -0.2l-1.7 1.5z"/>
<path stroke="#8e3636" stroke-width="3.6" stroke-opacity=".9" d="M131.5 1085.6l0 -54.5l0.7 0l1 -0.4l1 -0.4l1 -0.4l1 -0.4l1 -0.4l1 -0.4l1 -0.4l1 -0.4l1 -0.4l1 -0.4l1 -0.4l1 -0.5l1 -0.4l1 -0.4l1 -0.5l1 -0.4l1 -0.4l1 -0.5l1 -0.4l1 -0.5l1 -0.4l1 -0.5l1 -0.4l1 -0.5l1 -0.4l1 -0.5l1 -0.4l1 -0.5l1 -0.5l1 -0.4l1 -0.5l1 -0.5l1 -0.5l1 -0.4l1 -0.5l1 -0.5l1 -0.5l1 -0.5l1 -0.5l1 -0.5l1 -0.4l1 -0.5l1 -0.5l1 -0.5l1 -0.5l1 -0.5l1 -0.5l1 -0.5l1 -0.5l1 -0.6l1 -0.5l1 -0.5l1 -0.5l1 -0.5l1 -0.5l1 -0.5l1 -0.6l1 -0.5l1 -0.5l1 -0.5l1 -0.5l1 -0.6l1 -0.5l1 -0.5l1 -0.5l1 -0.6l1 -0.5l1 -0.5l1 -0.6l1 -0.5l1 -0.5l1 -0.6l1 -0.5l1 -0.5l1 -0.6l1 -0.5l1 -0.6l1 -0.5l1 -0.5l1 -0.6l1 -0.5l1 -0.6l1 -0.5l1 -0.5l1 -0.6l1 -0.5l1 -0.6l1 -0.5l1 -0.6l1 -0.5l1 -0.6l1 -0.5l1 -0.6l1 -0.5l1 -0.5l1 -0.6l1 -0.5l1 -0.6l1 -0.5l1 -0.6l1 -0.5l1 -0.6l1 -0.5l1 -0.6l1 -0.5l1 -0.6l1 -0.5l1 -0.6l1 -0.5l1 -0.5l1 -0.6l1 -0.5l1 -0.6l1 -0.5l1 -0.6l1 -0.5l1 -0.6l1 -0.5l1 -0.5l1 -0.6l1 -0.5l1 -0.6l1 -0.5l1 -0.5l1 -0.6l1 -0.5l1 -0.5l1 -0.6l1 -0.5l1 -0.5l1 -0.6l1 -0.5l1 -0.5l1 -0.6l1 -0.5l1 -0.5l1 -0.5l1 -0.6l1 -0.5l1 -0.5l1 -0.5l1 -0.5l1 -0.5l1 -0.6l1 -0.5l1 -0.5l1 -0.5l1 -0.5l1 -0.5l1 -0.5l1 -0.5l1 -0.5l1 -0.5l1 -0.5l1 -0.5l1 -0.5l1 -0.5l1 -0.5l1 -0.5l1 -0.5l1 -0.5l1 -0.5l1 -0.4l1 -0.5l1 -0.5l1 -0.5l1 -0.4l1 -0.5l1 -0.5l1 -0.5l1 -0.4l1 -0.5l1 -0.4l1 -0.5l1 -0.5l1 -0.4l1 -0.5l1 -0.4l1 -0.5l1 -0.4l1 -0.5l1 -0.4l1 -0.4l1 -0.5l1 -0.4l1 -0.5l1 -0.4l1 -0.4l1 -0.5l1 -0.4l1 -0.4l1 -0.4l1 -0.5l1 -0.4l1 -0.4l1 -0.4l1 -0.4l1 -0.5l1 -0.4l1 -0.4l1 -0.4l1 -0.4l1 -0.4l1 -0.4l1 -0.4l1 -0.5l1 -0.4l1 -0.4l1 -0.4l1 -0.4l1 -0.4l1 -0.4l1 -0.4l1 -0.4l1 -0.4l1 -0.4l1 -0.3l1 -0.4l1 -0.4l1 -0.4l1 -0.4l1 -0.4l1 -0.4l1 -0.4l1 -0.4l1 -0.4l1 -0.3l1 -0.4l1 -0.4l1 -0.4l1 -0.4l1 -0.4l1 -0.3l1 -0.4l1 -0.4l1 -0.4l1 -0.4l1 -0.3l1 -0.4l1 -0.4l1 -0.4l1 -0.3l1 -0.4l1 -0.4l1 -0.4l1 -0.3l1 -0.4l1 -0.4l1 -0.4l1 -0.3l1 -0.4l1 -0.4l1 -0.4l1 -0.3l1 -0.4l1 -0.4l1 -0.4l1 -0.3l1 -0.4l1 -0.4l1 -0.3l1 -0.4l1 -0.4l1 -0.3l1 -0.4l1 -0.4l1 -0.3l1 -0.4l1 -0.4l1 -0.3l1 -0.4l1 -0.4l1 -0.3l1 -0.4l1 -0.4l1 -0.3l1 -0.4l1 -0.3l1 -0.4l1 -0.3l1 -0.4l1 -0.4l1 -0.3l1 -0.4l1 -0.3l1 -0.4l1 -0.3l1 -0.4l1 -0.3l1 -0.3l1 -0.4l1 -0.3l1 -0.4l1 -0.3l1 -0.4l1 -0.3l1 -0.3l1 -0.4l1 -0.3l1 -0.3l1 -0.3l1 -0.4l1 -0.3l1 -0.3l1 -0.3l1 -0.4l1 -0.3l1 -0.3l1 -0.3l1 -0.3l1 -0.3l1 -0.4l1 -0.3l1 -0.3l1 -0.3l1 -0.3l1 -0.3l1 -0.3l1 -0.3l1 -0.3l1 -0.2l1 -0.3l1 -0.3l1 -0.3l1 -0.3l1 -0.3l1 -0.2l1 -0.3l1 -0.3l1 -0.3l1 -0.2l1 -0.3l1 -0.3l1 -0.2l1 -0.3l1 -0.2l1 -0.3l1 -0.2l1 -0.3l1 -0.2l1 -0.3l1 -0.2l1 -0.3l1 -0.2l1 -0.2l1 -0.3l1 -0.2l1 -0.2l1 -0.3l1 -0.2l1 -0.2l1 -0.2l1 -0.3l1 -0.2l1 -0.2l1 -0.2l1 -0.2l1 -0.2l1 -0.2l1 -0.2l1 -0.2l1 -0.2l1 -0.2l1 -0.2l1 -0.2l1 -0.2l1 -0.2l1 -0.2l1 -0.2l1 -0.2l1 -0.2l1 -0.2l1 -0.1l1 -0.2l1 -0.2l1 -0.2l1 -0.2l1 -0.1l1 -0.2l1 -0.2l1 -0.2l1 -0.1l1 -0.2l1 -0.2l1 -0.1l1 -0.2l1 -0.2l1 -0.1l1 -0.2l1 -0.1l1 -0.2l1 -0.2l1 -0.1l1 -0.2l1 -0.1l1 -0.2l1 -0.1l1 -0.2l1 -0.1l1 -0.2l1 -0.1l1 -0.2l1 -0.1l1 -0.1l1 -0.2l1 -0.1l1 -0.2l1 -0.1l1 -0.1l1 -0.2l1 -0.1l1 -0.2l1 -0.1l1 -0.1l1 -0.2l1 -0.1l1 -0.1l1 -0.1l1 -0.2l1 -0.1l1 -0.1l1 -0.2l1 -0.1l1 -0.1l1 -0.1l1 -0.1l1 -0.2l1 -0.1l1 -0.1l1 -0.1l1 -0.2l1 -0.1l1 -0.1l1 -0.1l1 -0.1l1 -0.1l1 -0.2l1 -0.1l1 -0.1l1 -0.1l1 -0.1l1 -0.1l1 -0.1l1 -0.2l1 -0.1l1 -0.1l1 -0.1l1 -0.1l1 -0.1l1 -0.1l1 -0.1l1 -0.2l1 -0.1l1 -0.1l1 -0.1l1 -0.1l1 -0.1l1 -0.1l1 -0.1l1 -0.1l1 -0.1l1 -0.2l1 -0.1l1 -0.1l1 -0.1l1 -0.1l1 -0.1l1 -0.1l1 -0.1l1 -0.2l1 -0.1l1 -0.1l1 -0.1l1 -0.1l1 -0.1l1 -0.2l1 -0.1l1 -0.1l1 -0.1l1 -0.2l1 -0.1l1 -0.1l1 -0.1l1 -0.2l1 -0.1l1 -0.2l1 -0.1l1 -0.1l1 -0.2l1 -0.1l1 -0.2l1 -0.1l1 -0.2l1 -0.2l1 -0.1l1 -0.2l1 -0.2l1 -0.2l1 -0.2l1 -0.2l1 -0.2l1 -0.2l1 -0.3l1 -0.2l1 -0.3l1 -0.2l1 -0.3l1 -0.3l1 -0.4l1 -0.3l1 -0.4l1 -0.4l1 -0.4l1 -0.5l1 -0.6l1 -0.6l1 -0.6l1 -0.8l1 -0.8l1 -1l1 -1.1l1 -1.2l1 -1.5l1 -1.6l1 -1.9l1 -2.2l1 -2.4l1 -2.8l1 -3.2l1 -3.5l1 -4l1 -4.4l1 -4.9l1 -5.4l1 -5.8l1 -6.2l1 -6.5l1 -6.6l1 -6.4l1 -5.9l1 -4.9l1 -3.3l1 -1.5l1 0.5l1 2.5l1 4.2l1 5.4l1 6.1l1 6.5l1 6.4l1 6.2l1 5.9l1 5.4l1 4.9l1 4.5l1 4l1 3.6l1 3.2l1 2.8l1 2.5l1 2.1l1 1.9l1 1.6l1 1.4l1 1.2l1 1l1 0.9l1 0.7l1 0.7l1 0.6l1 0.4l1 0.5l1 0.3l1 0.4l1 0.3l1 0.2l1 0.2l1 0.2l1 0.2l1 0.2l1 0.1l1 0.2l1 0.1l1 0.1l1 0.1l1 0.1l1 0l1 0.1l1 0.1l1 0l1 0.1l1 0l1 0l1 0.1l1 0l1 0l1 0l1 0.1l1 0l1 0l1 0l1 0l1 0l1 0l1 0l1 0l1 0l1 0l1 -0.1l1 0l1 0l1 0l1 0l1 0l1 -0.1l1 0l1 0l1 0l1 0l1 -0.1l1 0l1 0l1 0l1 -0.1l1 0l1 0l1 0l1 -0.1l1 0l1 0l1 -0.1l1 0l1 0l1 -0.1l1 0l1 0l1 -0.1l1 0l1 0l1 -0.1l1 0l1 0l1 -0.1l1 0l1 0l1 -0.1l1 0l1 0l1 -0.1l1 0l1 0l1 -0.1l1 0l1 0l1 -0.1l1 0l1 0l1 -0.1l1 0l1 0l1 -0.1l1 0l1 0l1 -0.1l1 0l1 0l1 -0.1l1 0l1 0l1 -0.1l1 0l1 0l1 -0.1l1 0l1 0l1 -0.1l1 0l1 0l1 -0.1l1 0l1 0l1 -0.1l1 0l1 0l1 -0.1l1 0l1 0l1 -0.1l1 0l1 0l1 -0.1l1 0l1 0l1 -0.1l1 0l1 0l1 -0.1l1 0l1 0l1 -0.1l1 0l1 0l1 -0.1l1 0l1 0l1 -0.1l1 0l1 0l1 -0.1l1 0l1 0l1 0l1 -0.1l1 0l1 0l1 -0.1l1 0l1 0l1 -0.1l1 0l1 0l1 0l1 -0.1l1 0l1 0l1 -0.1l1 0l1 0l1 0l1 -0.1l1 0l1 0l1 -0.1l1 0l1 0l1 0l1 -0.1l1 0l1 0l1 0l1 -0.1l1 0l1 0l1 -0.1l1 0l1 0l1 0l1 -0.1l1 0l1 0l1 0l1 -0.1l1 0l1 0l1 0l1 -0.1l1 0l1 0l1 0l1 -0.1l1 0l1 0l1 0l1 -0.1l1 0l1 0l1 0l1 -0.1l1 0l1 0l1 0l1 -0.1l1 0l1 0l1 0l1 0l1 -0.1l1 0l1 0l1 0l1 -0.1l1 0l1 0l1 0l1 0l1 -0.1l1 0l1 0l1 0l1 -0.1l1 0l1 0l1 0l1 0l1 -0.1l1 0l1 0l1 0l1 0l1 -0.1l1 0l1 0l1 0l1 0l1 -0.1l1 0l1 0l1 0l1 0l1 -0.1l1 0l1 0l1 0l1 0l1 -0.1l1 0l1 0l1 0l1 0l1 0l1 -0.1l1 0l1 0l1 0l1 0l1 -0.1l1 0l1 0l1 0l1 0l1 0l1 -0.1l1 0l1 0l1 0l1 0l1 0l1 -0.1l1 0l1 0l1 0l1 0l1 0l1 -0.1l1 0l1 0l1 0l1 0l1 0l1 -0.1l1 0l1 0l1 0l1 0l1 0l1 -0.1l1 0l1 0l1 0l1 0l1 0l1 0l1 -0.1l1 0l1 0l1 0l1 0l1 0l1 -0.1l1 0l1 0l1 0l1 0l1 0l1 0l1 -0.1l1 0l1 0l1 0l1 0l1 0l1 -0.1l1 0l1 0l1 0l1 0l1 0l1 -0.1l1 0l1 0l1 0l1 0l1 -0.1l1 0l1 0l1 0l1 -0.1l1 0l1 0l1 0l1 -0.1l1 0l1 -0.1l1 0l1 -0.1l1 0l1 -0.1l1 -0.1l1 -0.1l1 -0.1l1 -0.1l1 -0.2l1 -0.2l1 -0.2l1 -0.4l1 -0.4l1 -0.5l1 -0.7l1 -0.9l1 -0.8l1 -0.6l1 -0.2l1 0.4l1 0.7l1 0.8l1 0.8l1 0.6l1 0.4l1 0.4l1 0.3l1 0.2l1 0.1l1 0.2l1 0.1l1 0l1 0.1l1 0.1l1 0l1 0l1 0l1 0.1l1 0l1 0l1 0l1 0l1 0l1 0l1 -0.1l1 0l1 0l1 0l1 0l1 -0.1l1 0l1 0l1 -0.1l1 0l1 0l1 -0.1l1 -0.1l1 0l1 -0.1l1 -0.1l1 -0.1l1 -0.1l1 -0.1l1 -0.1l1 -0.1l1 -0.2l1 -0.1l1 -0.1l1 -0.1l1 0l1 0l1 0l1 0l1 0.1l1 0.1l1 0.1l1 0.1l1 0.1l1 0.1l1 0.1l1 0.1l1 0.1l1 0l1 0.1l1 0l1 0.1l1 0l1 0.1l1 0l1 0l1 0l1 0l1 0l1 0l1 0l1 0l1 0l1 0l1 0l1 0l1 0l1 0l1 0l1 -0.1l1 0l1 0l1 -0.1l1 -0.1l1 0l1 -0.1l1 -0.1l1 -0.1l1 -0.2l1 -0.2l1 -0.2l1 -0.2l1 -0.3l1 -0.2l1 -0.2l1 0l1 0.1l1 0.2l1 0.2l1 0.2l1 0.2l1 0.2l1 0.2l1 0.1l1 0.1l1 0.1l1 0.1l1 0l1 0.1l1 0l1 0l1 0l1 0.1l1 0l1 0l1 0l1 0l1 0l1 0l1 0l1 0l1 0l1 0l1 -0.1l1 0l1 0l1 0l1 0l1 0l1 0l1 -0.1l1 0l1 0l1 0l1 -0.1l1 0l1 0l1 0l1 -0.1l1 0l1 -0.1l1 0l1 0l1 -0.1l1 -0.1l1 0l1 -0.1l1 -0.1l1 0l1 -0.1l1 -0.1l1 -0.2l1 -0.1l1 -0.2l1 -0.2l1 -0.2l1 -0.3l1 -0.3l1 -0.4l1 -0.5l1 -0.6l1 -0.8l1 -0.8l1 -1.1l1 -1.1l1 -1l1 -0.7l1 -0.2l1 0.3l1 0.8l1 0.9l1 1l1 0.9l1 0.7l1 0.6l1 0.4l1 0.3l1 0.2l1 0.2l1 0.1l1 0l1 0l1 -0.1l1 -0.1l1 -0.1l1 -0.3l1 -0.3l1 -0.4l1 -0.5l1 -0.7l1 -0.9l1 -1.2l1 -1.5l1 -2.1l1 -2.4l1 -2.3l1 -1.5l1 0.1l1 1.6l1 2l1 1.8l1 1.4l1 0.9l1 0.6l1 0.2l1 0l1 -0.2l1 -0.4l1 -0.5l1 -0.8l1 -1l1 -1.2l1 -1.5l1 -1.8l1 -2.4l1 -2.9l1 -3.7l1 -4.8l1 -6.4l1 -8.6l1 -12l1 -17.1l1 -25.5l1 -39.1l1 -61.4l1 -92.6l1 -113l1 -60l1 59.6l1 112.6l1 92.2l1 60.7l1 38.5l1 24.6l1 16l1 10.5l1 6.7l1 4.4l1 3.2l1 3.2l1 4l1 4.2l1 4l1 3.2l1 2.6l1 2.1l1 1.7l1 1.3l1 1.1l1 0.9l1 0.7l1 0.6l1 0.5l1 0.4l1 0.4l1 0.2l1 0.2l1 0.1l1 0.1l1 0l1 -0.2l1 -0.2l1 -0.4l1 -0.5l1 -0.7l1 -0.8l1 -0.9l1 -0.8l1 -0.4l1 0.2l1 0.8l1 1l1 1.2l1 1l1 0.8l1 0.7l1 0.5l1 0.5l1 0.3l1 0.3l1 0.3l1 0.2l1 0.1l1 0.2l1 0.1l1 0.1l1 0.1l1 0.1l1 0.1l1 0l1 0.1l1 0l1 0.1l1 0l1 0.1l1 0l1 0l1 0.1l1 0l1 0l1 0l1 0l1 0.1l1 0l1 0l1 0l1 0l1 0l1 0l1 0l1 0l1 0l1 0l1 0l1 0l1 0l1 0l1 0l1 0l1 0l1 0l1 0l1 0l1 0l1 0l1 0l1 0l1 0l1 0l1 0l1 0l1 -0.1l1 0l1 0l1 0l1 0l1 0l1 -0.1l1 0l1 0l1 0l1 -0.1l1 0l1 0l1 -0.1l1 0l1 -0.1l1 0l1 -0.1l1 -0.1l1 -0.1l1 -0.1l1 -0.2l1 -0.2l1 -0.2l1 -0.3l1 -0.4l1 -0.4l1 -0.4l1 -0.4l1 -0.3l1 0l1 0.2l1 0.3l1 0.3l1 0.3l1 0.1l1 0.1l1 0l1 -0.2l1 -0.2l1 -0.4l1 -0.5l1 -0.6l1 -0.7l1 -0.5l1 -0.1l1 0.3l1 0.7l1 0.7l1 0.6l1 0.5l1 0.4l1 0.4l1 0.2l1 0.2l1 0.1l1 0.1l1 0.1l1 0.1l1 0l1 0.1l1 0l1 0l1 0.1l1 0l1 0l1 0l1 0l1 0l1 0l1 0l1 0l1 0l1 0l1 0l1 -0.1l1 0l1 0l1 0l1 0"/>
<path stroke="#2f663a" stroke-width="3.2" stroke-opacity=".9" d="M131.5 1085.1l0 -88.4l0.7 0l1 -0.5l1 -0.5l1 -0.6l1 -0.5l1 -0.6l1 -0.5l1 -0.6l1 -0.5l1 -0.5l1 -0.6l1 -0.5l1 -0.6l1 -0.5l1 -0.5l1 -0.6l1 -0.5l1 -0.6l1 -0.5l1 -0.5l1 -0.6l1 -0.5l1 -0.6l1 -0.5l1 -0.5l1 -0.6l1 -0.5l1 -0.6l1 -0.5l1 -0.5l1 -0.6l1 -0.5l1 -0.5l1 -0.6l1 -0.5l1 -0.5l1 -0.6l1 -0.5l1 -0.5l1 -0.6l1 -0.5l1 -0.5l1 -0.6l1 -0.5l1 -0.5l1 -0.6l1 -0.5l1 -0.5l1 -0.6l1 -0.5l1 -0.5l1 -0.6l1 -0.5l1 -0.5l1 -0.5l1 -0.6l1 -0.5l1 -0.5l1 -0.6l1 -0.5l1 -0.5l1 -0.5l1 -0.6l1 -0.5l1 -0.5l1 -0.5l1 -0.5l1 -0.6l1 -0.5l1 -0.5l1 -0.5l1 -0.6l1 -0.5l1 -0.5l1 -0.5l1 -0.5l1 -0.6l1 -0.5l1 -0.5l1 -0.5l1 -0.5l1 -0.5l1 -0.6l1 -0.5l1 -0.5l1 -0.5l1 -0.5l1 -0.5l1 -0.5l1 -0.5l1 -0.5l1 -0.6l1 -0.5l1 -0.5l1 -0.5l1 -0.5l1 -0.5l1 -0.5l1 -0.5l1 -0.5l1 -0.5l1 -0.5l1 -0.5l1 -0.5l1 -0.5l1 -0.5l1 -0.5l1 -0.5l1 -0.5l1 -0.5l1 -0.5l1 -0.5l1 -0.5l1 -0.5l1 -0.5l1 -0.5l1 -0.5l1 -0.5l1 -0.5l1 -0.5l1 -0.5l1 -0.5l1 -0.4l1 -0.5l1 -0.5l1 -0.5l1 -0.5l1 -0.5l1 -0.5l1 -0.4l1 -0.5l1 -0.5l1 -0.5l1 -0.5l1 -0.5l1 -0.4l1 -0.5l1 -0.5l1 -0.5l1 -0.5l1 -0.4l1 -0.5l1 -0.5l1 -0.5l1 -0.4l1 -0.5l1 -0.5l1 -0.5l1 -0.4l1 -0.5l1 -0.5l1 -0.4l1 -0.5l1 -0.5l1 -0.5l1 -0.5l1 -0.4l1 -0.5l1 -0.5l1 -0.6l1 -0.5l1 -0.5l1 -0.6l1 -0.7l1 -0.8l1 -0.9l1 -1l1 -1.1l1 -0.6l1 0l1 0.1l1 0.1l1 0l1 -0.2l1 -0.3l1 -0.3l1 -0.3l1 -0.4l1 -0.4l1 -0.4l1 -0.4l1 -0.4l1 -0.4l1 -0.4l1 -0.5l1 -0.4l1 -0.4l1 -0.4l1 -0.5l1 -0.4l1 -0.4l1 -0.4l1 -0.4l1 -0.5l1 -0.4l1 -0.4l1 -0.4l1 -0.4l1 -0.5l1 -0.4l1 -0.4l1 -0.4l1 -0.4l1 -0.4l1 -0.4l1 -0.4l1 -0.5l1 -0.4l1 -0.4l1 -0.4l1 -0.4l1 -0.4l1 -0.4l1 -0.4l1 -0.4l1 -0.4l1 -0.4l1 -0.4l1 -0.4l1 -0.4l1 -0.4l1 -0.4l1 -0.4l1 -0.4l1 -0.5l1 -0.4l1 -0.4l1 -0.4l1 -0.4l1 -0.4l1 -0.4l1 -0.5l1 -0.4l1 -0.4l1 -0.5l1 -0.5l1 -0.5l1 -0.5l1 -0.6l1 -0.6l1 -0.7l1 -0.8l1 -1l1 -1.3l1 -1.6l1 -2.4l1 -3.4l1 -5.2l1 -6.8l1 -5.4l1 1.1l1 5.9l1 5.6l1 3.7l1 2.3l1 1.3l1 0.8l1 0.4l1 0.2l1 0.1l1 0l1 -0.1l1 -0.2l1 -0.2l1 -0.2l1 -0.2l1 -0.3l1 -0.2l1 -0.3l1 -0.3l1 -0.2l1 -0.3l1 -0.3l1 -0.3l1 -0.3l1 -0.3l1 -0.3l1 -0.3l1 -0.3l1 -0.3l1 -0.3l1 -0.3l1 -0.3l1 -0.3l1 -0.2l1 -0.3l1 -0.3l1 -0.3l1 -0.3l1 -0.3l1 -0.3l1 -0.3l1 -0.3l1 -0.3l1 -0.3l1 -0.2l1 -0.3l1 -0.3l1 -0.3l1 -0.3l1 -0.3l1 -0.2l1 -0.3l1 -0.3l1 -0.3l1 -0.3l1 -0.2l1 -0.3l1 -0.3l1 -0.2l1 -0.3l1 -0.3l1 -0.3l1 -0.2l1 -0.3l1 -0.3l1 -0.2l1 -0.3l1 -0.2l1 -0.3l1 -0.3l1 -0.2l1 -0.3l1 -0.2l1 -0.3l1 -0.2l1 -0.3l1 -0.2l1 -0.3l1 -0.2l1 -0.3l1 -0.2l1 -0.3l1 -0.2l1 -0.3l1 -0.2l1 -0.3l1 -0.2l1 -0.2l1 -0.3l1 -0.2l1 -0.2l1 -0.3l1 -0.2l1 -0.3l1 -0.2l1 -0.2l1 -0.2l1 -0.3l1 -0.2l1 -0.2l1 -0.3l1 -0.2l1 -0.2l1 -0.2l1 -0.3l1 -0.2l1 -0.2l1 -0.2l1 -0.2l1 -0.2l1 -0.3l1 -0.2l1 -0.2l1 -0.2l1 -0.2l1 -0.2l1 -0.2l1 -0.2l1 -0.3l1 -0.2l1 -0.2l1 -0.2l1 -0.2l1 -0.2l1 -0.2l1 -0.2l1 -0.2l1 -0.2l1 -0.2l1 -0.2l1 -0.2l1 -0.2l1 -0.2l1 -0.2l1 -0.2l1 -0.2l1 -0.1l1 -0.2l1 -0.2l1 -0.2l1 -0.2l1 -0.2l1 -0.2l1 -0.2l1 -0.2l1 -0.1l1 -0.2l1 -0.2l1 -0.2l1 -0.2l1 -0.1l1 -0.2l1 -0.2l1 -0.2l1 -0.2l1 -0.1l1 -0.2l1 -0.2l1 -0.2l1 -0.1l1 -0.2l1 -0.2l1 -0.2l1 -0.1l1 -0.2l1 -0.2l1 -0.1l1 -0.2l1 -0.2l1 -0.1l1 -0.2l1 -0.2l1 -0.1l1 -0.2l1 -0.2l1 -0.1l1 -0.2l1 -0.1l1 -0.2l1 -0.2l1 -0.1l1 -0.2l1 -0.1l1 -0.2l1 -0.2l1 -0.1l1 -0.2l1 -0.1l1 -0.2l1 -0.1l1 -0.2l1 -0.1l1 -0.2l1 -0.1l1 -0.2l1 -0.2l1 -0.1l1 -0.2l1 -0.1l1 -0.2l1 -0.1l1 -0.2l1 -0.1l1 -0.2l1 -0.1l1 -0.2l1 -0.1l1 -0.2l1 -0.1l1 -0.2l1 -0.1l1 -0.2l1 -0.1l1 -0.2l1 -0.1l1 -0.2l1 -0.1l1 -0.2l1 -0.1l1 -0.2l1 -0.1l1 -0.2l1 -0.2l1 -0.1l1 -0.2l1 -0.1l1 -0.2l1 -0.1l1 -0.2l1 -0.2l1 -0.1l1 -0.2l1 -0.2l1 -0.1l1 -0.2l1 -0.2l1 -0.2l1 -0.1l1 -0.2l1 -0.2l1 -0.2l1 -0.2l1 -0.2l1 -0.2l1 -0.2l1 -0.2l1 -0.2l1 -0.3l1 -0.2l1 -0.2l1 -0.3l1 -0.2l1 -0.3l1 -0.3l1 -0.3l1 -0.3l1 -0.3l1 -0.3l1 -0.4l1 -0.4l1 -0.4l1 -0.5l1 -0.4l1 -0.6l1 -0.5l1 -0.7l1 -0.7l1 -0.8l1 -0.9l1 -1l1 -1.2l1 -1.3l1 -1.5l1 -1.8l1 -1.9l1 -2.3l1 -2.6l1 -2.9l1 -3.3l1 -3.8l1 -4.1l1 -4.7l1 -5.1l1 -5.6l1 -6.1l1 -6.4l1 -6.8l1 -6.9l1 -6.7l1 -6.2l1 -5l1 -3.5l1 -1.6l1 0.5l1 2.7l1 4.3l1 5.6l1 6.4l1 6.7l1 6.6l1 6.5l1 6.1l1 5.6l1 5.2l1 4.6l1 4.2l1 3.7l1 3.3l1 2.9l1 2.6l1 2.2l1 1.9l1 1.7l1 1.4l1 1.3l1 1l1 0.9l1 0.8l1 0.7l1 0.6l1 0.5l1 0.4l1 0.4l1 0.3l1 0.3l1 0.3l1 0.2l1 0.2l1 0.2l1 0.2l1 0.1l1 0.1l1 0.1l1 0.1l1 0.1l1 0.1l1 0.1l1 0.1l1 0l1 0.1l1 0l1 0.1l1 0l1 0l1 0l1 0.1l1 0l1 0l1 0l1 0l1 0l1 0l1 0l1 0l1 0l1 0l1 0l1 0l1 0l1 0l1 -0.1l1 0l1 0l1 0l1 0l1 0l1 -0.1l1 0l1 0l1 0l1 -0.1l1 0l1 0l1 0l1 -0.1l1 0l1 0l1 0l1 -0.1l1 0l1 0l1 -0.1l1 0l1 0l1 0l1 -0.1l1 0l1 0l1 -0.1l1 0l1 0l1 0l1 -0.1l1 0l1 0l1 -0.1l1 0l1 0l1 0l1 -0.1l1 0l1 0l1 -0.1l1 0l1 0l1 -0.1l1 0l1 0l1 0l1 -0.1l1 0l1 0l1 -0.1l1 0l1 0l1 0l1 -0.1l1 0l1 0l1 0l1 -0.1l1 0l1 0l1 -0.1l1 0l1 0l1 0l1 -0.1l1 0l1 0l1 0l1 -0.1l1 0l1 0l1 0l1 -0.1l1 0l1 0l1 0l1 0l1 -0.1l1 0l1 0l1 0l1 -0.1l1 0l1 0l1 0l1 0l1 -0.1l1 0l1 0l1 0l1 -0.1l1 0l1 0l1 0l1 0l1 -0.1l1 0l1 0l1 0l1 0l1 0l1 -0.1l1 0l1 0l1 0l1 0l1 -0.1l1 0l1 0l1 0l1 0l1 0l1 -0.1l1 0l1 0l1 0l1 0l1 0l1 -0.1l1 0l1 0l1 0l1 0l1 0l1 0l1 -0.1l1 0l1 0l1 0l1 0l1 0l1 0l1 0l1 -0.1l1 0l1 0l1 0l1 0l1 0l1 0l1 0l1 -0.1l1 0l1 0l1 0l1 0l1 0l1 0l1 0l1 0l1 -0.1l1 0l1 0l1 0l1 0l1 0l1 0l1 0l1 0l1 0l1 0l1 -0.1l1 0l1 0l1 0l1 0l1 0l1 0l1 0l1 0l1 0l1 0l1 0l1 -0.1l1 0l1 0l1 0l1 0l1 0l1 0l1 0l1 0l1 0l1 0l1 0l1 0l1 0l1 0l1 0l1 -0.1l1 0l1 0l1 0l1 0l1 0l1 0l1 0l1 0l1 0l1 0l1 0l1 0l1 0l1 0l1 0l1 0l1 0l1 0l1 0l1 0l1 0l1 -0.1l1 0l1 0l1 0l1 0l1 0l1 0l1 0l1 0l1 0l1 0l1 0l1 0l1 0l1 0l1 0l1 0l1 0l1 0l1 0l1 0l1 0l1 0l1 0l1 0l1 0l1 0l1 0l1 -0.1l1 0l1 0l1 0l1 0l1 0l1 0l1 0l1 0l1 0l1 0l1 0l1 0l1 0l1 0l1 0l1 0l1 0l1 0l1 0l1 0l1 0l1 0l1 0l1 -0.1l1 0l1 0l1 0l1 0l1 0l1 0l1 0l1 0l1 0l1 0l1 0l1 0l1 -0.1l1 0l1 0l1 0l1 0l1 0l1 0l1 -0.1l1 0l1 0l1 0l1 -0.1l1 0l1 0l1 -0.1l1 0l1 -0.1l1 0l1 -0.1l1 -0.1l1 -0.1l1 -0.2l1 -0.2l1 -0.2l1 -0.3l1 -0.3l1 -0.5l1 -0.6l1 -0.7l1 -0.9l1 -1l1 -0.7l1 -0.2l1 0.4l1 0.9l1 0.9l1 0.8l1 0.7l1 0.5l1 0.4l1 0.3l1 0.3l1 0.2l1 0.1l1 0.1l1 0.1l1 0.1l1 0l1 0.1l1 0l1 0.1l1 0l1 0l1 0l1 0l1 0l1 0l1 0l1 0l1 0l1 0l1 -0.1l1 0l1 0l1 0l1 -0.1l1 0l1 -0.1l1 0l1 -0.1l1 0l1 -0.1l1 -0.1l1 -0.1l1 -0.1l1 -0.1l1 -0.1l1 -0.1l1 -0.2l1 -0.1l1 -0.1l1 -0.2l1 -0.1l1 0l1 0l1 0l1 0l1 0.1l1 0.1l1 0.1l1 0.2l1 0.1l1 0.1l1 0.1l1 0.1l1 0.1l1 0l1 0.1l1 0.1l1 0l1 0l1 0.1l1 0l1 0l1 0l1 0.1l1 0l1 0l1 0l1 0l1 0l1 0l1 -0.1l1 0l1 0l1 0l1 0l1 -0.1l1 0l1 -0.1l1 0l1 -0.1l1 -0.1l1 -0.1l1 -0.1l1 -0.1l1 -0.2l1 -0.2l1 -0.3l1 -0.2l1 -0.3l1 -0.3l1 -0.1l1 -0.1l1 0.1l1 0.2l1 0.2l1 0.3l1 0.2l1 0.2l1 0.2l1 0.1l1 0.2l1 0.1l1 0l1 0.1l1 0l1 0.1l1 0l1 0l1 0l1 0l1 0l1 0l1 0l1 0l1 0l1 0l1 0l1 0l1 0l1 0l1 -0.1l1 0l1 0l1 0l1 0l1 -0.1l1 0l1 0l1 0l1 -0.1l1 0l1 0l1 -0.1l1 0l1 -0.1l1 0l1 0l1 -0.1l1 -0.1l1 0l1 -0.1l1 -0.1l1 0l1 -0.1l1 -0.1l1 -0.1l1 -0.2l1 -0.1l1 -0.2l1 -0.2l1 -0.2l1 -0.2l1 -0.3l1 -0.4l1 -0.5l1 -0.5l1 -0.7l1 -0.8l1 -1l1 -1.1l1 -1.3l1 -1.1l1 -0.8l1 -0.3l1 0.4l1 0.9l1 1l1 1.1l1 1l1 0.8l1 0.6l1 0.5l1 0.3l1 0.3l1 0.2l1 0.1l1 0l1 0l1 -0.1l1 -0.1l1 -0.2l1 -0.3l1 -0.3l1 -0.4l1 -0.6l1 -0.8l1 -1l1 -1.3l1 -1.7l1 -2.2l1 -2.7l1 -2.6l1 -1.7l1 0.2l1 1.7l1 2.3l1 2.1l1 1.5l1 1.1l1 0.6l1 0.3l1 0.1l1 -0.2l1 -0.4l1 -0.5l1 -0.8l1 -1l1 -1.2l1 -1.6l1 -1.9l1 -2.4l1 -2.9l1 -3.9l1 -4.9l1 -6.6l1 -8.8l1 -12.3l1 -17.6l1 -26.1l1 -40.2l1 -62.9l1 -95.1l1 -115.9l1 -61.6l1 61.1l1 115.5l1 94.5l1 62.4l1 39.4l1 25.2l1 16.3l1 10.6l1 6.8l1 4.3l1 3.1l1 3.3l1 4.1l1 4.6l1 4.1l1 3.5l1 2.8l1 2.2l1 1.8l1 1.4l1 1.1l1 1l1 0.7l1 0.7l1 0.5l1 0.4l1 0.4l1 0.2l1 0.2l1 0.2l1 0l1 -0.1l1 -0.1l1 -0.3l1 -0.4l1 -0.6l1 -0.8l1 -0.9l1 -1.1l1 -0.8l1 -0.5l1 0.3l1 0.8l1 1.2l1 1.2l1 1.2l1 0.9l1 0.7l1 0.6l1 0.5l1 0.4l1 0.4l1 0.2l1 0.2l1 0.2l1 0.2l1 0.1l1 0.2l1 0.1l1 0.1l1 0l1 0.1l1 0.1l1 0l1 0.1l1 0l1 0.1l1 0l1 0.1l1 0l1 0l1 0.1l1 0l1 0l1 0l1 0l1 0.1l1 0l1 0l1 0l1 0l1 0l1 0.1l1 0l1 0l1 0l1 0l1 0l1 0l1 0l1 0l1 0l1 0l1 0l1 0l1 0l1 0l1 0l1 0l1 0l1 0l1 0l1 0l1 0l1 0l1 0l1 0l1 0l1 0l1 0l1 0l1 0l1 -0.1l1 0l1 0l1 0l1 -0.1l1 0l1 -0.1l1 0l1 -0.1l1 -0.1l1 -0.1l1 -0.1l1 -0.2l1 -0.2l1 -0.2l1 -0.3l1 -0.4l1 -0.5l1 -0.5l1 -0.4l1 -0.2l1 0l1 0.2l1 0.4l1 0.3l1 0.3l1 0.2l1 0.1l1 0l1 -0.2l1 -0.2l1 -0.4l1 -0.6l1 -0.6l1 -0.8l1 -0.5l1 -0.1l1 0.4l1 0.7l1 0.8l1 0.8l1 0.6l1 0.4l1 0.4l1 0.3l1 0.2l1 0.2l1 0.1l1 0.2l1 0.1l1 0l1 0.1l1 0.1l1 0l1 0.1l1 0l1 0l1 0.1l1 0l1 0l1 0l1 0.1l1 0l1 0l1 0l1 0l1 0l1 0l1 0.1l1 0l1 0"/>
<path stroke="#54306a" stroke-width="3.6" stroke-opacity=".9" d="M131.5 1085.6l0 -119.7l0.7 0l1 -0.6l1 -0.5l1 -0.6l1 -0.6l1 -0.5l1 -0.6l1 -0.6l1 -0.5l1 -0.6l1 -0.5l1 -0.6l1 -0.6l1 -0.5l1 -0.6l1 -0.5l1 -0.6l1 -0.6l1 -0.5l1 -0.6l1 -0.5l1 -0.6l1 -0.6l1 -0.5l1 -0.6l1 -0.5l1 -0.6l1 -0.5l1 -0.6l1 -0.5l1 -0.6l1 -0.5l1 -0.6l1 -0.6l1 -0.5l1 -0.6l1 -0.5l1 -0.6l1 -0.5l1 -0.6l1 -0.5l1 -0.5l1 -0.6l1 -0.5l1 -0.6l1 -0.5l1 -0.6l1 -0.5l1 -0.6l1 -0.5l1 -0.6l1 -0.5l1 -0.5l1 -0.6l1 -0.5l1 -0.6l1 -0.5l1 -0.5l1 -0.6l1 -0.5l1 -0.6l1 -0.5l1 -0.5l1 -0.6l1 -0.5l1 -0.5l1 -0.6l1 -0.5l1 -0.5l1 -0.6l1 -0.5l1 -0.5l1 -0.6l1 -0.5l1 -0.5l1 -0.5l1 -0.6l1 -0.5l1 -0.5l1 -0.6l1 -0.5l1 -0.5l1 -0.5l1 -0.6l1 -0.5l1 -0.5l1 -0.5l1 -0.5l1 -0.6l1 -0.5l1 -0.5l1 -0.5l1 -0.5l1 -0.6l1 -0.5l1 -0.5l1 -0.5l1 -0.5l1 -0.5l1 -0.5l1 -0.5l1 -0.6l1 -0.5l1 -0.5l1 -0.5l1 -0.5l1 -0.5l1 -0.5l1 -0.5l1 -0.5l1 -0.5l1 -0.5l1 -0.5l1 -0.5l1 -0.5l1 -0.5l1 -0.5l1 -0.5l1 -0.5l1 -0.5l1 -0.5l1 -0.5l1 -0.5l1 -0.5l1 -0.5l1 -0.5l1 -0.5l1 -0.5l1 -0.5l1 -0.5l1 -0.5l1 -0.5l1 -0.4l1 -0.5l1 -0.5l1 -0.5l1 -0.5l1 -0.5l1 -0.5l1 -0.4l1 -0.5l1 -0.5l1 -0.5l1 -0.5l1 -0.4l1 -0.5l1 -0.5l1 -0.5l1 -0.5l1 -0.4l1 -0.5l1 -0.5l1 -0.5l1 -0.4l1 -0.5l1 -0.5l1 -0.5l1 -0.5l1 -0.5l1 -0.5l1 -0.5l1 -0.5l1 -0.6l1 -0.6l1 -0.7l1 -0.9l1 -1.2l1 -1.9l1 -2.8l1 -1.6l1 1.7l1 1.5l1 0.7l1 0.2l1 -0.1l1 -0.3l1 -0.3l1 -0.4l1 -0.3l1 -0.4l1 -0.5l1 -0.4l1 -0.4l1 -0.4l1 -0.4l1 -0.5l1 -0.4l1 -0.4l1 -0.5l1 -0.4l1 -0.4l1 -0.4l1 -0.5l1 -0.4l1 -0.4l1 -0.5l1 -0.4l1 -0.4l1 -0.4l1 -0.5l1 -0.4l1 -0.4l1 -0.4l1 -0.4l1 -0.5l1 -0.4l1 -0.4l1 -0.4l1 -0.4l1 -0.5l1 -0.4l1 -0.4l1 -0.4l1 -0.4l1 -0.4l1 -0.4l1 -0.4l1 -0.5l1 -0.4l1 -0.4l1 -0.4l1 -0.4l1 -0.4l1 -0.4l1 -0.4l1 -0.4l1 -0.4l1 -0.4l1 -0.4l1 -0.5l1 -0.4l1 -0.4l1 -0.4l1 -0.4l1 -0.5l1 -0.4l1 -0.5l1 -0.4l1 -0.5l1 -0.5l1 -0.5l1 -0.6l1 -0.6l1 -0.7l1 -0.9l1 -1l1 -1.4l1 -1.8l1 -2.5l1 -3.2l1 -3.1l1 -1.2l1 1.5l1 2.6l1 2.2l1 1.4l1 0.9l1 0.5l1 0.2l1 0.1l1 -0.1l1 -0.1l1 -0.2l1 -0.2l1 -0.2l1 -0.3l1 -0.2l1 -0.3l1 -0.3l1 -0.3l1 -0.3l1 -0.3l1 -0.3l1 -0.3l1 -0.4l1 -0.3l1 -0.3l1 -0.3l1 -0.3l1 -0.3l1 -0.4l1 -0.3l1 -0.3l1 -0.3l1 -0.3l1 -0.3l1 -0.4l1 -0.3l1 -0.3l1 -0.3l1 -0.3l1 -0.3l1 -0.3l1 -0.3l1 -0.3l1 -0.3l1 -0.3l1 -0.4l1 -0.3l1 -0.3l1 -0.3l1 -0.3l1 -0.3l1 -0.2l1 -0.3l1 -0.3l1 -0.3l1 -0.3l1 -0.3l1 -0.3l1 -0.3l1 -0.3l1 -0.3l1 -0.2l1 -0.3l1 -0.3l1 -0.3l1 -0.3l1 -0.3l1 -0.2l1 -0.3l1 -0.3l1 -0.3l1 -0.2l1 -0.3l1 -0.3l1 -0.2l1 -0.3l1 -0.3l1 -0.2l1 -0.3l1 -0.3l1 -0.2l1 -0.3l1 -0.2l1 -0.3l1 -0.2l1 -0.3l1 -0.2l1 -0.3l1 -0.2l1 -0.3l1 -0.2l1 -0.3l1 -0.2l1 -0.3l1 -0.2l1 -0.3l1 -0.2l1 -0.2l1 -0.3l1 -0.2l1 -0.2l1 -0.3l1 -0.2l1 -0.2l1 -0.3l1 -0.2l1 -0.2l1 -0.2l1 -0.3l1 -0.2l1 -0.2l1 -0.2l1 -0.2l1 -0.3l1 -0.2l1 -0.2l1 -0.2l1 -0.2l1 -0.2l1 -0.2l1 -0.2l1 -0.2l1 -0.2l1 -0.2l1 -0.2l1 -0.2l1 -0.2l1 -0.2l1 -0.2l1 -0.2l1 -0.2l1 -0.2l1 -0.2l1 -0.2l1 -0.2l1 -0.2l1 -0.2l1 -0.1l1 -0.2l1 -0.2l1 -0.2l1 -0.2l1 -0.1l1 -0.2l1 -0.2l1 -0.2l1 -0.1l1 -0.2l1 -0.2l1 -0.1l1 -0.2l1 -0.2l1 -0.1l1 -0.2l1 -0.2l1 -0.1l1 -0.2l1 -0.2l1 -0.1l1 -0.2l1 -0.1l1 -0.2l1 -0.1l1 -0.2l1 -0.1l1 -0.2l1 -0.1l1 -0.2l1 -0.1l1 -0.2l1 -0.1l1 -0.2l1 -0.1l1 -0.2l1 -0.1l1 -0.2l1 -0.1l1 -0.1l1 -0.2l1 -0.1l1 -0.2l1 -0.1l1 -0.1l1 -0.2l1 -0.1l1 -0.1l1 -0.2l1 -0.1l1 -0.1l1 -0.2l1 -0.1l1 -0.1l1 -0.2l1 -0.1l1 -0.1l1 -0.1l1 -0.2l1 -0.1l1 -0.1l1 -0.2l1 -0.1l1 -0.1l1 -0.1l1 -0.2l1 -0.1l1 -0.1l1 -0.1l1 -0.2l1 -0.1l1 -0.1l1 -0.1l1 -0.2l1 -0.1l1 -0.1l1 -0.2l1 -0.1l1 -0.1l1 -0.1l1 -0.2l1 -0.1l1 -0.1l1 -0.2l1 -0.1l1 -0.1l1 -0.2l1 -0.1l1 -0.1l1 -0.2l1 -0.1l1 -0.1l1 -0.2l1 -0.1l1 -0.2l1 -0.1l1 -0.2l1 -0.1l1 -0.2l1 -0.1l1 -0.2l1 -0.2l1 -0.1l1 -0.2l1 -0.2l1 -0.2l1 -0.2l1 -0.2l1 -0.2l1 -0.2l1 -0.2l1 -0.2l1 -0.3l1 -0.2l1 -0.3l1 -0.3l1 -0.3l1 -0.3l1 -0.3l1 -0.3l1 -0.4l1 -0.4l1 -0.4l1 -0.5l1 -0.5l1 -0.6l1 -0.6l1 -0.7l1 -0.8l1 -0.9l1 -1l1 -1.1l1 -1.4l1 -1.5l1 -1.7l1 -2l1 -2.3l1 -2.5l1 -3l1 -3.3l1 -3.7l1 -4.2l1 -4.7l1 -5.2l1 -5.6l1 -6.1l1 -6.5l1 -6.9l1 -6.9l1 -6.8l1 -6.1l1 -5.1l1 -3.6l1 -1.6l1 0.6l1 2.7l1 4.4l1 5.7l1 6.4l1 6.8l1 6.7l1 6.6l1 6.1l1 5.7l1 5.3l1 4.7l1 4.2l1 3.8l1 3.4l1 2.9l1 2.6l1 2.3l1 1.9l1 1.7l1 1.5l1 1.3l1 1l1 1l1 0.8l1 0.7l1 0.6l1 0.5l1 0.4l1 0.4l1 0.4l1 0.3l1 0.3l1 0.2l1 0.2l1 0.2l1 0.2l1 0.2l1 0.1l1 0.1l1 0.2l1 0.1l1 0.1l1 0l1 0.1l1 0.1l1 0.1l1 0l1 0.1l1 0l1 0.1l1 0l1 0l1 0.1l1 0l1 0l1 0l1 0l1 0l1 0.1l1 0l1 0l1 0l1 0l1 0l1 0l1 0l1 0l1 0l1 -0.1l1 0l1 0l1 0l1 0l1 0l1 0l1 0l1 0l1 -0.1l1 0l1 0l1 0l1 0l1 -0.1l1 0l1 0l1 0l1 0l1 -0.1l1 0l1 0l1 0l1 0l1 -0.1l1 0l1 0l1 0l1 0l1 -0.1l1 0l1 0l1 0l1 -0.1l1 0l1 0l1 0l1 -0.1l1 0l1 0l1 0l1 0l1 -0.1l1 0l1 0l1 0l1 -0.1l1 0l1 0l1 0l1 -0.1l1 0l1 0l1 0l1 0l1 -0.1l1 0l1 0l1 0l1 -0.1l1 0l1 0l1 0l1 0l1 -0.1l1 0l1 0l1 0l1 -0.1l1 0l1 0l1 0l1 0l1 -0.1l1 0l1 0l1 0l1 0l1 -0.1l1 0l1 0l1 0l1 0l1 -0.1l1 0l1 0l1 0l1 0l1 0l1 -0.1l1 0l1 0l1 0l1 0l1 -0.1l1 0l1 0l1 0l1 0l1 0l1 -0.1l1 0l1 0l1 0l1 0l1 0l1 -0.1l1 0l1 0l1 0l1 0l1 0l1 -0.1l1 0l1 0l1 0l1 0l1 0l1 0l1 -0.1l1 0l1 0l1 0l1 0l1 0l1 0l1 -0.1l1 0l1 0l1 0l1 0l1 0l1 0l1 -0.1l1 0l1 0l1 0l1 0l1 0l1 0l1 0l1 -0.1l1 0l1 0l1 0l1 0l1 0l1 0l1 0l1 0l1 -0.1l1 0l1 0l1 0l1 0l1 0l1 0l1 0l1 0l1 0l1 -0.1l1 0l1 0l1 0l1 0l1 0l1 0l1 0l1 0l1 0l1 -0.1l1 0l1 0l1 0l1 0l1 0l1 0l1 0l1 0l1 0l1 0l1 0l1 -0.1l1 0l1 0l1 0l1 0l1 0l1 0l1 0l1 0l1 0l1 0l1 0l1 0l1 -0.1l1 0l1 0l1 0l1 0l1 0l1 0l1 0l1 0l1 0l1 0l1 0l1 0l1 0l1 -0.1l1 0l1 0l1 0l1 0l1 0l1 0l1 0l1 0l1 0l1 0l1 0l1 0l1 0l1 0l1 0l1 -0.1l1 0l1 0l1 0l1 0l1 0l1 0l1 0l1 0l1 0l1 0l1 0l1 0l1 0l1 0l1 0l1 -0.1l1 0l1 0l1 0l1 0l1 0l1 0l1 0l1 0l1 0l1 0l1 0l1 0l1 0l1 -0.1l1 0l1 0l1 0l1 0l1 0l1 0l1 0l1 0l1 0l1 0l1 0l1 -0.1l1 0l1 0l1 0l1 0l1 0l1 0l1 0l1 0l1 -0.1l1 0l1 0l1 0l1 0l1 0l1 -0.1l1 0l1 0l1 0l1 -0.1l1 0l1 0l1 -0.1l1 0l1 -0.1l1 0l1 -0.1l1 -0.1l1 -0.1l1 -0.1l1 -0.1l1 -0.1l1 -0.2l1 -0.3l1 -0.3l1 -0.4l1 -0.5l1 -0.7l1 -0.8l1 -1l1 -1l1 -0.8l1 -0.2l1 0.4l1 0.9l1 1l1 0.9l1 0.8l1 0.6l1 0.4l1 0.4l1 0.2l1 0.2l1 0.2l1 0.1l1 0.1l1 0.1l1 0l1 0.1l1 0l1 0l1 0.1l1 0l1 0l1 0l1 0l1 0l1 0l1 0l1 0l1 -0.1l1 0l1 0l1 0l1 -0.1l1 0l1 -0.1l1 0l1 -0.1l1 0l1 -0.1l1 -0.1l1 -0.1l1 -0.1l1 -0.1l1 -0.1l1 -0.2l1 -0.1l1 -0.2l1 -0.1l1 -0.2l1 -0.1l1 -0.1l1 -0.1l1 0l1 0l1 0.1l1 0.1l1 0.1l1 0.1l1 0.2l1 0.1l1 0.1l1 0.1l1 0.1l1 0.1l1 0.1l1 0.1l1 0l1 0.1l1 0l1 0l1 0.1l1 0l1 0l1 0l1 0l1 0l1 0l1 0l1 0l1 0l1 0l1 0l1 0l1 -0.1l1 0l1 0l1 -0.1l1 0l1 -0.1l1 -0.1l1 -0.1l1 -0.1l1 -0.1l1 -0.2l1 -0.2l1 -0.2l1 -0.3l1 -0.2l1 -0.4l1 -0.2l1 -0.2l1 -0.1l1 0.1l1 0.2l1 0.3l1 0.3l1 0.2l1 0.3l1 0.1l1 0.2l1 0.1l1 0.1l1 0.1l1 0.1l1 0l1 0l1 0.1l1 0l1 0l1 0l1 0l1 0l1 0l1 0l1 0l1 0l1 0l1 0l1 -0.1l1 0l1 0l1 0l1 0l1 -0.1l1 0l1 0l1 0l1 -0.1l1 0l1 0l1 -0.1l1 0l1 0l1 -0.1l1 0l1 -0.1l1 0l1 -0.1l1 -0.1l1 0l1 -0.1l1 -0.1l1 -0.1l1 -0.1l1 -0.1l1 -0.1l1 -0.1l1 -0.2l1 -0.2l1 -0.2l1 -0.2l1 -0.3l1 -0.3l1 -0.5l1 -0.4l1 -0.7l1 -0.7l1 -0.9l1 -1.1l1 -1.2l1 -1.4l1 -1.2l1 -0.9l1 -0.3l1 0.4l1 0.9l1 1.2l1 1.2l1 1.1l1 0.8l1 0.7l1 0.5l1 0.4l1 0.3l1 0.2l1 0.1l1 0.1l1 -0.1l1 0l1 -0.2l1 -0.2l1 -0.3l1 -0.3l1 -0.5l1 -0.7l1 -0.8l1 -1.1l1 -1.4l1 -1.9l1 -2.5l1 -2.9l1 -2.9l1 -1.8l1 0.2l1 1.8l1 2.6l1 2.2l1 1.7l1 1.2l1 0.7l1 0.3l1 0.1l1 -0.3l1 -0.4l1 -0.6l1 -0.9l1 -1.1l1 -1.4l1 -1.7l1 -2.1l1 -2.7l1 -3.3l1 -4.3l1 -5.5l1 -7.3l1 -9.9l1 -13.7l1 -19.7l1 -29.2l1 -44.9l1 -70.3l1 -106.3l1 -129.4l1 -68.9l1 68.4l1 128.9l1 105.7l1 69.7l1 44l1 28.2l1 18.2l1 11.9l1 7.6l1 4.8l1 3.6l1 3.7l1 4.6l1 5l1 4.6l1 3.9l1 3.1l1 2.4l1 2l1 1.6l1 1.2l1 1.1l1 0.8l1 0.7l1 0.6l1 0.5l1 0.4l1 0.3l1 0.2l1 0.1l1 0.1l1 -0.1l1 -0.1l1 -0.3l1 -0.5l1 -0.6l1 -0.9l1 -1l1 -1.2l1 -0.9l1 -0.5l1 0.3l1 0.9l1 1.3l1 1.4l1 1.2l1 1l1 0.8l1 0.7l1 0.5l1 0.5l1 0.3l1 0.3l1 0.3l1 0.2l1 0.2l1 0.1l1 0.2l1 0.1l1 0.1l1 0.1l1 0l1 0.1l1 0.1l1 0l1 0.1l1 0l1 0.1l1 0l1 0.1l1 0l1 0l1 0.1l1 0l1 0l1 0l1 0.1l1 0l1 0l1 0l1 0l1 0l1 0.1l1 0l1 0l1 0l1 0l1 0l1 0l1 0l1 0l1 0l1 0l1 0l1 0.1l1 0l1 0l1 0l1 0l1 0l1 0l1 0l1 -0.1l1 0l1 0l1 0l1 0l1 0l1 0l1 0l1 0l1 0l1 -0.1l1 0l1 0l1 0l1 -0.1l1 0l1 -0.1l1 -0.1l1 0l1 -0.1l1 -0.1l1 -0.2l1 -0.2l1 -0.2l1 -0.2l1 -0.4l1 -0.4l1 -0.5l1 -0.5l1 -0.5l1 -0.3l1 0l1 0.3l1 0.4l1 0.3l1 0.4l1 0.2l1 0.1l1 0l1 -0.2l1 -0.3l1 -0.4l1 -0.6l1 -0.8l1 -0.7l1 -0.6l1 -0.2l1 0.5l1 0.8l1 0.9l1 0.8l1 0.6l1 0.6l1 0.4l1 0.3l1 0.2l1 0.2l1 0.2l1 0.1l1 0.1l1 0.1l1 0.1l1 0l1 0.1l1 0l1 0.1l1 0l1 0l1 0.1l1 0l1 0l1 0l1 0.1l1 0l1 0l1 0l1 0l1 0l1 0.1l1 0l1 0"/>
<path stroke="#e6bea6" stroke-width="3.2" stroke-opacity=".9" d="M131.5 1084.6l0 -150.4l0.7 0l1 -0.6l1 -0.6l1 -0.6l1 -0.6l1 -0.6l1 -0.6l1 -0.6l1 -0.6l1 -0.7l1 -0.6l1 -0.6l1 -0.6l1 -0.6l1 -0.6l1 -0.6l1 -0.6l1 -0.6l1 -0.6l1 -0.5l1 -0.6l1 -0.6l1 -0.6l1 -0.6l1 -0.6l1 -0.6l1 -0.6l1 -0.6l1 -0.5l1 -0.6l1 -0.6l1 -0.6l1 -0.6l1 -0.5l1 -0.6l1 -0.6l1 -0.6l1 -0.5l1 -0.6l1 -0.6l1 -0.5l1 -0.6l1 -0.6l1 -0.5l1 -0.6l1 -0.6l1 -0.5l1 -0.6l1 -0.5l1 -0.6l1 -0.6l1 -0.5l1 -0.6l1 -0.5l1 -0.6l1 -0.5l1 -0.6l1 -0.5l1 -0.6l1 -0.5l1 -0.5l1 -0.6l1 -0.5l1 -0.6l1 -0.5l1 -0.5l1 -0.6l1 -0.5l1 -0.6l1 -0.5l1 -0.5l1 -0.6l1 -0.5l1 -0.5l1 -0.5l1 -0.6l1 -0.5l1 -0.5l1 -0.5l1 -0.6l1 -0.5l1 -0.5l1 -0.5l1 -0.5l1 -0.5l1 -0.6l1 -0.5l1 -0.5l1 -0.5l1 -0.5l1 -0.5l1 -0.5l1 -0.5l1 -0.5l1 -0.5l1 -0.5l1 -0.5l1 -0.5l1 -0.5l1 -0.5l1 -0.5l1 -0.5l1 -0.5l1 -0.5l1 -0.5l1 -0.5l1 -0.5l1 -0.5l1 -0.5l1 -0.5l1 -0.4l1 -0.5l1 -0.5l1 -0.5l1 -0.5l1 -0.5l1 -0.4l1 -0.5l1 -0.5l1 -0.5l1 -0.4l1 -0.5l1 -0.5l1 -0.5l1 -0.4l1 -0.5l1 -0.5l1 -0.4l1 -0.5l1 -0.5l1 -0.4l1 -0.5l1 -0.4l1 -0.5l1 -0.5l1 -0.4l1 -0.5l1 -0.4l1 -0.5l1 -0.4l1 -0.5l1 -0.5l1 -0.4l1 -0.5l1 -0.4l1 -0.5l1 -0.4l1 -0.4l1 -0.5l1 -0.4l1 -0.5l1 -0.4l1 -0.5l1 -0.4l1 -0.5l1 -0.4l1 -0.5l1 -0.4l1 -0.5l1 -0.5l1 -0.5l1 -0.5l1 -0.5l1 -0.6l1 -0.6l1 -0.7l1 -0.9l1 -1l1 -1l1 -0.6l1 -0.1l1 0.3l1 0.1l1 0l1 -0.2l1 -0.2l1 -0.3l1 -0.3l1 -0.4l1 -0.3l1 -0.4l1 -0.4l1 -0.4l1 -0.3l1 -0.4l1 -0.4l1 -0.4l1 -0.4l1 -0.4l1 -0.4l1 -0.4l1 -0.4l1 -0.3l1 -0.4l1 -0.4l1 -0.4l1 -0.4l1 -0.4l1 -0.4l1 -0.3l1 -0.4l1 -0.4l1 -0.4l1 -0.4l1 -0.4l1 -0.3l1 -0.4l1 -0.4l1 -0.4l1 -0.3l1 -0.4l1 -0.4l1 -0.4l1 -0.3l1 -0.4l1 -0.4l1 -0.3l1 -0.4l1 -0.4l1 -0.3l1 -0.4l1 -0.4l1 -0.3l1 -0.4l1 -0.3l1 -0.4l1 -0.3l1 -0.4l1 -0.4l1 -0.3l1 -0.4l1 -0.3l1 -0.4l1 -0.3l1 -0.4l1 -0.3l1 -0.4l1 -0.3l1 -0.3l1 -0.4l1 -0.3l1 -0.4l1 -0.3l1 -0.4l1 -0.3l1 -0.3l1 -0.4l1 -0.3l1 -0.3l1 -0.4l1 -0.3l1 -0.3l1 -0.4l1 -0.3l1 -0.3l1 -0.3l1 -0.4l1 -0.3l1 -0.3l1 -0.3l1 -0.4l1 -0.3l1 -0.3l1 -0.3l1 -0.3l1 -0.4l1 -0.3l1 -0.3l1 -0.3l1 -0.3l1 -0.3l1 -0.3l1 -0.4l1 -0.3l1 -0.3l1 -0.3l1 -0.3l1 -0.3l1 -0.3l1 -0.3l1 -0.3l1 -0.3l1 -0.3l1 -0.3l1 -0.3l1 -0.3l1 -0.3l1 -0.3l1 -0.3l1 -0.3l1 -0.3l1 -0.3l1 -0.2l1 -0.3l1 -0.3l1 -0.3l1 -0.3l1 -0.3l1 -0.3l1 -0.3l1 -0.2l1 -0.3l1 -0.3l1 -0.3l1 -0.3l1 -0.2l1 -0.3l1 -0.3l1 -0.3l1 -0.2l1 -0.3l1 -0.3l1 -0.3l1 -0.2l1 -0.3l1 -0.3l1 -0.2l1 -0.3l1 -0.3l1 -0.2l1 -0.3l1 -0.3l1 -0.2l1 -0.3l1 -0.2l1 -0.3l1 -0.3l1 -0.2l1 -0.3l1 -0.2l1 -0.3l1 -0.2l1 -0.3l1 -0.2l1 -0.3l1 -0.2l1 -0.3l1 -0.2l1 -0.3l1 -0.2l1 -0.3l1 -0.2l1 -0.3l1 -0.2l1 -0.3l1 -0.2l1 -0.2l1 -0.3l1 -0.2l1 -0.3l1 -0.2l1 -0.2l1 -0.3l1 -0.2l1 -0.2l1 -0.3l1 -0.2l1 -0.2l1 -0.3l1 -0.2l1 -0.2l1 -0.3l1 -0.2l1 -0.2l1 -0.2l1 -0.3l1 -0.2l1 -0.2l1 -0.2l1 -0.3l1 -0.2l1 -0.2l1 -0.2l1 -0.2l1 -0.2l1 -0.3l1 -0.2l1 -0.2l1 -0.2l1 -0.2l1 -0.2l1 -0.2l1 -0.3l1 -0.2l1 -0.2l1 -0.2l1 -0.2l1 -0.2l1 -0.2l1 -0.2l1 -0.2l1 -0.2l1 -0.2l1 -0.2l1 -0.2l1 -0.2l1 -0.2l1 -0.2l1 -0.2l1 -0.2l1 -0.2l1 -0.2l1 -0.2l1 -0.2l1 -0.2l1 -0.2l1 -0.2l1 -0.2l1 -0.2l1 -0.2l1 -0.2l1 -0.2l1 -0.1l1 -0.2l1 -0.2l1 -0.2l1 -0.2l1 -0.2l1 -0.2l1 -0.2l1 -0.1l1 -0.2l1 -0.2l1 -0.2l1 -0.2l1 -0.1l1 -0.2l1 -0.2l1 -0.2l1 -0.2l1 -0.1l1 -0.2l1 -0.2l1 -0.2l1 -0.1l1 -0.2l1 -0.2l1 -0.2l1 -0.1l1 -0.2l1 -0.2l1 -0.2l1 -0.1l1 -0.2l1 -0.2l1 -0.1l1 -0.2l1 -0.2l1 -0.2l1 -0.1l1 -0.2l1 -0.2l1 -0.1l1 -0.2l1 -0.2l1 -0.1l1 -0.2l1 -0.2l1 -0.1l1 -0.2l1 -0.2l1 -0.1l1 -0.2l1 -0.2l1 -0.2l1 -0.1l1 -0.2l1 -0.2l1 -0.1l1 -0.2l1 -0.2l1 -0.1l1 -0.2l1 -0.2l1 -0.1l1 -0.2l1 -0.2l1 -0.2l1 -0.1l1 -0.2l1 -0.2l1 -0.2l1 -0.2l1 -0.1l1 -0.2l1 -0.2l1 -0.2l1 -0.2l1 -0.2l1 -0.2l1 -0.2l1 -0.2l1 -0.2l1 -0.2l1 -0.2l1 -0.2l1 -0.3l1 -0.2l1 -0.2l1 -0.3l1 -0.2l1 -0.3l1 -0.3l1 -0.2l1 -0.3l1 -0.3l1 -0.3l1 -0.4l1 -0.3l1 -0.4l1 -0.4l1 -0.4l1 -0.5l1 -0.5l1 -0.5l1 -0.6l1 -0.6l1 -0.7l1 -0.8l1 -0.9l1 -1l1 -1.2l1 -1.3l1 -1.5l1 -1.7l1 -2l1 -2.2l1 -2.6l1 -2.8l1 -3.3l1 -3.7l1 -4.1l1 -4.5l1 -5l1 -5.6l1 -5.9l1 -6.4l1 -6.6l1 -6.8l1 -6.6l1 -6l1 -5l1 -3.5l1 -1.5l1 0.5l1 2.6l1 4.2l1 5.5l1 6.2l1 6.6l1 6.5l1 6.3l1 6l1 5.5l1 5l1 4.6l1 4.1l1 3.6l1 3.2l1 2.9l1 2.5l1 2.1l1 1.9l1 1.6l1 1.4l1 1.2l1 1.1l1 0.8l1 0.8l1 0.6l1 0.6l1 0.5l1 0.4l1 0.4l1 0.3l1 0.2l1 0.3l1 0.2l1 0.2l1 0.2l1 0.1l1 0.2l1 0.1l1 0.1l1 0.1l1 0.1l1 0l1 0.1l1 0.1l1 0l1 0l1 0.1l1 0l1 0l1 0.1l1 0l1 0l1 0l1 0l1 0l1 0l1 0l1 0l1 0l1 0l1 0l1 0l1 -0.1l1 0l1 0l1 0l1 0l1 -0.1l1 0l1 0l1 0l1 0l1 -0.1l1 0l1 0l1 -0.1l1 0l1 0l1 0l1 -0.1l1 0l1 0l1 -0.1l1 0l1 0l1 -0.1l1 0l1 0l1 -0.1l1 0l1 0l1 -0.1l1 0l1 0l1 0l1 -0.1l1 0l1 0l1 -0.1l1 0l1 0l1 -0.1l1 0l1 0l1 -0.1l1 0l1 0l1 -0.1l1 0l1 0l1 -0.1l1 0l1 0l1 -0.1l1 0l1 0l1 0l1 -0.1l1 0l1 0l1 -0.1l1 0l1 0l1 0l1 -0.1l1 0l1 0l1 -0.1l1 0l1 0l1 0l1 -0.1l1 0l1 0l1 0l1 -0.1l1 0l1 0l1 0l1 -0.1l1 0l1 0l1 0l1 -0.1l1 0l1 0l1 0l1 -0.1l1 0l1 0l1 0l1 0l1 -0.1l1 0l1 0l1 0l1 -0.1l1 0l1 0l1 0l1 0l1 -0.1l1 0l1 0l1 0l1 0l1 0l1 -0.1l1 0l1 0l1 0l1 0l1 0l1 -0.1l1 0l1 0l1 0l1 0l1 0l1 -0.1l1 0l1 0l1 0l1 0l1 0l1 0l1 -0.1l1 0l1 0l1 0l1 0l1 0l1 0l1 0l1 -0.1l1 0l1 0l1 0l1 0l1 0l1 0l1 0l1 0l1 0l1 -0.1l1 0l1 0l1 0l1 0l1 0l1 0l1 0l1 0l1 0l1 0l1 0l1 0l1 -0.1l1 0l1 0l1 0l1 0l1 0l1 0l1 0l1 0l1 0l1 0l1 0l1 0l1 0l1 0l1 0l1 0l1 0l1 0l1 -0.1l1 0l1 0l1 0l1 0l1 0l1 0l1 0l1 0l1 0l1 0l1 0l1 0l1 0l1 0l1 0l1 0l1 0l1 0l1 0l1 0l1 0l1 0l1 0l1 0l1 0l1 0l1 0l1 0l1 0l1 0l1 0l1 0l1 0l1 0l1 0l1 0l1 0l1 0l1 0l1 0l1 0l1 0l1 0l1 0l1 0l1 0l1 0l1 0l1 0l1 0l1 0l1 0l1 0l1 0.1l1 0l1 0l1 0l1 0l1 0l1 0l1 0l1 0l1 0l1 0l1 0l1 0l1 0l1 0l1 0l1 0l1 0l1 0l1 0l1 0l1 0l1 0l1 0l1 0l1 0l1 0l1 0l1 0l1 0l1 0l1 0l1 0l1 0.1l1 0l1 0l1 0l1 0l1 0l1 0l1 0l1 0l1 0l1 0l1 0l1 0l1 0l1 0l1 0l1 0l1 0l1 0l1 0l1 0l1 0l1 0l1 0l1 0l1 0l1 0l1 0l1 -0.1l1 0l1 0l1 0l1 0l1 0l1 0l1 -0.1l1 0l1 0l1 -0.1l1 0l1 -0.1l1 0l1 -0.1l1 -0.1l1 -0.2l1 -0.1l1 -0.3l1 -0.2l1 -0.4l1 -0.5l1 -0.6l1 -0.7l1 -0.7l1 -0.6l1 -0.1l1 0.3l1 0.7l1 0.7l1 0.7l1 0.5l1 0.5l1 0.3l1 0.2l1 0.2l1 0.2l1 0.1l1 0.1l1 0.1l1 0.1l1 0l1 0.1l1 0l1 0l1 0l1 0.1l1 0l1 0l1 0l1 0l1 0l1 0l1 0l1 0l1 0l1 0l1 -0.1l1 0l1 0l1 0l1 -0.1l1 0l1 0l1 -0.1l1 0l1 -0.1l1 -0.1l1 0l1 -0.1l1 -0.1l1 -0.1l1 -0.1l1 -0.1l1 -0.1l1 -0.1l1 -0.1l1 0l1 0l1 0l1 0l1 0.1l1 0.1l1 0.1l1 0.1l1 0.1l1 0.1l1 0.1l1 0.1l1 0l1 0.1l1 0l1 0.1l1 0l1 0.1l1 0l1 0l1 0l1 0.1l1 0l1 0l1 0l1 0l1 0l1 0l1 0l1 0l1 0l1 0l1 0l1 -0.1l1 0l1 0l1 0l1 -0.1l1 0l1 -0.1l1 -0.1l1 -0.1l1 -0.1l1 -0.1l1 -0.2l1 -0.2l1 -0.2l1 -0.2l1 -0.2l1 -0.1l1 -0.1l1 0.1l1 0.1l1 0.2l1 0.3l1 0.1l1 0.2l1 0.1l1 0.2l1 0.1l1 0l1 0.1l1 0l1 0.1l1 0l1 0l1 0l1 0l1 0.1l1 0l1 0l1 0l1 0l1 -0.1l1 0l1 0l1 0l1 0l1 0l1 0l1 0l1 0l1 -0.1l1 0l1 0l1 0l1 0l1 -0.1l1 0l1 0l1 -0.1l1 0l1 0l1 -0.1l1 0l1 0l1 -0.1l1 0l1 -0.1l1 0l1 -0.1l1 -0.1l1 -0.1l1 0l1 -0.1l1 -0.1l1 -0.2l1 -0.1l1 -0.2l1 -0.1l1 -0.3l1 -0.2l1 -0.3l1 -0.4l1 -0.4l1 -0.6l1 -0.7l1 -0.8l1 -0.9l1 -1l1 -0.9l1 -0.7l1 -0.2l1 0.3l1 0.6l1 0.9l1 0.8l1 0.8l1 0.6l1 0.5l1 0.3l1 0.3l1 0.2l1 0.1l1 0l1 0l1 0l1 -0.1l1 -0.2l1 -0.2l1 -0.2l1 -0.3l1 -0.5l1 -0.5l1 -0.6l1 -0.9l1 -1.1l1 -1.5l1 -1.9l1 -2.2l1 -2.2l1 -1.4l1 0l1 1.2l1 1.7l1 1.5l1 1l1 0.6l1 0.3l1 0l1 -0.3l1 -0.5l1 -0.7l1 -0.9l1 -1.2l1 -1.5l1 -1.7l1 -2.2l1 -2.6l1 -3.3l1 -4.1l1 -5.3l1 -6.7l1 -8.9l1 -12.1l1 -16.7l1 -24l1 -35.6l1 -54.7l1 -85.8l1 -129.6l1 -157.8l1 -83.9l1 83.5l1 157.5l1 129.2l1 85.2l1 54.1l1 34.9l1 22.9l1 15.4l1 10.4l1 7.1l1 5.3l1 4.8l1 5l1 5l1 4.4l1 3.7l1 3l1 2.4l1 2l1 1.6l1 1.3l1 1.1l1 0.9l1 0.8l1 0.7l1 0.5l1 0.5l1 0.3l1 0.3l1 0.3l1 0.1l1 0.1l1 0l1 -0.2l1 -0.2l1 -0.4l1 -0.6l1 -0.7l1 -0.8l1 -0.6l1 -0.3l1 0.2l1 0.7l1 1l1 1l1 1l1 0.7l1 0.7l1 0.5l1 0.4l1 0.3l1 0.3l1 0.2l1 0.2l1 0.2l1 0.1l1 0.1l1 0.1l1 0.1l1 0.1l1 0.1l1 0l1 0.1l1 0.1l1 0l1 0l1 0.1l1 0l1 0l1 0.1l1 0l1 0l1 0l1 0l1 0.1l1 0l1 0l1 0l1 0l1 0l1 0l1 0l1 0l1 0l1 0l1 0l1 0l1 0l1 0l1 0l1 0l1 0l1 0l1 0l1 0l1 0l1 0l1 -0.1l1 0l1 0l1 0l1 0l1 0l1 0l1 -0.1l1 0l1 0l1 0l1 0l1 -0.1l1 0l1 0l1 0l1 -0.1l1 0l1 0l1 -0.1l1 0l1 -0.1l1 -0.1l1 0l1 -0.1l1 -0.1l1 -0.1l1 -0.2l1 -0.1l1 -0.3l1 -0.2l1 -0.4l1 -0.3l1 -0.4l1 -0.4l1 -0.2l1 0l1 0.1l1 0.3l1 0.3l1 0.2l1 0.1l1 0.1l1 -0.1l1 -0.1l1 -0.2l1 -0.4l1 -0.4l1 -0.6l1 -0.6l1 -0.4l1 -0.1l1 0.3l1 0.5l1 0.6l1 0.6l1 0.5l1 0.3l1 0.3l1 0.2l1 0.2l1 0.1l1 0.1l1 0.1l1 0l1 0.1l1 0l1 0l1 0l1 0l1 0l1 0.1l1 0l1 -0.1l1 0l1 0l1 0l1 0l1 0l1 0l1 0l1 0l1 0l1 -0.1l1 0l1 0"/>
<path stroke="#a4508a" stroke-width="3.6" stroke-opacity=".9" d="M131.5 1085.6l0 -183.8l0.7 0l1 -0.5l1 -0.5l1 -0.5l1 -0.6l1 -0.5l1 -0.5l1 -0.5l1 -0.6l1 -0.5l1 -0.5l1 -0.6l1 -0.5l1 -0.5l1 -0.5l1 -0.6l1 -0.5l1 -0.5l1 -0.5l1 -0.6l1 -0.5l1 -0.5l1 -0.6l1 -0.5l1 -0.5l1 -0.5l1 -0.6l1 -0.5l1 -0.5l1 -0.6l1 -0.5l1 -0.5l1 -0.5l1 -0.6l1 -0.5l1 -0.5l1 -0.5l1 -0.6l1 -0.5l1 -0.5l1 -0.6l1 -0.5l1 -0.5l1 -0.5l1 -0.6l1 -0.5l1 -0.5l1 -0.5l1 -0.6l1 -0.5l1 -0.5l1 -0.5l1 -0.6l1 -0.5l1 -0.5l1 -0.6l1 -0.5l1 -0.5l1 -0.5l1 -0.6l1 -0.5l1 -0.5l1 -0.5l1 -0.5l1 -0.6l1 -0.5l1 -0.5l1 -0.5l1 -0.6l1 -0.5l1 -0.5l1 -0.5l1 -0.5l1 -0.6l1 -0.5l1 -0.5l1 -0.5l1 -0.5l1 -0.6l1 -0.5l1 -0.5l1 -0.5l1 -0.5l1 -0.6l1 -0.5l1 -0.5l1 -0.5l1 -0.5l1 -0.5l1 -0.6l1 -0.5l1 -0.5l1 -0.5l1 -0.5l1 -0.5l1 -0.5l1 -0.6l1 -0.5l1 -0.5l1 -0.5l1 -0.5l1 -0.5l1 -0.5l1 -0.5l1 -0.5l1 -0.6l1 -0.5l1 -0.5l1 -0.5l1 -0.5l1 -0.5l1 -0.5l1 -0.5l1 -0.5l1 -0.5l1 -0.5l1 -0.5l1 -0.5l1 -0.5l1 -0.5l1 -0.5l1 -0.5l1 -0.5l1 -0.5l1 -0.5l1 -0.5l1 -0.5l1 -0.5l1 -0.5l1 -0.5l1 -0.5l1 -0.5l1 -0.5l1 -0.5l1 -0.5l1 -0.5l1 -0.4l1 -0.5l1 -0.5l1 -0.5l1 -0.5l1 -0.5l1 -0.5l1 -0.5l1 -0.4l1 -0.5l1 -0.5l1 -0.5l1 -0.5l1 -0.5l1 -0.4l1 -0.5l1 -0.5l1 -0.5l1 -0.4l1 -0.5l1 -0.5l1 -0.5l1 -0.4l1 -0.5l1 -0.5l1 -0.5l1 -0.4l1 -0.5l1 -0.5l1 -0.4l1 -0.5l1 -0.5l1 -0.4l1 -0.5l1 -0.5l1 -0.4l1 -0.5l1 -0.5l1 -0.4l1 -0.5l1 -0.4l1 -0.5l1 -0.4l1 -0.5l1 -0.5l1 -0.4l1 -0.5l1 -0.4l1 -0.5l1 -0.4l1 -0.5l1 -0.4l1 -0.5l1 -0.4l1 -0.5l1 -0.4l1 -0.4l1 -0.5l1 -0.4l1 -0.5l1 -0.4l1 -0.4l1 -0.5l1 -0.4l1 -0.4l1 -0.5l1 -0.4l1 -0.4l1 -0.5l1 -0.4l1 -0.4l1 -0.5l1 -0.4l1 -0.4l1 -0.4l1 -0.5l1 -0.4l1 -0.4l1 -0.4l1 -0.4l1 -0.4l1 -0.5l1 -0.4l1 -0.4l1 -0.4l1 -0.4l1 -0.4l1 -0.4l1 -0.4l1 -0.4l1 -0.4l1 -0.5l1 -0.4l1 -0.4l1 -0.4l1 -0.4l1 -0.3l1 -0.4l1 -0.4l1 -0.4l1 -0.4l1 -0.4l1 -0.4l1 -0.4l1 -0.4l1 -0.4l1 -0.3l1 -0.4l1 -0.4l1 -0.4l1 -0.4l1 -0.3l1 -0.4l1 -0.4l1 -0.4l1 -0.3l1 -0.4l1 -0.4l1 -0.4l1 -0.3l1 -0.4l1 -0.3l1 -0.4l1 -0.4l1 -0.3l1 -0.4l1 -0.3l1 -0.4l1 -0.4l1 -0.3l1 -0.4l1 -0.3l1 -0.4l1 -0.3l1 -0.3l1 -0.4l1 -0.3l1 -0.4l1 -0.3l1 -0.4l1 -0.3l1 -0.3l1 -0.4l1 -0.3l1 -0.3l1 -0.4l1 -0.3l1 -0.3l1 -0.3l1 -0.4l1 -0.3l1 -0.3l1 -0.3l1 -0.4l1 -0.3l1 -0.3l1 -0.3l1 -0.3l1 -0.3l1 -0.4l1 -0.3l1 -0.3l1 -0.3l1 -0.3l1 -0.3l1 -0.3l1 -0.3l1 -0.3l1 -0.3l1 -0.3l1 -0.3l1 -0.3l1 -0.3l1 -0.3l1 -0.3l1 -0.3l1 -0.3l1 -0.2l1 -0.3l1 -0.3l1 -0.3l1 -0.3l1 -0.3l1 -0.2l1 -0.3l1 -0.3l1 -0.3l1 -0.3l1 -0.2l1 -0.3l1 -0.3l1 -0.2l1 -0.3l1 -0.3l1 -0.2l1 -0.3l1 -0.3l1 -0.2l1 -0.3l1 -0.3l1 -0.2l1 -0.3l1 -0.2l1 -0.3l1 -0.2l1 -0.3l1 -0.2l1 -0.3l1 -0.2l1 -0.3l1 -0.2l1 -0.3l1 -0.2l1 -0.2l1 -0.3l1 -0.2l1 -0.3l1 -0.2l1 -0.2l1 -0.3l1 -0.2l1 -0.2l1 -0.3l1 -0.2l1 -0.2l1 -0.2l1 -0.3l1 -0.2l1 -0.2l1 -0.2l1 -0.2l1 -0.3l1 -0.2l1 -0.2l1 -0.2l1 -0.2l1 -0.2l1 -0.2l1 -0.3l1 -0.2l1 -0.2l1 -0.2l1 -0.2l1 -0.2l1 -0.2l1 -0.2l1 -0.2l1 -0.2l1 -0.2l1 -0.2l1 -0.2l1 -0.2l1 -0.2l1 -0.2l1 -0.1l1 -0.2l1 -0.2l1 -0.2l1 -0.2l1 -0.2l1 -0.2l1 -0.1l1 -0.2l1 -0.2l1 -0.2l1 -0.2l1 -0.1l1 -0.2l1 -0.2l1 -0.1l1 -0.2l1 -0.2l1 -0.2l1 -0.1l1 -0.2l1 -0.2l1 -0.1l1 -0.2l1 -0.2l1 -0.1l1 -0.2l1 -0.1l1 -0.2l1 -0.2l1 -0.1l1 -0.2l1 -0.1l1 -0.2l1 -0.1l1 -0.2l1 -0.2l1 -0.1l1 -0.2l1 -0.1l1 -0.2l1 -0.1l1 -0.2l1 -0.1l1 -0.1l1 -0.2l1 -0.1l1 -0.2l1 -0.1l1 -0.2l1 -0.1l1 -0.2l1 -0.1l1 -0.1l1 -0.2l1 -0.1l1 -0.2l1 -0.1l1 -0.1l1 -0.2l1 -0.1l1 -0.2l1 -0.1l1 -0.1l1 -0.2l1 -0.1l1 -0.1l1 -0.2l1 -0.1l1 -0.1l1 -0.2l1 -0.1l1 -0.1l1 -0.2l1 -0.1l1 -0.2l1 -0.1l1 -0.1l1 -0.2l1 -0.1l1 -0.1l1 -0.2l1 -0.1l1 -0.2l1 -0.1l1 -0.1l1 -0.2l1 -0.1l1 -0.2l1 -0.1l1 -0.2l1 -0.1l1 -0.2l1 -0.1l1 -0.2l1 -0.1l1 -0.2l1 -0.1l1 -0.2l1 -0.2l1 -0.1l1 -0.2l1 -0.2l1 -0.2l1 -0.2l1 -0.2l1 -0.2l1 -0.2l1 -0.2l1 -0.2l1 -0.2l1 -0.3l1 -0.2l1 -0.3l1 -0.2l1 -0.3l1 -0.3l1 -0.3l1 -0.3l1 -0.4l1 -0.4l1 -0.4l1 -0.4l1 -0.5l1 -0.5l1 -0.5l1 -0.7l1 -0.7l1 -0.8l1 -0.9l1 -1l1 -1.1l1 -1.4l1 -1.5l1 -1.7l1 -2l1 -2.3l1 -2.6l1 -2.9l1 -3.3l1 -3.8l1 -4.2l1 -4.6l1 -5.2l1 -5.6l1 -6.2l1 -6.5l1 -6.8l1 -7l1 -6.7l1 -6.2l1 -5.1l1 -3.5l1 -1.6l1 0.6l1 2.6l1 4.4l1 5.7l1 6.4l1 6.8l1 6.8l1 6.5l1 6.2l1 5.7l1 5.2l1 4.7l1 4.2l1 3.8l1 3.4l1 2.9l1 2.6l1 2.3l1 2l1 1.7l1 1.4l1 1.3l1 1.1l1 0.9l1 0.8l1 0.7l1 0.6l1 0.5l1 0.5l1 0.4l1 0.3l1 0.3l1 0.3l1 0.2l1 0.3l1 0.2l1 0.1l1 0.2l1 0.2l1 0.1l1 0.1l1 0.1l1 0.1l1 0.1l1 0.1l1 0.1l1 0l1 0.1l1 0l1 0.1l1 0l1 0.1l1 0l1 0l1 0.1l1 0l1 0l1 0l1 0l1 0.1l1 0l1 0l1 0l1 0l1 0l1 0l1 0l1 0l1 0l1 0l1 0l1 0l1 0l1 0l1 0l1 -0.1l1 0l1 0l1 0l1 0l1 0l1 0l1 0l1 -0.1l1 0l1 0l1 0l1 0l1 0l1 0l1 -0.1l1 0l1 0l1 0l1 0l1 0l1 -0.1l1 0l1 0l1 0l1 0l1 0l1 -0.1l1 0l1 0l1 0l1 0l1 0l1 -0.1l1 0l1 0l1 0l1 0l1 0l1 -0.1l1 0l1 0l1 0l1 0l1 0l1 -0.1l1 0l1 0l1 0l1 0l1 0l1 -0.1l1 0l1 0l1 0l1 0l1 0l1 0l1 -0.1l1 0l1 0l1 0l1 0l1 0l1 0l1 -0.1l1 0l1 0l1 0l1 0l1 0l1 0l1 0l1 -0.1l1 0l1 0l1 0l1 0l1 0l1 0l1 0l1 0l1 -0.1l1 0l1 0l1 0l1 0l1 0l1 0l1 0l1 0l1 0l1 -0.1l1 0l1 0l1 0l1 0l1 0l1 0l1 0l1 0l1 0l1 0l1 0l1 -0.1l1 0l1 0l1 0l1 0l1 0l1 0l1 0l1 0l1 0l1 0l1 0l1 0l1 0l1 0l1 0l1 0l1 -0.1l1 0l1 0l1 0l1 0l1 0l1 0l1 0l1 0l1 0l1 0l1 0l1 0l1 0l1 0l1 0l1 0l1 0l1 0l1 0l1 0l1 0l1 0l1 0l1 0l1 0l1 0l1 0l1 0l1 0l1 0l1 0l1 0l1 0l1 0l1 0l1 0l1 0l1 0l1 -0.1l1 0l1 0l1 0l1 0l1 0l1 0l1 0l1 0l1 0l1 0l1 0l1 0l1 0l1 0l1 0l1 0l1 0l1 0.1l1 0l1 0l1 0l1 0l1 0l1 0l1 0l1 0l1 0l1 0l1 0l1 0l1 0l1 0l1 0l1 0l1 0l1 0l1 0l1 0l1 0l1 0l1 0l1 0l1 0l1 0l1 0l1 0l1 0l1 0l1 0l1 0l1 0l1 0l1 0l1 0l1 0l1 0l1 0l1 0l1 0l1 0l1 0l1 0l1 0l1 0l1 0l1 0l1 0l1 0l1 0l1 0l1 0l1 0l1 0l1 0l1 0l1 0l1 0l1 0l1 0l1 0l1 0l1 0l1 0l1 0l1 0l1 0l1 0l1 0l1 0l1 0l1 0l1 0l1 0l1 0l1 0l1 0l1 0l1 0l1 0l1 0l1 0l1 0l1 0l1 0l1 0l1 0l1 -0.1l1 0l1 0l1 0l1 0l1 0l1 0l1 0l1 0l1 0l1 -0.1l1 0l1 0l1 0l1 -0.1l1 0l1 0l1 -0.1l1 0l1 -0.1l1 0l1 -0.1l1 -0.1l1 -0.1l1 -0.1l1 -0.2l1 -0.2l1 -0.2l1 -0.3l1 -0.4l1 -0.5l1 -0.7l1 -0.8l1 -1l1 -1l1 -0.8l1 -0.2l1 0.4l1 0.9l1 1.1l1 0.9l1 0.7l1 0.6l1 0.5l1 0.3l1 0.3l1 0.2l1 0.1l1 0.2l1 0.1l1 0l1 0.1l1 0.1l1 0l1 0l1 0l1 0.1l1 0l1 0l1 0l1 0l1 0l1 0l1 -0.1l1 0l1 0l1 0l1 -0.1l1 0l1 0l1 -0.1l1 0l1 -0.1l1 0l1 -0.1l1 -0.1l1 -0.1l1 -0.1l1 -0.1l1 -0.1l1 -0.2l1 -0.1l1 -0.2l1 -0.1l1 -0.2l1 -0.1l1 -0.1l1 0l1 -0.1l1 0l1 0.1l1 0.1l1 0.1l1 0.1l1 0.2l1 0.1l1 0.1l1 0.1l1 0.1l1 0.1l1 0.1l1 0.1l1 0l1 0.1l1 0l1 0l1 0.1l1 0l1 0l1 0l1 0l1 0l1 0l1 0l1 0l1 0l1 0l1 0l1 -0.1l1 0l1 0l1 -0.1l1 0l1 -0.1l1 0l1 -0.1l1 -0.1l1 -0.1l1 -0.2l1 -0.1l1 -0.2l1 -0.2l1 -0.3l1 -0.3l1 -0.3l1 -0.3l1 -0.2l1 -0.1l1 0.1l1 0.2l1 0.3l1 0.3l1 0.2l1 0.3l1 0.1l1 0.2l1 0.1l1 0.1l1 0.1l1 0l1 0.1l1 0l1 0l1 0.1l1 0l1 0l1 0l1 0l1 0l1 0l1 -0.1l1 0l1 0l1 0l1 0l1 0l1 -0.1l1 0l1 0l1 0l1 -0.1l1 0l1 0l1 -0.1l1 0l1 0l1 -0.1l1 0l1 -0.1l1 0l1 -0.1l1 0l1 -0.1l1 -0.1l1 0l1 -0.1l1 -0.1l1 -0.1l1 -0.1l1 -0.1l1 -0.1l1 -0.1l1 -0.2l1 -0.1l1 -0.2l1 -0.2l1 -0.3l1 -0.3l1 -0.3l1 -0.4l1 -0.5l1 -0.7l1 -0.7l1 -0.9l1 -1.1l1 -1.3l1 -1.3l1 -1.3l1 -0.9l1 -0.3l1 0.4l1 0.9l1 1.2l1 1.2l1 1l1 0.9l1 0.6l1 0.6l1 0.3l1 0.3l1 0.2l1 0.1l1 0l1 0l1 -0.1l1 -0.2l1 -0.2l1 -0.3l1 -0.4l1 -0.6l1 -0.6l1 -0.9l1 -1.1l1 -1.5l1 -1.9l1 -2.5l1 -3l1 -2.9l1 -1.9l1 0.1l1 1.9l1 2.4l1 2.2l1 1.6l1 1.1l1 0.6l1 0.2l1 -0.1l1 -0.3l1 -0.6l1 -0.9l1 -1.1l1 -1.3l1 -1.7l1 -2.1l1 -2.6l1 -3.3l1 -4l1 -5.2l1 -6.6l1 -8.8l1 -11.9l1 -16.5l1 -23.7l1 -35.1l1 -54.1l1 -84.6l1 -127.9l1 -155.8l1 -82.8l1 82.3l1 155.3l1 127.3l1 84l1 53.2l1 34l1 22.3l1 14.7l1 9.6l1 6.3l1 4.6l1 4.6l1 5.3l1 5.6l1 5l1 4.3l1 3.4l1 2.7l1 2.1l1 1.8l1 1.4l1 1.2l1 1l1 0.8l1 0.7l1 0.5l1 0.5l1 0.4l1 0.2l1 0.2l1 0.1l1 0l1 -0.1l1 -0.3l1 -0.4l1 -0.6l1 -0.9l1 -1l1 -1.1l1 -1l1 -0.4l1 0.3l1 0.9l1 1.3l1 1.4l1 1.2l1 1.1l1 0.8l1 0.7l1 0.5l1 0.5l1 0.3l1 0.3l1 0.3l1 0.2l1 0.2l1 0.2l1 0.1l1 0.1l1 0.1l1 0.1l1 0.1l1 0.1l1 0l1 0.1l1 0l1 0.1l1 0l1 0.1l1 0l1 0l1 0.1l1 0l1 0l1 0.1l1 0l1 0l1 0l1 0l1 0.1l1 0l1 0l1 0l1 0l1 0l1 0l1 0l1 0l1 0l1 0l1 0l1 0.1l1 0l1 0l1 0l1 0l1 0l1 0l1 0l1 -0.1l1 0l1 0l1 0l1 0l1 0l1 0l1 0l1 0l1 0l1 0l1 -0.1l1 0l1 0l1 0l1 -0.1l1 0l1 0l1 -0.1l1 0l1 -0.1l1 -0.1l1 -0.1l1 -0.1l1 -0.1l1 -0.2l1 -0.2l1 -0.3l1 -0.4l1 -0.4l1 -0.5l1 -0.5l1 -0.5l1 -0.3l1 0l1 0.3l1 0.4l1 0.3l1 0.4l1 0.2l1 0.1l1 -0.1l1 -0.1l1 -0.3l1 -0.4l1 -0.6l1 -0.8l1 -0.8l1 -0.6l1 -0.1l1 0.4l1 0.8l1 0.9l1 0.8l1 0.7l1 0.5l1 0.4l1 0.3l1 0.3l1 0.2l1 0.1l1 0.2l1 0.1l1 0l1 0.1l1 0.1l1 0l1 0.1l1 0l1 0.1l1 0l1 0l1 0l1 0.1l1 0l1 0l1 0l1 0l1 0l1 0.1l1 0l1 0l1 0l1 0"/>
<path stroke="#8c4646" stroke-width="3.6" stroke-opacity=".9" d="M131.5 1085.6l0 -215.4l0.7 0l1 -0.6l1 -0.5l1 -0.6l1 -0.5l1 -0.6l1 -0.5l1 -0.5l1 -0.6l1 -0.5l1 -0.6l1 -0.5l1 -0.6l1 -0.5l1 -0.6l1 -0.5l1 -0.5l1 -0.6l1 -0.5l1 -0.6l1 -0.5l1 -0.6l1 -0.5l1 -0.5l1 -0.6l1 -0.5l1 -0.6l1 -0.5l1 -0.5l1 -0.6l1 -0.5l1 -0.6l1 -0.5l1 -0.5l1 -0.6l1 -0.5l1 -0.6l1 -0.5l1 -0.5l1 -0.6l1 -0.5l1 -0.5l1 -0.6l1 -0.5l1 -0.5l1 -0.6l1 -0.5l1 -0.5l1 -0.6l1 -0.5l1 -0.5l1 -0.6l1 -0.5l1 -0.5l1 -0.6l1 -0.5l1 -0.5l1 -0.6l1 -0.5l1 -0.5l1 -0.5l1 -0.6l1 -0.5l1 -0.5l1 -0.5l1 -0.6l1 -0.5l1 -0.5l1 -0.5l1 -0.6l1 -0.5l1 -0.5l1 -0.5l1 -0.6l1 -0.5l1 -0.5l1 -0.5l1 -0.5l1 -0.6l1 -0.5l1 -0.5l1 -0.5l1 -0.5l1 -0.5l1 -0.6l1 -0.5l1 -0.5l1 -0.5l1 -0.5l1 -0.5l1 -0.5l1 -0.6l1 -0.5l1 -0.5l1 -0.5l1 -0.5l1 -0.5l1 -0.5l1 -0.5l1 -0.5l1 -0.5l1 -0.5l1 -0.5l1 -0.5l1 -0.5l1 -0.6l1 -0.5l1 -0.5l1 -0.5l1 -0.5l1 -0.5l1 -0.5l1 -0.5l1 -0.5l1 -0.4l1 -0.5l1 -0.5l1 -0.5l1 -0.5l1 -0.5l1 -0.5l1 -0.5l1 -0.5l1 -0.5l1 -0.5l1 -0.5l1 -0.5l1 -0.4l1 -0.5l1 -0.5l1 -0.5l1 -0.5l1 -0.5l1 -0.5l1 -0.4l1 -0.5l1 -0.5l1 -0.5l1 -0.5l1 -0.4l1 -0.5l1 -0.5l1 -0.5l1 -0.5l1 -0.4l1 -0.5l1 -0.5l1 -0.4l1 -0.5l1 -0.5l1 -0.5l1 -0.4l1 -0.5l1 -0.5l1 -0.4l1 -0.5l1 -0.5l1 -0.4l1 -0.5l1 -0.4l1 -0.5l1 -0.5l1 -0.4l1 -0.5l1 -0.4l1 -0.5l1 -0.5l1 -0.4l1 -0.5l1 -0.4l1 -0.5l1 -0.4l1 -0.5l1 -0.4l1 -0.5l1 -0.4l1 -0.5l1 -0.4l1 -0.5l1 -0.4l1 -0.4l1 -0.5l1 -0.4l1 -0.5l1 -0.4l1 -0.4l1 -0.5l1 -0.4l1 -0.5l1 -0.4l1 -0.4l1 -0.5l1 -0.4l1 -0.4l1 -0.4l1 -0.5l1 -0.4l1 -0.4l1 -0.4l1 -0.5l1 -0.4l1 -0.4l1 -0.4l1 -0.5l1 -0.4l1 -0.4l1 -0.4l1 -0.4l1 -0.4l1 -0.5l1 -0.4l1 -0.4l1 -0.4l1 -0.4l1 -0.4l1 -0.4l1 -0.4l1 -0.4l1 -0.4l1 -0.4l1 -0.4l1 -0.4l1 -0.4l1 -0.4l1 -0.4l1 -0.4l1 -0.4l1 -0.4l1 -0.4l1 -0.4l1 -0.4l1 -0.4l1 -0.3l1 -0.4l1 -0.4l1 -0.4l1 -0.4l1 -0.4l1 -0.3l1 -0.4l1 -0.4l1 -0.4l1 -0.4l1 -0.3l1 -0.4l1 -0.4l1 -0.3l1 -0.4l1 -0.4l1 -0.3l1 -0.4l1 -0.4l1 -0.3l1 -0.4l1 -0.4l1 -0.3l1 -0.4l1 -0.3l1 -0.4l1 -0.3l1 -0.4l1 -0.3l1 -0.4l1 -0.3l1 -0.4l1 -0.3l1 -0.4l1 -0.3l1 -0.4l1 -0.3l1 -0.4l1 -0.3l1 -0.3l1 -0.4l1 -0.3l1 -0.3l1 -0.4l1 -0.3l1 -0.3l1 -0.4l1 -0.3l1 -0.3l1 -0.3l1 -0.4l1 -0.3l1 -0.3l1 -0.3l1 -0.3l1 -0.4l1 -0.3l1 -0.3l1 -0.3l1 -0.3l1 -0.3l1 -0.3l1 -0.3l1 -0.4l1 -0.3l1 -0.3l1 -0.3l1 -0.3l1 -0.3l1 -0.3l1 -0.3l1 -0.3l1 -0.3l1 -0.3l1 -0.3l1 -0.2l1 -0.3l1 -0.3l1 -0.3l1 -0.3l1 -0.3l1 -0.3l1 -0.3l1 -0.2l1 -0.3l1 -0.3l1 -0.3l1 -0.3l1 -0.2l1 -0.3l1 -0.3l1 -0.2l1 -0.3l1 -0.3l1 -0.3l1 -0.2l1 -0.3l1 -0.3l1 -0.2l1 -0.3l1 -0.2l1 -0.3l1 -0.3l1 -0.2l1 -0.3l1 -0.2l1 -0.3l1 -0.2l1 -0.3l1 -0.2l1 -0.3l1 -0.2l1 -0.3l1 -0.2l1 -0.3l1 -0.2l1 -0.2l1 -0.3l1 -0.2l1 -0.3l1 -0.2l1 -0.2l1 -0.3l1 -0.2l1 -0.2l1 -0.2l1 -0.3l1 -0.2l1 -0.2l1 -0.3l1 -0.2l1 -0.2l1 -0.2l1 -0.2l1 -0.3l1 -0.2l1 -0.2l1 -0.2l1 -0.2l1 -0.2l1 -0.2l1 -0.2l1 -0.3l1 -0.2l1 -0.2l1 -0.2l1 -0.2l1 -0.2l1 -0.2l1 -0.2l1 -0.2l1 -0.2l1 -0.2l1 -0.2l1 -0.2l1 -0.1l1 -0.2l1 -0.2l1 -0.2l1 -0.2l1 -0.2l1 -0.2l1 -0.2l1 -0.1l1 -0.2l1 -0.2l1 -0.2l1 -0.2l1 -0.1l1 -0.2l1 -0.2l1 -0.2l1 -0.1l1 -0.2l1 -0.2l1 -0.1l1 -0.2l1 -0.2l1 -0.1l1 -0.2l1 -0.2l1 -0.1l1 -0.2l1 -0.2l1 -0.1l1 -0.2l1 -0.1l1 -0.2l1 -0.1l1 -0.2l1 -0.2l1 -0.1l1 -0.2l1 -0.1l1 -0.2l1 -0.1l1 -0.2l1 -0.1l1 -0.2l1 -0.1l1 -0.2l1 -0.1l1 -0.2l1 -0.1l1 -0.1l1 -0.2l1 -0.1l1 -0.2l1 -0.1l1 -0.2l1 -0.1l1 -0.1l1 -0.2l1 -0.1l1 -0.2l1 -0.1l1 -0.1l1 -0.2l1 -0.1l1 -0.1l1 -0.2l1 -0.1l1 -0.1l1 -0.2l1 -0.1l1 -0.2l1 -0.1l1 -0.1l1 -0.2l1 -0.1l1 -0.1l1 -0.2l1 -0.1l1 -0.1l1 -0.2l1 -0.1l1 -0.1l1 -0.2l1 -0.1l1 -0.2l1 -0.1l1 -0.1l1 -0.2l1 -0.1l1 -0.2l1 -0.1l1 -0.2l1 -0.1l1 -0.1l1 -0.2l1 -0.1l1 -0.2l1 -0.2l1 -0.1l1 -0.2l1 -0.1l1 -0.2l1 -0.2l1 -0.1l1 -0.2l1 -0.2l1 -0.2l1 -0.2l1 -0.2l1 -0.2l1 -0.2l1 -0.2l1 -0.2l1 -0.2l1 -0.3l1 -0.2l1 -0.3l1 -0.2l1 -0.3l1 -0.3l1 -0.3l1 -0.4l1 -0.3l1 -0.4l1 -0.4l1 -0.5l1 -0.5l1 -0.5l1 -0.6l1 -0.7l1 -0.7l1 -0.9l1 -1l1 -1.1l1 -1.2l1 -1.4l1 -1.7l1 -1.9l1 -2.1l1 -2.5l1 -2.7l1 -3.2l1 -3.5l1 -4l1 -4.3l1 -4.9l1 -5.3l1 -5.8l1 -6.1l1 -6.5l1 -6.5l1 -6.4l1 -5.8l1 -4.8l1 -3.3l1 -1.5l1 0.5l1 2.5l1 4.1l1 5.4l1 6l1 6.4l1 6.3l1 6.2l1 5.7l1 5.4l1 4.9l1 4.4l1 4l1 3.6l1 3.1l1 2.8l1 2.4l1 2.1l1 1.9l1 1.6l1 1.3l1 1.2l1 1l1 0.9l1 0.7l1 0.7l1 0.5l1 0.5l1 0.4l1 0.4l1 0.3l1 0.3l1 0.3l1 0.2l1 0.2l1 0.2l1 0.1l1 0.2l1 0.1l1 0.1l1 0.1l1 0.1l1 0.1l1 0.1l1 0l1 0.1l1 0l1 0.1l1 0l1 0.1l1 0l1 0l1 0.1l1 0l1 0l1 0l1 0l1 0l1 0l1 0l1 0l1 0l1 0l1 0l1 0l1 0l1 0l1 0l1 0l1 0l1 0l1 0l1 -0.1l1 0l1 0l1 0l1 0l1 0l1 -0.1l1 0l1 0l1 0l1 0l1 -0.1l1 0l1 0l1 0l1 0l1 -0.1l1 0l1 0l1 0l1 -0.1l1 0l1 0l1 0l1 -0.1l1 0l1 0l1 0l1 0l1 -0.1l1 0l1 0l1 0l1 -0.1l1 0l1 0l1 0l1 -0.1l1 0l1 0l1 0l1 -0.1l1 0l1 0l1 0l1 -0.1l1 0l1 0l1 0l1 0l1 -0.1l1 0l1 0l1 0l1 -0.1l1 0l1 0l1 0l1 0l1 -0.1l1 0l1 0l1 0l1 0l1 -0.1l1 0l1 0l1 0l1 0l1 -0.1l1 0l1 0l1 0l1 0l1 -0.1l1 0l1 0l1 0l1 0l1 -0.1l1 0l1 0l1 0l1 0l1 0l1 -0.1l1 0l1 0l1 0l1 0l1 0l1 -0.1l1 0l1 0l1 0l1 0l1 0l1 0l1 -0.1l1 0l1 0l1 0l1 0l1 0l1 0l1 -0.1l1 0l1 0l1 0l1 0l1 0l1 0l1 0l1 -0.1l1 0l1 0l1 0l1 0l1 0l1 0l1 0l1 0l1 -0.1l1 0l1 0l1 0l1 0l1 0l1 0l1 0l1 0l1 0l1 -0.1l1 0l1 0l1 0l1 0l1 0l1 0l1 0l1 0l1 0l1 0l1 0l1 -0.1l1 0l1 0l1 0l1 0l1 0l1 0l1 0l1 0l1 0l1 0l1 0l1 0l1 0l1 0l1 0l1 0l1 -0.1l1 0l1 0l1 0l1 0l1 0l1 0l1 0l1 0l1 0l1 0l1 0l1 0l1 0l1 0l1 0l1 0l1 0l1 0l1 0l1 0l1 0l1 0l1 0l1 0l1 0l1 0l1 0l1 -0.1l1 0l1 0l1 0l1 0l1 0l1 0l1 0l1 0l1 0l1 0l1 0l1 0l1 0l1 0l1 0l1 0l1 0l1 0l1 0l1 0l1 0l1 0l1 0l1 0l1 0l1 0l1 0l1 0l1 0l1 0l1 0l1 0l1 0l1 0l1 0l1 0l1 0l1 0l1 0l1 0l1 0l1 0l1 0l1 0l1 0l1 0l1 0l1 0l1 0l1 0l1 0l1 0l1 0l1 0l1 0l1 0l1 0l1 0l1 0l1 0l1 0l1 0l1 0l1 0l1 0l1 0l1 0l1 0l1 0l1 0l1 0l1 0l1 0l1 0l1 0l1 0l1 0l1 0l1 0l1 0l1 0l1 0l1 0l1 -0.1l1 0l1 0l1 0l1 0l1 0l1 0l1 0l1 0l1 -0.1l1 0l1 0l1 0l1 -0.1l1 0l1 0l1 -0.1l1 0l1 -0.1l1 -0.1l1 -0.1l1 -0.1l1 -0.1l1 -0.2l1 -0.2l1 -0.3l1 -0.3l1 -0.5l1 -0.6l1 -0.7l1 -0.9l1 -1l1 -0.7l1 -0.2l1 0.5l1 0.8l1 0.9l1 0.8l1 0.7l1 0.6l1 0.4l1 0.3l1 0.2l1 0.2l1 0.2l1 0.1l1 0.1l1 0.1l1 0l1 0.1l1 0l1 0.1l1 0l1 0l1 0l1 0l1 0l1 0l1 0l1 0l1 0l1 0l1 0l1 0l1 -0.1l1 0l1 0l1 0l1 -0.1l1 0l1 -0.1l1 0l1 -0.1l1 -0.1l1 -0.1l1 -0.1l1 -0.1l1 -0.1l1 -0.1l1 -0.2l1 -0.1l1 -0.1l1 -0.1l1 -0.1l1 -0.1l1 0l1 0l1 0.1l1 0.1l1 0.1l1 0.1l1 0.1l1 0.2l1 0.1l1 0.1l1 0.1l1 0.1l1 0l1 0.1l1 0.1l1 0l1 0.1l1 0l1 0l1 0.1l1 0l1 0l1 0l1 0l1 0l1 0l1 0l1 0l1 0l1 0l1 0l1 0l1 -0.1l1 0l1 0l1 -0.1l1 0l1 -0.1l1 -0.1l1 -0.1l1 -0.1l1 -0.1l1 -0.2l1 -0.2l1 -0.2l1 -0.3l1 -0.3l1 -0.2l1 -0.2l1 0l1 0.1l1 0.2l1 0.2l1 0.3l1 0.2l1 0.2l1 0.2l1 0.1l1 0.1l1 0.1l1 0.1l1 0.1l1 0l1 0.1l1 0l1 0l1 0l1 0l1 0l1 0l1 0l1 0l1 0l1 0l1 0l1 0l1 0l1 0l1 0l1 0l1 -0.1l1 0l1 0l1 0l1 0l1 -0.1l1 0l1 0l1 -0.1l1 0l1 0l1 -0.1l1 0l1 -0.1l1 0l1 -0.1l1 0l1 -0.1l1 0l1 -0.1l1 -0.1l1 -0.1l1 -0.1l1 -0.1l1 -0.1l1 -0.2l1 -0.1l1 -0.2l1 -0.3l1 -0.2l1 -0.3l1 -0.4l1 -0.5l1 -0.5l1 -0.7l1 -0.8l1 -1l1 -1.2l1 -1.2l1 -1.2l1 -0.8l1 -0.2l1 0.3l1 0.9l1 1.1l1 1l1 1l1 0.7l1 0.7l1 0.4l1 0.4l1 0.2l1 0.2l1 0l1 0.1l1 -0.1l1 -0.1l1 -0.1l1 -0.2l1 -0.3l1 -0.4l1 -0.5l1 -0.6l1 -0.8l1 -1l1 -1.4l1 -1.8l1 -2.3l1 -2.7l1 -2.7l1 -1.7l1 0.1l1 1.7l1 2.1l1 2l1 1.4l1 0.9l1 0.5l1 0.2l1 -0.2l1 -0.4l1 -0.6l1 -0.9l1 -1.1l1 -1.4l1 -1.8l1 -2.1l1 -2.6l1 -3.3l1 -4.1l1 -5.2l1 -6.8l1 -8.9l1 -12l1 -16.7l1 -24l1 -35.6l1 -54.7l1 -85.7l1 -129.5l1 -157.8l1 -83.8l1 83.4l1 157.3l1 129l1 85.1l1 53.9l1 34.6l1 22.7l1 15.1l1 9.9l1 6.7l1 4.9l1 4.7l1 5.2l1 5.4l1 4.9l1 4.1l1 3.3l1 2.6l1 2.1l1 1.7l1 1.4l1 1.2l1 1l1 0.8l1 0.6l1 0.6l1 0.5l1 0.3l1 0.3l1 0.2l1 0.2l1 0l1 -0.1l1 -0.2l1 -0.4l1 -0.5l1 -0.8l1 -0.9l1 -1l1 -0.8l1 -0.4l1 0.2l1 0.9l1 1.2l1 1.3l1 1.1l1 0.9l1 0.8l1 0.6l1 0.5l1 0.4l1 0.4l1 0.2l1 0.3l1 0.2l1 0.1l1 0.2l1 0.1l1 0.1l1 0.1l1 0.1l1 0.1l1 0.1l1 0l1 0.1l1 0l1 0.1l1 0l1 0l1 0.1l1 0l1 0l1 0l1 0.1l1 0l1 0l1 0l1 0l1 0l1 0.1l1 0l1 0l1 0l1 0l1 0l1 0l1 0l1 0l1 0l1 0l1 0l1 0l1 0l1 0l1 0l1 0l1 0l1 -0.1l1 0l1 0l1 0l1 0l1 0l1 0l1 0l1 -0.1l1 0l1 0l1 0l1 0l1 -0.1l1 0l1 0l1 -0.1l1 0l1 0l1 -0.1l1 0l1 -0.1l1 -0.1l1 0l1 -0.1l1 -0.2l1 -0.1l1 -0.2l1 -0.2l1 -0.3l1 -0.3l1 -0.4l1 -0.5l1 -0.4l1 -0.5l1 -0.3l1 0l1 0.3l1 0.3l1 0.3l1 0.3l1 0.2l1 0.1l1 -0.1l1 -0.1l1 -0.3l1 -0.4l1 -0.6l1 -0.7l1 -0.7l1 -0.6l1 -0.1l1 0.4l1 0.7l1 0.8l1 0.7l1 0.6l1 0.5l1 0.3l1 0.3l1 0.2l1 0.1l1 0.2l1 0.1l1 0l1 0.1l1 0l1 0.1l1 0l1 0l1 0.1l1 0l1 0l1 0l1 0l1 0l1 0l1 0l1 0l1 0l1 0l1 0l1 0l1 -0.1l1 0l1 0"/>
<path stroke="#a82c2e" stroke-width="3.6" d="M1283.8 640L1284.6 250L1285.6 99M1291.8 640L1291.0 250L1290.0 99"/>
<path stroke="#7a2a2c" stroke-width="2.6" d="M1289.8 250V76"/>
<path stroke="#a23a30" stroke-width="2.8" d="M1287.3 100V35"/>
<path stroke="#b23030" stroke-width="3" d="M1287.5 250V97"/>
<path stroke="#cf2f55" stroke-width="3.4" d="M1285.4 420V330M1290 420V336"/>
<path stroke="#e0803c" stroke-width="1.8" d="M1288.4 316V292"/>
<path stroke="#f1c9a0" stroke-width="2" d="M1287.6 640V470"/>
<path stroke="#fff" stroke-width="2.6" d="M1287.5 826V520"/>
<path stroke="#160404" stroke-width="2" d="M1287.3 27.5V36"/>
</g>
<rect x="131.0" y="4.7" width="1340.7" height="1082.9" fill="none" stroke="#000" stroke-width="4.8" stroke-linejoin="round"/>
<path d="M131.3 872V1086" stroke="#6a3440" stroke-width="2.2" fill="none" opacity=".8"/>
<g font-family="'Liberation Serif', 'Times New Roman', serif" font-weight="bold" fill="#000">
<g font-size="56" text-anchor="middle">
<text x="130.7" y="1154.6">10</text>
<text x="298.3" y="1154.6">15</text>
<text x="465.8" y="1154.6">20</text>
<text x="633.4" y="1154.6">25</text>
<text x="801.0" y="1154.6">30</text>
<text x="968.5" y="1154.6">35</text>
<text x="1136.1" y="1154.6">40</text>
<text x="1303.6" y="1154.6">45</text>
<text x="1471.2" y="1154.6">50</text>
</g>
<text y="1256" font-size="89"><tspan x="634">2</tspan> <tspan x="687" font-style="italic" textLength="55.4" lengthAdjust="spacingAndGlyphs">θ</tspan> <tspan x="753" y="1256.5" textLength="294" lengthAdjust="spacingAndGlyphs">degrees</tspan></text>
<text transform="translate(67.5 1062) rotate(-90)" font-size="91" textLength="577" lengthAdjust="spacingAndGlyphs">Intensity (a.u.)</text>
<path d="M244.5 99.8H372" stroke="#96504e" stroke-width="2.6" fill="none"/>
<text x="384.5" y="117.0" font-size="54.5" textLength="147" lengthAdjust="spacingAndGlyphs">298 K</text>
<path d="M244.5 178.6H372" stroke="#3f7a4c" stroke-width="2.6" fill="none"/>
<text x="384.5" y="195.0" font-size="54.5" textLength="147" lengthAdjust="spacingAndGlyphs">243 K</text>
<path d="M244.5 248.0H372" stroke="#6a4a82" stroke-width="2.6" fill="none"/>
<text x="384.5" y="267.0" font-size="54.5" textLength="147" lengthAdjust="spacingAndGlyphs">200 K</text>
<path d="M244.5 323.0H372" stroke="#d8b064" stroke-width="2.6" fill="none"/>
<text x="384.5" y="342.0" font-size="54.5" textLength="147" lengthAdjust="spacingAndGlyphs">150 K</text>
<path d="M244.5 396.5H372" stroke="#a04c98" stroke-width="2.6" fill="none"/>
<text x="384.5" y="415.5" font-size="54.5" textLength="147" lengthAdjust="spacingAndGlyphs">130 K</text>
<path d="M244.5 466.0H372" stroke="#944040" stroke-width="2.6" fill="none"/>
<text x="384.5" y="484.5" font-size="54.5" textLength="147" lengthAdjust="spacingAndGlyphs">298 K</text>
</g>
<g font-family="'Liberation Sans', Arial, sans-serif" font-weight="bold" style="font-kerning:none">
<text x="808.3" y="83.5" font-size="37" fill="#0a0a0a" textLength="271.5" lengthAdjust="spacingAndGlyphs">Graphite Shells</text>
<text y="135.5" font-size="36" fill="#1fb2e8"><tspan x="810.3" textLength="40" lengthAdjust="spacingAndGlyphs">Fe</tspan><tspan x="852.5" y="142" font-size="21">3</tspan><tspan x="863.8" y="135.5" textLength="24" lengthAdjust="spacingAndGlyphs">C</tspan></text>
<text y="184.7" font-size="36" fill="#4a48c8"><tspan x="811" font-size="42" fill="#5646b0" font-family="'Liberation Serif', serif" font-weight="normal" textLength="24" lengthAdjust="spacingAndGlyphs">α</tspan><tspan x="837.5" textLength="54" lengthAdjust="spacingAndGlyphs">-Fe</tspan></text>
<text y="544.8" font-size="53" fill="#0a0608"><tspan x="663.3" textLength="91" lengthAdjust="spacingAndGlyphs">002</tspan> <tspan x="762.5" textLength="33" lengthAdjust="spacingAndGlyphs">C</tspan></text>
<text transform="translate(1265.3 122.8) rotate(-90)" font-size="53" fill="#1fb0e6" textLength="90.4" lengthAdjust="spacingAndGlyphs">220</text>
<text transform="translate(1346.8 110.6) rotate(-90)" font-size="53" fill="#4848d4" textLength="90.0" lengthAdjust="spacingAndGlyphs">110</text>
<text transform="translate(1263.8 551.8) rotate(-90)" font-size="53" fill="#1fb0e6" textLength="87.5" lengthAdjust="spacingAndGlyphs">102</text>
<text transform="translate(1345.5 532.4) rotate(-90)" font-size="53" fill="#1fb0e6" textLength="80.7" lengthAdjust="spacingAndGlyphs">031</text>
<text transform="translate(1071.2 651.2) rotate(-90)" font-size="53" fill="#1fb0e6" textLength="87.0" lengthAdjust="spacingAndGlyphs">210</text>
<text transform="translate(1219.2 642.8) rotate(-90)" font-size="53" fill="#1fb0e6" textLength="80.7" lengthAdjust="spacingAndGlyphs">211</text>
<text transform="translate(1365.0 641.8) rotate(-90)" font-size="53" fill="#1fb0e6" textLength="86.4" lengthAdjust="spacingAndGlyphs">112</text>
</g>
</svg>
</body></html>
